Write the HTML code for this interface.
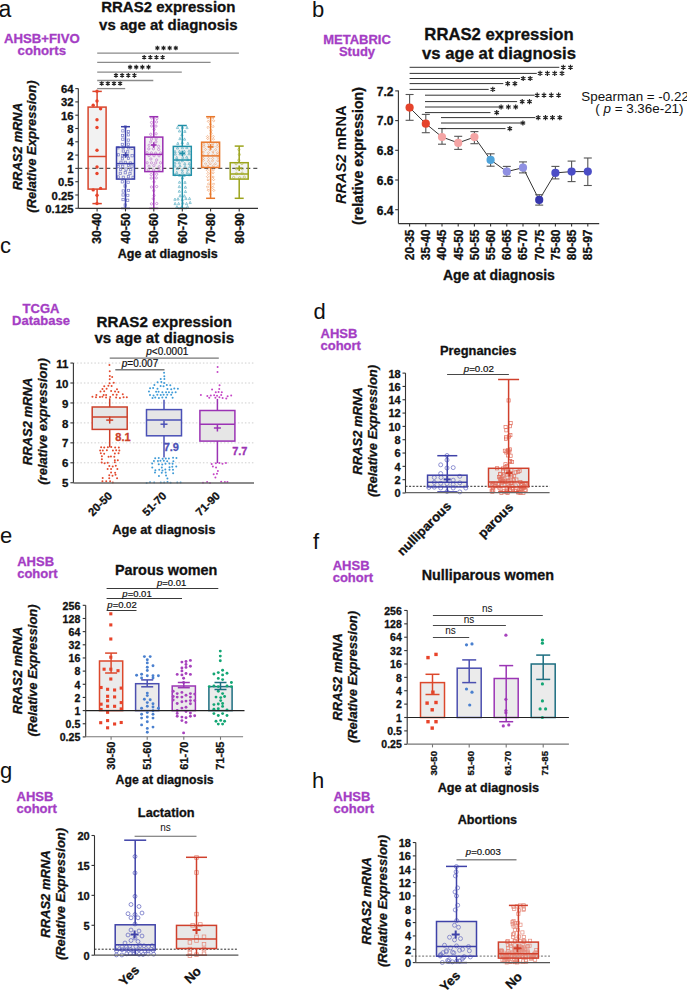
<!DOCTYPE html>
<html><head><meta charset="utf-8"><style>
html,body{margin:0;padding:0;background:#fff;}
svg{display:block;font-family:"Liberation Sans",sans-serif;}
</style></head><body>
<svg width="687" height="992" viewBox="0 0 687 992">
<rect width="687" height="992" fill="#fff"/>
<text x="-1.5" y="16.7" font-size="23" text-anchor="start" fill="#111">a</text>
<text x="41.8" y="43.2" font-size="13.2" font-weight="bold" stroke="#a43dc4" stroke-width="0.3" text-anchor="middle" fill="#a43dc4">AHSB+FIVO</text>
<text x="41.8" y="54.5" font-size="13.2" font-weight="bold" stroke="#a43dc4" stroke-width="0.3" text-anchor="middle" fill="#a43dc4">cohorts</text>
<text x="168.3" y="12.1" font-size="15" font-weight="bold" stroke="#111" stroke-width="0.3" text-anchor="middle" fill="#111">RRAS2 expression</text>
<text x="168.3" y="29.8" font-size="15" font-weight="bold" stroke="#111" stroke-width="0.3" text-anchor="middle" fill="#111">vs age at diagnosis</text>
<text x="22.2" y="146.6" font-size="13" font-weight="bold" stroke="#111" stroke-width="0.3" font-style="italic" text-anchor="middle" fill="#111" transform="rotate(-90 22.2 146.6)">RRAS2 mRNA</text>
<text x="36.4" y="146.6" font-size="13" font-weight="bold" stroke="#111" stroke-width="0.3" font-style="italic" text-anchor="middle" fill="#111" transform="rotate(-90 36.4 146.6)">(Relative Expression)</text>
<rect x="88.1" y="107.1" width="18" height="82" fill="#f2f2f2" stroke="none" stroke-width="1"/>
<rect x="116.5" y="147.2" width="18" height="31.9" fill="#f2f2f2" stroke="none" stroke-width="1"/>
<rect x="144.8" y="137.1" width="18" height="34.5" fill="#f2f2f2" stroke="none" stroke-width="1"/>
<rect x="173.3" y="146.4" width="18" height="28.8" fill="#f2f2f2" stroke="none" stroke-width="1"/>
<rect x="201.6" y="142.2" width="18" height="25.3" fill="#f2f2f2" stroke="none" stroke-width="1"/>
<rect x="230.2" y="162.7" width="18" height="16.4" fill="#f2f2f2" stroke="none" stroke-width="1"/>
<line x1="78.3" y1="168.4" x2="258" y2="168.4" stroke="#555" stroke-width="1.25" stroke-dasharray="4,3"/>
<rect x="124.25" y="125.75" width="2.3" height="2.3" fill="none" stroke="#7679c8" stroke-width="0.7"/>
<rect x="121.72" y="129.71" width="2.3" height="2.3" fill="none" stroke="#7679c8" stroke-width="0.7"/>
<rect x="127.3" y="130.42" width="2.3" height="2.3" fill="none" stroke="#7679c8" stroke-width="0.7"/>
<rect x="121.37" y="134.28" width="2.3" height="2.3" fill="none" stroke="#7679c8" stroke-width="0.7"/>
<rect x="127.3" y="133.67" width="2.3" height="2.3" fill="none" stroke="#7679c8" stroke-width="0.7"/>
<rect x="121.66" y="138.02" width="2.3" height="2.3" fill="none" stroke="#7679c8" stroke-width="0.7"/>
<rect x="127.25" y="138.96" width="2.3" height="2.3" fill="none" stroke="#7679c8" stroke-width="0.7"/>
<rect x="121.2" y="143.25" width="2.3" height="2.3" fill="none" stroke="#7679c8" stroke-width="0.7"/>
<rect x="127.24" y="143.1" width="2.3" height="2.3" fill="none" stroke="#7679c8" stroke-width="0.7"/>
<rect x="116.79" y="146.64" width="2.3" height="2.3" fill="none" stroke="#7679c8" stroke-width="0.7"/>
<rect x="121.95" y="146.39" width="2.3" height="2.3" fill="none" stroke="#7679c8" stroke-width="0.7"/>
<rect x="127.29" y="146.69" width="2.3" height="2.3" fill="none" stroke="#7679c8" stroke-width="0.7"/>
<rect x="130.94" y="147.23" width="2.3" height="2.3" fill="none" stroke="#7679c8" stroke-width="0.7"/>
<rect x="122.12" y="149.87" width="2.3" height="2.3" fill="none" stroke="#7679c8" stroke-width="0.7"/>
<rect x="126.54" y="150.72" width="2.3" height="2.3" fill="none" stroke="#7679c8" stroke-width="0.7"/>
<rect x="117.33" y="153.67" width="2.3" height="2.3" fill="none" stroke="#7679c8" stroke-width="0.7"/>
<rect x="121.39" y="154.49" width="2.3" height="2.3" fill="none" stroke="#7679c8" stroke-width="0.7"/>
<rect x="126.43" y="154.39" width="2.3" height="2.3" fill="none" stroke="#7679c8" stroke-width="0.7"/>
<rect x="131" y="154.61" width="2.3" height="2.3" fill="none" stroke="#7679c8" stroke-width="0.7"/>
<rect x="121.3" y="157.62" width="2.3" height="2.3" fill="none" stroke="#7679c8" stroke-width="0.7"/>
<rect x="127.34" y="157.29" width="2.3" height="2.3" fill="none" stroke="#7679c8" stroke-width="0.7"/>
<rect x="119.82" y="161.14" width="2.3" height="2.3" fill="none" stroke="#7679c8" stroke-width="0.7"/>
<rect x="124.19" y="161.19" width="2.3" height="2.3" fill="none" stroke="#7679c8" stroke-width="0.7"/>
<rect x="129.21" y="161.84" width="2.3" height="2.3" fill="none" stroke="#7679c8" stroke-width="0.7"/>
<rect x="117.07" y="165.25" width="2.3" height="2.3" fill="none" stroke="#7679c8" stroke-width="0.7"/>
<rect x="121.54" y="165.11" width="2.3" height="2.3" fill="none" stroke="#7679c8" stroke-width="0.7"/>
<rect x="127.33" y="164.25" width="2.3" height="2.3" fill="none" stroke="#7679c8" stroke-width="0.7"/>
<rect x="130.83" y="164.97" width="2.3" height="2.3" fill="none" stroke="#7679c8" stroke-width="0.7"/>
<rect x="119.44" y="168.23" width="2.3" height="2.3" fill="none" stroke="#7679c8" stroke-width="0.7"/>
<rect x="124.93" y="167.99" width="2.3" height="2.3" fill="none" stroke="#7679c8" stroke-width="0.7"/>
<rect x="129.55" y="168.6" width="2.3" height="2.3" fill="none" stroke="#7679c8" stroke-width="0.7"/>
<rect x="119.17" y="172.17" width="2.3" height="2.3" fill="none" stroke="#7679c8" stroke-width="0.7"/>
<rect x="124.12" y="171.57" width="2.3" height="2.3" fill="none" stroke="#7679c8" stroke-width="0.7"/>
<rect x="128.83" y="172.43" width="2.3" height="2.3" fill="none" stroke="#7679c8" stroke-width="0.7"/>
<rect x="117.2" y="175.87" width="2.3" height="2.3" fill="none" stroke="#7679c8" stroke-width="0.7"/>
<rect x="122.16" y="176.13" width="2.3" height="2.3" fill="none" stroke="#7679c8" stroke-width="0.7"/>
<rect x="127.3" y="175.54" width="2.3" height="2.3" fill="none" stroke="#7679c8" stroke-width="0.7"/>
<rect x="131.94" y="176.2" width="2.3" height="2.3" fill="none" stroke="#7679c8" stroke-width="0.7"/>
<rect x="121.17" y="180.67" width="2.3" height="2.3" fill="none" stroke="#7679c8" stroke-width="0.7"/>
<rect x="126.96" y="181.05" width="2.3" height="2.3" fill="none" stroke="#7679c8" stroke-width="0.7"/>
<rect x="123.94" y="184.83" width="2.3" height="2.3" fill="none" stroke="#7679c8" stroke-width="0.7"/>
<rect x="122.08" y="189.83" width="2.3" height="2.3" fill="none" stroke="#7679c8" stroke-width="0.7"/>
<rect x="127.35" y="189.31" width="2.3" height="2.3" fill="none" stroke="#7679c8" stroke-width="0.7"/>
<rect x="121.94" y="193.79" width="2.3" height="2.3" fill="none" stroke="#7679c8" stroke-width="0.7"/>
<rect x="126.65" y="194.22" width="2.3" height="2.3" fill="none" stroke="#7679c8" stroke-width="0.7"/>
<rect x="121.92" y="198.43" width="2.3" height="2.3" fill="none" stroke="#7679c8" stroke-width="0.7"/>
<rect x="126.53" y="199.12" width="2.3" height="2.3" fill="none" stroke="#7679c8" stroke-width="0.7"/>
<rect x="124.05" y="203.9" width="2.3" height="2.3" fill="none" stroke="#7679c8" stroke-width="0.7"/>
<circle cx="151.69" cy="117.97" r="1.15" fill="none" stroke="#c07ad0" stroke-width="0.7"/>
<circle cx="156.94" cy="118.48" r="1.15" fill="none" stroke="#c07ad0" stroke-width="0.7"/>
<circle cx="151.55" cy="122.46" r="1.15" fill="none" stroke="#c07ad0" stroke-width="0.7"/>
<circle cx="156.52" cy="121.91" r="1.15" fill="none" stroke="#c07ad0" stroke-width="0.7"/>
<circle cx="151.68" cy="125.97" r="1.15" fill="none" stroke="#c07ad0" stroke-width="0.7"/>
<circle cx="155.97" cy="126.11" r="1.15" fill="none" stroke="#c07ad0" stroke-width="0.7"/>
<circle cx="154.12" cy="129.41" r="1.15" fill="none" stroke="#c07ad0" stroke-width="0.7"/>
<circle cx="150.75" cy="134.26" r="1.15" fill="none" stroke="#c07ad0" stroke-width="0.7"/>
<circle cx="156.12" cy="133.79" r="1.15" fill="none" stroke="#c07ad0" stroke-width="0.7"/>
<circle cx="151.62" cy="139.1" r="1.15" fill="none" stroke="#c07ad0" stroke-width="0.7"/>
<circle cx="156.11" cy="138.89" r="1.15" fill="none" stroke="#c07ad0" stroke-width="0.7"/>
<circle cx="150.76" cy="141.91" r="1.15" fill="none" stroke="#c07ad0" stroke-width="0.7"/>
<circle cx="155.91" cy="141.83" r="1.15" fill="none" stroke="#c07ad0" stroke-width="0.7"/>
<circle cx="149.14" cy="145.29" r="1.15" fill="none" stroke="#c07ad0" stroke-width="0.7"/>
<circle cx="153.34" cy="145.54" r="1.15" fill="none" stroke="#c07ad0" stroke-width="0.7"/>
<circle cx="158.56" cy="146.33" r="1.15" fill="none" stroke="#c07ad0" stroke-width="0.7"/>
<circle cx="148.79" cy="148.86" r="1.15" fill="none" stroke="#c07ad0" stroke-width="0.7"/>
<circle cx="153.4" cy="148.82" r="1.15" fill="none" stroke="#c07ad0" stroke-width="0.7"/>
<circle cx="158.65" cy="149.45" r="1.15" fill="none" stroke="#c07ad0" stroke-width="0.7"/>
<circle cx="147.11" cy="152.72" r="1.15" fill="none" stroke="#c07ad0" stroke-width="0.7"/>
<circle cx="151.41" cy="152.89" r="1.15" fill="none" stroke="#c07ad0" stroke-width="0.7"/>
<circle cx="155.67" cy="153.12" r="1.15" fill="none" stroke="#c07ad0" stroke-width="0.7"/>
<circle cx="160.67" cy="153.04" r="1.15" fill="none" stroke="#c07ad0" stroke-width="0.7"/>
<circle cx="149.12" cy="155.61" r="1.15" fill="none" stroke="#c07ad0" stroke-width="0.7"/>
<circle cx="154.05" cy="155.7" r="1.15" fill="none" stroke="#c07ad0" stroke-width="0.7"/>
<circle cx="159.04" cy="155.78" r="1.15" fill="none" stroke="#c07ad0" stroke-width="0.7"/>
<circle cx="150.89" cy="158.99" r="1.15" fill="none" stroke="#c07ad0" stroke-width="0.7"/>
<circle cx="156.67" cy="159.99" r="1.15" fill="none" stroke="#c07ad0" stroke-width="0.7"/>
<circle cx="147.16" cy="162.79" r="1.15" fill="none" stroke="#c07ad0" stroke-width="0.7"/>
<circle cx="151.49" cy="162.85" r="1.15" fill="none" stroke="#c07ad0" stroke-width="0.7"/>
<circle cx="155.67" cy="162.91" r="1.15" fill="none" stroke="#c07ad0" stroke-width="0.7"/>
<circle cx="160.59" cy="162.82" r="1.15" fill="none" stroke="#c07ad0" stroke-width="0.7"/>
<circle cx="149.04" cy="166.23" r="1.15" fill="none" stroke="#c07ad0" stroke-width="0.7"/>
<circle cx="153.87" cy="165.68" r="1.15" fill="none" stroke="#c07ad0" stroke-width="0.7"/>
<circle cx="159.18" cy="166.77" r="1.15" fill="none" stroke="#c07ad0" stroke-width="0.7"/>
<circle cx="148.28" cy="169.79" r="1.15" fill="none" stroke="#c07ad0" stroke-width="0.7"/>
<circle cx="153.7" cy="170.04" r="1.15" fill="none" stroke="#c07ad0" stroke-width="0.7"/>
<circle cx="158.98" cy="169.75" r="1.15" fill="none" stroke="#c07ad0" stroke-width="0.7"/>
<circle cx="151.21" cy="174.54" r="1.15" fill="none" stroke="#c07ad0" stroke-width="0.7"/>
<circle cx="156.62" cy="174.25" r="1.15" fill="none" stroke="#c07ad0" stroke-width="0.7"/>
<circle cx="151.22" cy="178.07" r="1.15" fill="none" stroke="#c07ad0" stroke-width="0.7"/>
<circle cx="156.28" cy="177.87" r="1.15" fill="none" stroke="#c07ad0" stroke-width="0.7"/>
<circle cx="153.99" cy="181.85" r="1.15" fill="none" stroke="#c07ad0" stroke-width="0.7"/>
<circle cx="151.45" cy="186.98" r="1.15" fill="none" stroke="#c07ad0" stroke-width="0.7"/>
<circle cx="156.67" cy="186.55" r="1.15" fill="none" stroke="#c07ad0" stroke-width="0.7"/>
<circle cx="153.68" cy="190.59" r="1.15" fill="none" stroke="#c07ad0" stroke-width="0.7"/>
<circle cx="153.96" cy="195.56" r="1.15" fill="none" stroke="#c07ad0" stroke-width="0.7"/>
<circle cx="153.24" cy="198.81" r="1.15" fill="none" stroke="#c07ad0" stroke-width="0.7"/>
<circle cx="151.46" cy="203.87" r="1.15" fill="none" stroke="#c07ad0" stroke-width="0.7"/>
<circle cx="156.74" cy="203.55" r="1.15" fill="none" stroke="#c07ad0" stroke-width="0.7"/>
<path d="M177.5 126.28 L178.65 128.58 L176.35 128.58 Z" fill="none" stroke="#62b2c6" stroke-width="0.7"/>
<path d="M182.54 126.07 L183.69 128.37 L181.39 128.37 Z" fill="none" stroke="#62b2c6" stroke-width="0.7"/>
<path d="M186.99 126.35 L188.14 128.65 L185.84 128.65 Z" fill="none" stroke="#62b2c6" stroke-width="0.7"/>
<path d="M179.47 129.71 L180.62 132.01 L178.32 132.01 Z" fill="none" stroke="#62b2c6" stroke-width="0.7"/>
<path d="M184.93 130.1 L186.08 132.4 L183.78 132.4 Z" fill="none" stroke="#62b2c6" stroke-width="0.7"/>
<path d="M181.89 133.49 L183.04 135.79 L180.74 135.79 Z" fill="none" stroke="#62b2c6" stroke-width="0.7"/>
<path d="M179.96 137.36 L181.11 139.66 L178.81 139.66 Z" fill="none" stroke="#62b2c6" stroke-width="0.7"/>
<path d="M184.51 137.88 L185.66 140.18 L183.36 140.18 Z" fill="none" stroke="#62b2c6" stroke-width="0.7"/>
<path d="M177.83 142.14 L178.98 144.44 L176.68 144.44 Z" fill="none" stroke="#62b2c6" stroke-width="0.7"/>
<path d="M182.25 141.38 L183.4 143.68 L181.1 143.68 Z" fill="none" stroke="#62b2c6" stroke-width="0.7"/>
<path d="M187.85 142.09 L189 144.39 L186.7 144.39 Z" fill="none" stroke="#62b2c6" stroke-width="0.7"/>
<path d="M177.51 146.7 L178.66 149 L176.36 149 Z" fill="none" stroke="#62b2c6" stroke-width="0.7"/>
<path d="M182.4 146.48 L183.55 148.78 L181.25 148.78 Z" fill="none" stroke="#62b2c6" stroke-width="0.7"/>
<path d="M186.8 146.28 L187.95 148.58 L185.65 148.58 Z" fill="none" stroke="#62b2c6" stroke-width="0.7"/>
<path d="M175.01 150.26 L176.16 152.56 L173.86 152.56 Z" fill="none" stroke="#62b2c6" stroke-width="0.7"/>
<path d="M179.48 150.07 L180.63 152.37 L178.33 152.37 Z" fill="none" stroke="#62b2c6" stroke-width="0.7"/>
<path d="M184.34 149.97 L185.49 152.27 L183.19 152.27 Z" fill="none" stroke="#62b2c6" stroke-width="0.7"/>
<path d="M189.03 149.7 L190.18 152 L187.88 152 Z" fill="none" stroke="#62b2c6" stroke-width="0.7"/>
<path d="M175.26 152.77 L176.41 155.07 L174.11 155.07 Z" fill="none" stroke="#62b2c6" stroke-width="0.7"/>
<path d="M180.04 152.59 L181.19 154.89 L178.89 154.89 Z" fill="none" stroke="#62b2c6" stroke-width="0.7"/>
<path d="M184.31 152.71 L185.46 155.01 L183.16 155.01 Z" fill="none" stroke="#62b2c6" stroke-width="0.7"/>
<path d="M189.03 152.48 L190.18 154.78 L187.88 154.78 Z" fill="none" stroke="#62b2c6" stroke-width="0.7"/>
<path d="M176.74 156.22 L177.89 158.52 L175.59 158.52 Z" fill="none" stroke="#62b2c6" stroke-width="0.7"/>
<path d="M182.82 156.1 L183.97 158.4 L181.67 158.4 Z" fill="none" stroke="#62b2c6" stroke-width="0.7"/>
<path d="M186.72 155.85 L187.87 158.15 L185.57 158.15 Z" fill="none" stroke="#62b2c6" stroke-width="0.7"/>
<path d="M177.18 158.78 L178.33 161.08 L176.03 161.08 Z" fill="none" stroke="#62b2c6" stroke-width="0.7"/>
<path d="M182.24 159.44 L183.39 161.74 L181.09 161.74 Z" fill="none" stroke="#62b2c6" stroke-width="0.7"/>
<path d="M187.83 158.43 L188.98 160.73 L186.68 160.73 Z" fill="none" stroke="#62b2c6" stroke-width="0.7"/>
<path d="M174.93 161.69 L176.08 163.99 L173.78 163.99 Z" fill="none" stroke="#62b2c6" stroke-width="0.7"/>
<path d="M179.3 161.45 L180.45 163.75 L178.15 163.75 Z" fill="none" stroke="#62b2c6" stroke-width="0.7"/>
<path d="M184.78 162.34 L185.93 164.64 L183.63 164.64 Z" fill="none" stroke="#62b2c6" stroke-width="0.7"/>
<path d="M189.22 162.26 L190.37 164.56 L188.07 164.56 Z" fill="none" stroke="#62b2c6" stroke-width="0.7"/>
<path d="M174.93 164.73 L176.08 167.03 L173.78 167.03 Z" fill="none" stroke="#62b2c6" stroke-width="0.7"/>
<path d="M179.96 164.52 L181.11 166.82 L178.81 166.82 Z" fill="none" stroke="#62b2c6" stroke-width="0.7"/>
<path d="M185.06 165.26 L186.21 167.56 L183.91 167.56 Z" fill="none" stroke="#62b2c6" stroke-width="0.7"/>
<path d="M189.81 165.31 L190.96 167.61 L188.66 167.61 Z" fill="none" stroke="#62b2c6" stroke-width="0.7"/>
<path d="M177.49 167.34 L178.64 169.64 L176.34 169.64 Z" fill="none" stroke="#62b2c6" stroke-width="0.7"/>
<path d="M182.22 168.25 L183.37 170.55 L181.07 170.55 Z" fill="none" stroke="#62b2c6" stroke-width="0.7"/>
<path d="M187.89 168.04 L189.04 170.34 L186.74 170.34 Z" fill="none" stroke="#62b2c6" stroke-width="0.7"/>
<path d="M176.77 171.23 L177.92 173.53 L175.62 173.53 Z" fill="none" stroke="#62b2c6" stroke-width="0.7"/>
<path d="M182.43 170.99 L183.58 173.29 L181.28 173.29 Z" fill="none" stroke="#62b2c6" stroke-width="0.7"/>
<path d="M187.27 171.21 L188.42 173.51 L186.12 173.51 Z" fill="none" stroke="#62b2c6" stroke-width="0.7"/>
<path d="M174.88 173.43 L176.03 175.73 L173.73 175.73 Z" fill="none" stroke="#62b2c6" stroke-width="0.7"/>
<path d="M179.65 174.02 L180.8 176.32 L178.5 176.32 Z" fill="none" stroke="#62b2c6" stroke-width="0.7"/>
<path d="M184.11 174.22 L185.26 176.52 L182.96 176.52 Z" fill="none" stroke="#62b2c6" stroke-width="0.7"/>
<path d="M189.5 173.47 L190.65 175.77 L188.35 175.77 Z" fill="none" stroke="#62b2c6" stroke-width="0.7"/>
<path d="M182.51 176.48 L183.66 178.78 L181.36 178.78 Z" fill="none" stroke="#62b2c6" stroke-width="0.7"/>
<path d="M179.52 180.94 L180.67 183.24 L178.37 183.24 Z" fill="none" stroke="#62b2c6" stroke-width="0.7"/>
<path d="M185 181.08 L186.15 183.38 L183.85 183.38 Z" fill="none" stroke="#62b2c6" stroke-width="0.7"/>
<path d="M179.29 185.37 L180.44 187.67 L178.14 187.67 Z" fill="none" stroke="#62b2c6" stroke-width="0.7"/>
<path d="M185.42 185.9 L186.57 188.2 L184.27 188.2 Z" fill="none" stroke="#62b2c6" stroke-width="0.7"/>
<path d="M179.34 189.98 L180.49 192.28 L178.19 192.28 Z" fill="none" stroke="#62b2c6" stroke-width="0.7"/>
<path d="M185.44 190.26 L186.59 192.56 L184.29 192.56 Z" fill="none" stroke="#62b2c6" stroke-width="0.7"/>
<path d="M180.09 194.51 L181.24 196.81 L178.94 196.81 Z" fill="none" stroke="#62b2c6" stroke-width="0.7"/>
<path d="M184.35 194.67 L185.5 196.97 L183.2 196.97 Z" fill="none" stroke="#62b2c6" stroke-width="0.7"/>
<path d="M174.96 198.02 L176.11 200.32 L173.81 200.32 Z" fill="none" stroke="#62b2c6" stroke-width="0.7"/>
<path d="M178.03 197.69 L179.18 199.99 L176.88 199.99 Z" fill="none" stroke="#62b2c6" stroke-width="0.7"/>
<path d="M182.27 198.29 L183.42 200.59 L181.12 200.59 Z" fill="none" stroke="#62b2c6" stroke-width="0.7"/>
<path d="M185.93 197.27 L187.08 199.57 L184.78 199.57 Z" fill="none" stroke="#62b2c6" stroke-width="0.7"/>
<path d="M189.54 197.32 L190.69 199.62 L188.39 199.62 Z" fill="none" stroke="#62b2c6" stroke-width="0.7"/>
<path d="M175.13 202.33 L176.28 204.63 L173.98 204.63 Z" fill="none" stroke="#62b2c6" stroke-width="0.7"/>
<path d="M178.64 202.34 L179.79 204.64 L177.49 204.64 Z" fill="none" stroke="#62b2c6" stroke-width="0.7"/>
<path d="M182.86 201.72 L184.01 204.02 L181.71 204.02 Z" fill="none" stroke="#62b2c6" stroke-width="0.7"/>
<path d="M186.53 202.37 L187.68 204.67 L185.38 204.67 Z" fill="none" stroke="#62b2c6" stroke-width="0.7"/>
<path d="M190.15 201.26 L191.3 203.56 L189 203.56 Z" fill="none" stroke="#62b2c6" stroke-width="0.7"/>
<path d="M176.91 205.57 L178.06 207.87 L175.76 207.87 Z" fill="none" stroke="#62b2c6" stroke-width="0.7"/>
<path d="M181.73 205.7 L182.88 208 L180.58 208 Z" fill="none" stroke="#62b2c6" stroke-width="0.7"/>
<path d="M187.6 205.47 L188.75 207.77 L186.45 207.77 Z" fill="none" stroke="#62b2c6" stroke-width="0.7"/>
<path d="M208 116.75 L209.15 117.9 L208 119.05 L206.85 117.9 Z" fill="none" stroke="#f0a470" stroke-width="0.7"/>
<path d="M212.87 116.87 L214.02 118.02 L212.87 119.17 L211.72 118.02 Z" fill="none" stroke="#f0a470" stroke-width="0.7"/>
<path d="M208.33 120.14 L209.48 121.29 L208.33 122.44 L207.18 121.29 Z" fill="none" stroke="#f0a470" stroke-width="0.7"/>
<path d="M213.66 119.68 L214.81 120.83 L213.66 121.98 L212.51 120.83 Z" fill="none" stroke="#f0a470" stroke-width="0.7"/>
<path d="M210.29 122.97 L211.44 124.12 L210.29 125.27 L209.14 124.12 Z" fill="none" stroke="#f0a470" stroke-width="0.7"/>
<path d="M208.05 126.23 L209.2 127.38 L208.05 128.53 L206.9 127.38 Z" fill="none" stroke="#f0a470" stroke-width="0.7"/>
<path d="M213.03 125.41 L214.18 126.56 L213.03 127.71 L211.88 126.56 Z" fill="none" stroke="#f0a470" stroke-width="0.7"/>
<path d="M211.09 129.4 L212.24 130.55 L211.09 131.7 L209.94 130.55 Z" fill="none" stroke="#f0a470" stroke-width="0.7"/>
<path d="M211.18 132.14 L212.33 133.29 L211.18 134.44 L210.03 133.29 Z" fill="none" stroke="#f0a470" stroke-width="0.7"/>
<path d="M207.53 135.36 L208.68 136.51 L207.53 137.66 L206.38 136.51 Z" fill="none" stroke="#f0a470" stroke-width="0.7"/>
<path d="M213.23 135.32 L214.38 136.47 L213.23 137.62 L212.08 136.47 Z" fill="none" stroke="#f0a470" stroke-width="0.7"/>
<path d="M207.76 137.44 L208.91 138.59 L207.76 139.74 L206.61 138.59 Z" fill="none" stroke="#f0a470" stroke-width="0.7"/>
<path d="M213.39 137.99 L214.54 139.14 L213.39 140.29 L212.24 139.14 Z" fill="none" stroke="#f0a470" stroke-width="0.7"/>
<path d="M203.93 143.15 L205.08 144.3 L203.93 145.45 L202.78 144.3 Z" fill="none" stroke="#f0a470" stroke-width="0.7"/>
<path d="M208.38 142.55 L209.53 143.7 L208.38 144.85 L207.23 143.7 Z" fill="none" stroke="#f0a470" stroke-width="0.7"/>
<path d="M212.92 142.7 L214.07 143.85 L212.92 145 L211.77 143.85 Z" fill="none" stroke="#f0a470" stroke-width="0.7"/>
<path d="M217.59 142.57 L218.74 143.72 L217.59 144.87 L216.44 143.72 Z" fill="none" stroke="#f0a470" stroke-width="0.7"/>
<path d="M204.03 145.3 L205.18 146.45 L204.03 147.6 L202.88 146.45 Z" fill="none" stroke="#f0a470" stroke-width="0.7"/>
<path d="M208.55 145.45 L209.7 146.6 L208.55 147.75 L207.4 146.6 Z" fill="none" stroke="#f0a470" stroke-width="0.7"/>
<path d="M212.93 145.41 L214.08 146.56 L212.93 147.71 L211.78 146.56 Z" fill="none" stroke="#f0a470" stroke-width="0.7"/>
<path d="M217.17 145.31 L218.32 146.46 L217.17 147.61 L216.02 146.46 Z" fill="none" stroke="#f0a470" stroke-width="0.7"/>
<path d="M205.45 148.32 L206.6 149.47 L205.45 150.62 L204.3 149.47 Z" fill="none" stroke="#f0a470" stroke-width="0.7"/>
<path d="M210 148.65 L211.15 149.8 L210 150.95 L208.85 149.8 Z" fill="none" stroke="#f0a470" stroke-width="0.7"/>
<path d="M215.7 148.54 L216.85 149.69 L215.7 150.84 L214.55 149.69 Z" fill="none" stroke="#f0a470" stroke-width="0.7"/>
<path d="M203.24 150.92 L204.39 152.07 L203.24 153.22 L202.09 152.07 Z" fill="none" stroke="#f0a470" stroke-width="0.7"/>
<path d="M208.48 151.62 L209.63 152.77 L208.48 153.92 L207.33 152.77 Z" fill="none" stroke="#f0a470" stroke-width="0.7"/>
<path d="M212.98 150.72 L214.13 151.87 L212.98 153.02 L211.83 151.87 Z" fill="none" stroke="#f0a470" stroke-width="0.7"/>
<path d="M217.44 151.64 L218.59 152.79 L217.44 153.94 L216.29 152.79 Z" fill="none" stroke="#f0a470" stroke-width="0.7"/>
<path d="M203.4 153.88 L204.55 155.03 L203.4 156.18 L202.25 155.03 Z" fill="none" stroke="#f0a470" stroke-width="0.7"/>
<path d="M208.28 153.99 L209.43 155.14 L208.28 156.29 L207.13 155.14 Z" fill="none" stroke="#f0a470" stroke-width="0.7"/>
<path d="M213.26 153.53 L214.41 154.68 L213.26 155.83 L212.11 154.68 Z" fill="none" stroke="#f0a470" stroke-width="0.7"/>
<path d="M217.31 153.58 L218.46 154.73 L217.31 155.88 L216.16 154.73 Z" fill="none" stroke="#f0a470" stroke-width="0.7"/>
<path d="M203.3 157.19 L204.45 158.34 L203.3 159.49 L202.15 158.34 Z" fill="none" stroke="#f0a470" stroke-width="0.7"/>
<path d="M208.55 157.36 L209.7 158.51 L208.55 159.66 L207.4 158.51 Z" fill="none" stroke="#f0a470" stroke-width="0.7"/>
<path d="M212.64 157.27 L213.79 158.42 L212.64 159.57 L211.49 158.42 Z" fill="none" stroke="#f0a470" stroke-width="0.7"/>
<path d="M218.07 156.34 L219.22 157.49 L218.07 158.64 L216.92 157.49 Z" fill="none" stroke="#f0a470" stroke-width="0.7"/>
<path d="M203.3 159.21 L204.45 160.36 L203.3 161.51 L202.15 160.36 Z" fill="none" stroke="#f0a470" stroke-width="0.7"/>
<path d="M208.5 160.17 L209.65 161.32 L208.5 162.47 L207.35 161.32 Z" fill="none" stroke="#f0a470" stroke-width="0.7"/>
<path d="M212.53 159.79 L213.68 160.94 L212.53 162.09 L211.38 160.94 Z" fill="none" stroke="#f0a470" stroke-width="0.7"/>
<path d="M217.78 159.67 L218.93 160.82 L217.78 161.97 L216.63 160.82 Z" fill="none" stroke="#f0a470" stroke-width="0.7"/>
<path d="M205.6 162.71 L206.75 163.86 L205.6 165.01 L204.45 163.86 Z" fill="none" stroke="#f0a470" stroke-width="0.7"/>
<path d="M210.26 162.67 L211.41 163.82 L210.26 164.97 L209.11 163.82 Z" fill="none" stroke="#f0a470" stroke-width="0.7"/>
<path d="M215.4 162.63 L216.55 163.78 L215.4 164.93 L214.25 163.78 Z" fill="none" stroke="#f0a470" stroke-width="0.7"/>
<path d="M203.01 165.66 L204.16 166.81 L203.01 167.96 L201.86 166.81 Z" fill="none" stroke="#f0a470" stroke-width="0.7"/>
<path d="M207.94 164.96 L209.09 166.11 L207.94 167.26 L206.79 166.11 Z" fill="none" stroke="#f0a470" stroke-width="0.7"/>
<path d="M213.39 164.72 L214.54 165.87 L213.39 167.02 L212.24 165.87 Z" fill="none" stroke="#f0a470" stroke-width="0.7"/>
<path d="M217.91 165.37 L219.06 166.52 L217.91 167.67 L216.76 166.52 Z" fill="none" stroke="#f0a470" stroke-width="0.7"/>
<path d="M207.43 169.12 L208.58 170.27 L207.43 171.42 L206.28 170.27 Z" fill="none" stroke="#f0a470" stroke-width="0.7"/>
<path d="M213.31 168.78 L214.46 169.93 L213.31 171.08 L212.16 169.93 Z" fill="none" stroke="#f0a470" stroke-width="0.7"/>
<path d="M208.05 172.31 L209.2 173.46 L208.05 174.61 L206.9 173.46 Z" fill="none" stroke="#f0a470" stroke-width="0.7"/>
<path d="M213.12 171.68 L214.27 172.83 L213.12 173.98 L211.97 172.83 Z" fill="none" stroke="#f0a470" stroke-width="0.7"/>
<path d="M207.57 175.53 L208.72 176.68 L207.57 177.83 L206.42 176.68 Z" fill="none" stroke="#f0a470" stroke-width="0.7"/>
<path d="M213.13 175.83 L214.28 176.98 L213.13 178.13 L211.98 176.98 Z" fill="none" stroke="#f0a470" stroke-width="0.7"/>
<path d="M208.02 178.72 L209.17 179.87 L208.02 181.02 L206.87 179.87 Z" fill="none" stroke="#f0a470" stroke-width="0.7"/>
<path d="M213.55 178.47 L214.7 179.62 L213.55 180.77 L212.4 179.62 Z" fill="none" stroke="#f0a470" stroke-width="0.7"/>
<path d="M208.48 182.86 L209.63 184.01 L208.48 185.16 L207.33 184.01 Z" fill="none" stroke="#f0a470" stroke-width="0.7"/>
<path d="M213.53 182.93 L214.68 184.08 L213.53 185.23 L212.38 184.08 Z" fill="none" stroke="#f0a470" stroke-width="0.7"/>
<path d="M207.5 185.84 L208.65 186.99 L207.5 188.14 L206.35 186.99 Z" fill="none" stroke="#f0a470" stroke-width="0.7"/>
<path d="M212.8 186.21 L213.95 187.36 L212.8 188.51 L211.65 187.36 Z" fill="none" stroke="#f0a470" stroke-width="0.7"/>
<path d="M208.23 189.01 L209.38 190.16 L208.23 191.31 L207.08 190.16 Z" fill="none" stroke="#f0a470" stroke-width="0.7"/>
<path d="M213.76 189.2 L214.91 190.35 L213.76 191.5 L212.61 190.35 Z" fill="none" stroke="#f0a470" stroke-width="0.7"/>
<path d="M210.18 192.8 L211.33 193.95 L210.18 195.1 L209.03 193.95 Z" fill="none" stroke="#f0a470" stroke-width="0.7"/>
<circle cx="238.87" cy="149.53" r="1.15" fill="none" stroke="#b8bd5a" stroke-width="0.7"/>
<circle cx="239.35" cy="154.55" r="1.15" fill="none" stroke="#b8bd5a" stroke-width="0.7"/>
<circle cx="238.84" cy="160.24" r="1.15" fill="none" stroke="#b8bd5a" stroke-width="0.7"/>
<circle cx="236.1" cy="163.69" r="1.15" fill="none" stroke="#b8bd5a" stroke-width="0.7"/>
<circle cx="241.92" cy="163.52" r="1.15" fill="none" stroke="#b8bd5a" stroke-width="0.7"/>
<circle cx="236.52" cy="168.85" r="1.15" fill="none" stroke="#b8bd5a" stroke-width="0.7"/>
<circle cx="242.31" cy="168.74" r="1.15" fill="none" stroke="#b8bd5a" stroke-width="0.7"/>
<circle cx="236.48" cy="173.55" r="1.15" fill="none" stroke="#b8bd5a" stroke-width="0.7"/>
<circle cx="242.17" cy="173.22" r="1.15" fill="none" stroke="#b8bd5a" stroke-width="0.7"/>
<circle cx="233.64" cy="177.5" r="1.15" fill="none" stroke="#b8bd5a" stroke-width="0.7"/>
<circle cx="239.67" cy="177.83" r="1.15" fill="none" stroke="#b8bd5a" stroke-width="0.7"/>
<circle cx="244.3" cy="177.12" r="1.15" fill="none" stroke="#b8bd5a" stroke-width="0.7"/>
<line x1="97.1" y1="91.4" x2="97.1" y2="107.1" stroke="#d8452c" stroke-width="1.5"/>
<line x1="97.1" y1="189.1" x2="97.1" y2="203.6" stroke="#d8452c" stroke-width="1.5"/>
<line x1="92.4" y1="91.4" x2="101.8" y2="91.4" stroke="#d8452c" stroke-width="1.5"/>
<line x1="92.4" y1="203.6" x2="101.8" y2="203.6" stroke="#d8452c" stroke-width="1.5"/>
<rect x="88.1" y="107.1" width="18" height="82" fill="none" stroke="#d8452c" stroke-width="1.5"/>
<line x1="88.1" y1="156.5" x2="106.1" y2="156.5" stroke="#d8452c" stroke-width="1.5"/>
<line x1="125.5" y1="126.7" x2="125.5" y2="147.2" stroke="#3b40a8" stroke-width="1.5"/>
<line x1="125.5" y1="179.1" x2="125.5" y2="208.4" stroke="#3b40a8" stroke-width="1.5"/>
<line x1="121" y1="126.7" x2="130" y2="126.7" stroke="#3b40a8" stroke-width="1.5"/>
<line x1="121" y1="208.4" x2="130" y2="208.4" stroke="#3b40a8" stroke-width="1.5"/>
<rect x="116.5" y="147.2" width="18" height="31.9" fill="none" stroke="#3b40a8" stroke-width="1.5"/>
<line x1="116.5" y1="163.6" x2="134.5" y2="163.6" stroke="#3b40a8" stroke-width="1.5"/>
<line x1="122.7" y1="155" x2="128.3" y2="155" stroke="#3b40a8" stroke-width="1.6"/>
<line x1="125.5" y1="152.2" x2="125.5" y2="157.8" stroke="#3b40a8" stroke-width="1.6"/>
<line x1="153.8" y1="116.7" x2="153.8" y2="137.1" stroke="#9a30b2" stroke-width="1.5"/>
<line x1="153.8" y1="171.6" x2="153.8" y2="208.4" stroke="#9a30b2" stroke-width="1.5"/>
<line x1="149.3" y1="116.7" x2="158.3" y2="116.7" stroke="#9a30b2" stroke-width="1.5"/>
<line x1="149.3" y1="208.4" x2="158.3" y2="208.4" stroke="#9a30b2" stroke-width="1.5"/>
<rect x="144.8" y="137.1" width="18" height="34.5" fill="none" stroke="#9a30b2" stroke-width="1.5"/>
<line x1="144.8" y1="154.4" x2="162.8" y2="154.4" stroke="#9a30b2" stroke-width="1.5"/>
<line x1="151" y1="145" x2="156.6" y2="145" stroke="#9a30b2" stroke-width="1.6"/>
<line x1="153.8" y1="142.2" x2="153.8" y2="147.8" stroke="#9a30b2" stroke-width="1.6"/>
<line x1="182.3" y1="125.5" x2="182.3" y2="146.4" stroke="#2190a8" stroke-width="1.5"/>
<line x1="182.3" y1="175.2" x2="182.3" y2="208.4" stroke="#2190a8" stroke-width="1.5"/>
<line x1="177.8" y1="125.5" x2="186.8" y2="125.5" stroke="#2190a8" stroke-width="1.5"/>
<line x1="177.8" y1="208.4" x2="186.8" y2="208.4" stroke="#2190a8" stroke-width="1.5"/>
<rect x="173.3" y="146.4" width="18" height="28.8" fill="none" stroke="#2190a8" stroke-width="1.5"/>
<line x1="173.3" y1="160" x2="191.3" y2="160" stroke="#2190a8" stroke-width="1.5"/>
<line x1="179.5" y1="153.4" x2="185.1" y2="153.4" stroke="#2190a8" stroke-width="1.6"/>
<line x1="182.3" y1="150.6" x2="182.3" y2="156.2" stroke="#2190a8" stroke-width="1.6"/>
<line x1="210.6" y1="116.7" x2="210.6" y2="142.2" stroke="#e8782c" stroke-width="1.5"/>
<line x1="210.6" y1="167.5" x2="210.6" y2="198.3" stroke="#e8782c" stroke-width="1.5"/>
<line x1="206.1" y1="116.7" x2="215.1" y2="116.7" stroke="#e8782c" stroke-width="1.5"/>
<line x1="206.1" y1="198.3" x2="215.1" y2="198.3" stroke="#e8782c" stroke-width="1.5"/>
<rect x="201.6" y="142.2" width="18" height="25.3" fill="none" stroke="#e8782c" stroke-width="1.5"/>
<line x1="201.6" y1="155.9" x2="219.6" y2="155.9" stroke="#e8782c" stroke-width="1.5"/>
<line x1="207.8" y1="146.9" x2="213.4" y2="146.9" stroke="#e8782c" stroke-width="1.6"/>
<line x1="210.6" y1="144.1" x2="210.6" y2="149.7" stroke="#e8782c" stroke-width="1.6"/>
<line x1="239.2" y1="146.1" x2="239.2" y2="162.7" stroke="#9ca41c" stroke-width="1.5"/>
<line x1="239.2" y1="179.1" x2="239.2" y2="198.3" stroke="#9ca41c" stroke-width="1.5"/>
<line x1="234.7" y1="146.1" x2="243.7" y2="146.1" stroke="#9ca41c" stroke-width="1.5"/>
<line x1="234.7" y1="198.3" x2="243.7" y2="198.3" stroke="#9ca41c" stroke-width="1.5"/>
<rect x="230.2" y="162.7" width="18" height="16.4" fill="none" stroke="#9ca41c" stroke-width="1.5"/>
<line x1="230.2" y1="174" x2="248.2" y2="174" stroke="#9ca41c" stroke-width="1.5"/>
<line x1="236.4" y1="168.3" x2="242" y2="168.3" stroke="#9ca41c" stroke-width="1.6"/>
<line x1="239.2" y1="165.5" x2="239.2" y2="171.1" stroke="#9ca41c" stroke-width="1.6"/>
<circle cx="97" cy="91.3" r="1.7" fill="#e8432a" stroke="none" stroke-width="1"/>
<circle cx="97" cy="101" r="1.7" fill="#e8432a" stroke="none" stroke-width="1"/>
<circle cx="93.2" cy="105.2" r="1.7" fill="#e8432a" stroke="none" stroke-width="1"/>
<circle cx="100.6" cy="108.7" r="1.7" fill="#e8432a" stroke="none" stroke-width="1"/>
<circle cx="97" cy="119.7" r="1.7" fill="#e8432a" stroke="none" stroke-width="1"/>
<circle cx="97" cy="127.5" r="1.7" fill="#e8432a" stroke="none" stroke-width="1"/>
<circle cx="97" cy="150.2" r="1.7" fill="#e8432a" stroke="none" stroke-width="1"/>
<circle cx="97" cy="167" r="1.7" fill="#e8432a" stroke="none" stroke-width="1"/>
<circle cx="97" cy="173.5" r="1.7" fill="#e8432a" stroke="none" stroke-width="1"/>
<circle cx="93.2" cy="189.9" r="1.7" fill="#e8432a" stroke="none" stroke-width="1"/>
<circle cx="100.6" cy="188.4" r="1.7" fill="#e8432a" stroke="none" stroke-width="1"/>
<circle cx="97" cy="195.3" r="1.7" fill="#e8432a" stroke="none" stroke-width="1"/>
<circle cx="97" cy="203.5" r="1.7" fill="#e8432a" stroke="none" stroke-width="1"/>
<line x1="78.3" y1="88.6" x2="78.3" y2="208.4" stroke="#333" stroke-width="1.1"/>
<line x1="75.3" y1="88.6" x2="78.3" y2="88.6" stroke="#333" stroke-width="1.1"/>
<text x="73.6" y="93.12" font-size="11.3" font-weight="bold" stroke="#111" stroke-width="0.3" text-anchor="end" fill="#111">64</text>
<line x1="75.3" y1="101.9" x2="78.3" y2="101.9" stroke="#333" stroke-width="1.1"/>
<text x="73.6" y="106.42" font-size="11.3" font-weight="bold" stroke="#111" stroke-width="0.3" text-anchor="end" fill="#111">32</text>
<line x1="75.3" y1="115.2" x2="78.3" y2="115.2" stroke="#333" stroke-width="1.1"/>
<text x="73.6" y="119.72" font-size="11.3" font-weight="bold" stroke="#111" stroke-width="0.3" text-anchor="end" fill="#111">16</text>
<line x1="75.3" y1="128.5" x2="78.3" y2="128.5" stroke="#333" stroke-width="1.1"/>
<text x="73.6" y="133.02" font-size="11.3" font-weight="bold" stroke="#111" stroke-width="0.3" text-anchor="end" fill="#111">8</text>
<line x1="75.3" y1="141.8" x2="78.3" y2="141.8" stroke="#333" stroke-width="1.1"/>
<text x="73.6" y="146.32" font-size="11.3" font-weight="bold" stroke="#111" stroke-width="0.3" text-anchor="end" fill="#111">4</text>
<line x1="75.3" y1="155.1" x2="78.3" y2="155.1" stroke="#333" stroke-width="1.1"/>
<text x="73.6" y="159.62" font-size="11.3" font-weight="bold" stroke="#111" stroke-width="0.3" text-anchor="end" fill="#111">2</text>
<line x1="75.3" y1="168.4" x2="78.3" y2="168.4" stroke="#333" stroke-width="1.1"/>
<text x="73.6" y="172.92" font-size="11.3" font-weight="bold" stroke="#111" stroke-width="0.3" text-anchor="end" fill="#111">1</text>
<line x1="75.3" y1="181.7" x2="78.3" y2="181.7" stroke="#333" stroke-width="1.1"/>
<text x="73.6" y="186.22" font-size="11.3" font-weight="bold" stroke="#111" stroke-width="0.3" text-anchor="end" fill="#111">0.5</text>
<line x1="75.3" y1="195" x2="78.3" y2="195" stroke="#333" stroke-width="1.1"/>
<text x="73.6" y="199.52" font-size="11.3" font-weight="bold" stroke="#111" stroke-width="0.3" text-anchor="end" fill="#111">0.25</text>
<line x1="75.3" y1="208.3" x2="78.3" y2="208.3" stroke="#333" stroke-width="1.1"/>
<text x="73.6" y="212.82" font-size="11.3" font-weight="bold" stroke="#111" stroke-width="0.3" text-anchor="end" fill="#111">0.125</text>
<line x1="78.3" y1="208.4" x2="258" y2="208.4" stroke="#333" stroke-width="1.1"/>
<line x1="97.1" y1="208.4" x2="97.1" y2="211.4" stroke="#333" stroke-width="1.1"/>
<text x="101.4" y="213" font-size="12" font-weight="bold" stroke="#111" stroke-width="0.3" text-anchor="end" fill="#111" transform="rotate(-90 101.4 213)">30-40</text>
<line x1="125.5" y1="208.4" x2="125.5" y2="211.4" stroke="#333" stroke-width="1.1"/>
<text x="129.8" y="213" font-size="12" font-weight="bold" stroke="#111" stroke-width="0.3" text-anchor="end" fill="#111" transform="rotate(-90 129.8 213)">40-50</text>
<line x1="153.8" y1="208.4" x2="153.8" y2="211.4" stroke="#333" stroke-width="1.1"/>
<text x="158.1" y="213" font-size="12" font-weight="bold" stroke="#111" stroke-width="0.3" text-anchor="end" fill="#111" transform="rotate(-90 158.1 213)">50-60</text>
<line x1="182.3" y1="208.4" x2="182.3" y2="211.4" stroke="#333" stroke-width="1.1"/>
<text x="186.6" y="213" font-size="12" font-weight="bold" stroke="#111" stroke-width="0.3" text-anchor="end" fill="#111" transform="rotate(-90 186.6 213)">60-70</text>
<line x1="210.6" y1="208.4" x2="210.6" y2="211.4" stroke="#333" stroke-width="1.1"/>
<text x="214.9" y="213" font-size="12" font-weight="bold" stroke="#111" stroke-width="0.3" text-anchor="end" fill="#111" transform="rotate(-90 214.9 213)">70-80</text>
<line x1="239.2" y1="208.4" x2="239.2" y2="211.4" stroke="#333" stroke-width="1.1"/>
<text x="243.5" y="213" font-size="12" font-weight="bold" stroke="#111" stroke-width="0.3" text-anchor="end" fill="#111" transform="rotate(-90 243.5 213)">80-90</text>
<text x="167.8" y="257.6" font-size="12.5" font-weight="bold" stroke="#111" stroke-width="0.3" text-anchor="middle" fill="#111">Age at diagnosis</text>
<line x1="97.2" y1="88.6" x2="125.2" y2="88.6" stroke="#8a8a8a" stroke-width="1.3"/>
<path d="M101.68 81.2L101.68 85.8M99.68 82.35L103.67 84.65M103.67 82.35L99.68 84.65" stroke="#222" stroke-width="1.2" stroke-linecap="butt"/>
<path d="M107.83 81.2L107.83 85.8M105.83 82.35L109.82 84.65M109.82 82.35L105.83 84.65" stroke="#222" stroke-width="1.2" stroke-linecap="butt"/>
<path d="M113.98 81.2L113.98 85.8M111.98 82.35L115.97 84.65M115.97 82.35L111.98 84.65" stroke="#222" stroke-width="1.2" stroke-linecap="butt"/>
<path d="M120.12 81.2L120.12 85.8M118.13 82.35L122.12 84.65M122.12 82.35L118.13 84.65" stroke="#222" stroke-width="1.2" stroke-linecap="butt"/>
<line x1="97.2" y1="80.5" x2="153.3" y2="80.5" stroke="#8a8a8a" stroke-width="1.3"/>
<path d="M115.97 73.1L115.97 77.7M113.98 74.25L117.97 76.55M117.97 74.25L113.98 76.55" stroke="#222" stroke-width="1.2" stroke-linecap="butt"/>
<path d="M122.12 73.1L122.12 77.7M120.13 74.25L124.12 76.55M124.12 74.25L120.13 76.55" stroke="#222" stroke-width="1.2" stroke-linecap="butt"/>
<path d="M128.28 73.1L128.28 77.7M126.28 74.25L130.27 76.55M130.27 74.25L126.28 76.55" stroke="#222" stroke-width="1.2" stroke-linecap="butt"/>
<path d="M134.43 73.1L134.43 77.7M132.43 74.25L136.42 76.55M136.42 74.25L132.43 76.55" stroke="#222" stroke-width="1.2" stroke-linecap="butt"/>
<line x1="97.2" y1="72.2" x2="181.8" y2="72.2" stroke="#8a8a8a" stroke-width="1.3"/>
<path d="M130.08 64.8L130.08 69.4M128.08 65.95L132.07 68.25M132.07 65.95L128.08 68.25" stroke="#222" stroke-width="1.2" stroke-linecap="butt"/>
<path d="M136.23 64.8L136.23 69.4M134.23 65.95L138.22 68.25M138.22 65.95L134.23 68.25" stroke="#222" stroke-width="1.2" stroke-linecap="butt"/>
<path d="M142.38 64.8L142.38 69.4M140.38 65.95L144.37 68.25M144.37 65.95L140.38 68.25" stroke="#222" stroke-width="1.2" stroke-linecap="butt"/>
<path d="M148.53 64.8L148.53 69.4M146.53 65.95L150.52 68.25M150.52 65.95L146.53 68.25" stroke="#222" stroke-width="1.2" stroke-linecap="butt"/>
<line x1="97.2" y1="62.4" x2="210.6" y2="62.4" stroke="#8a8a8a" stroke-width="1.3"/>
<path d="M144.18 55L144.18 59.6M142.18 56.15L146.17 58.45M146.17 56.15L142.18 58.45" stroke="#222" stroke-width="1.2" stroke-linecap="butt"/>
<path d="M150.33 55L150.33 59.6M148.33 56.15L152.32 58.45M152.32 56.15L148.33 58.45" stroke="#222" stroke-width="1.2" stroke-linecap="butt"/>
<path d="M156.47 55L156.47 59.6M154.48 56.15L158.47 58.45M158.47 56.15L154.48 58.45" stroke="#222" stroke-width="1.2" stroke-linecap="butt"/>
<path d="M162.62 55L162.62 59.6M160.63 56.15L164.62 58.45M164.62 56.15L160.63 58.45" stroke="#222" stroke-width="1.2" stroke-linecap="butt"/>
<line x1="97.2" y1="53.1" x2="238.9" y2="53.1" stroke="#8a8a8a" stroke-width="1.3"/>
<path d="M157.38 45.7L157.38 50.3M155.38 46.85L159.37 49.15M159.37 46.85L155.38 49.15" stroke="#222" stroke-width="1.2" stroke-linecap="butt"/>
<path d="M163.53 45.7L163.53 50.3M161.53 46.85L165.52 49.15M165.52 46.85L161.53 49.15" stroke="#222" stroke-width="1.2" stroke-linecap="butt"/>
<path d="M169.67 45.7L169.67 50.3M167.68 46.85L171.67 49.15M171.67 46.85L167.68 49.15" stroke="#222" stroke-width="1.2" stroke-linecap="butt"/>
<path d="M175.82 45.7L175.82 50.3M173.83 46.85L177.82 49.15M177.82 46.85L173.83 49.15" stroke="#222" stroke-width="1.2" stroke-linecap="butt"/>
<text x="312" y="17" font-size="22" text-anchor="start" fill="#111">b</text>
<text x="357" y="43.7" font-size="13" font-weight="bold" stroke="#a43dc4" stroke-width="0.3" text-anchor="middle" fill="#a43dc4">METABRIC</text>
<text x="357" y="55.9" font-size="13" font-weight="bold" stroke="#a43dc4" stroke-width="0.3" text-anchor="middle" fill="#a43dc4">Study</text>
<text x="499" y="39.8" font-size="16.7" font-weight="bold" stroke="#111" stroke-width="0.3" text-anchor="middle" fill="#111">RRAS2 expression</text>
<text x="499" y="58.8" font-size="16.7" font-weight="bold" stroke="#111" stroke-width="0.3" text-anchor="middle" fill="#111">vs age at diagnosis</text>
<line x1="398.4" y1="90.6" x2="398.4" y2="223.6" stroke="#333" stroke-width="1.1"/>
<line x1="395.2" y1="90.9" x2="398.4" y2="90.9" stroke="#333" stroke-width="1.1"/>
<text x="393.4" y="95.7" font-size="12" font-weight="bold" stroke="#111" stroke-width="0.3" text-anchor="end" fill="#111">7.2</text>
<line x1="395.2" y1="120.6" x2="398.4" y2="120.6" stroke="#333" stroke-width="1.1"/>
<text x="393.4" y="125.4" font-size="12" font-weight="bold" stroke="#111" stroke-width="0.3" text-anchor="end" fill="#111">7.0</text>
<line x1="395.2" y1="150.3" x2="398.4" y2="150.3" stroke="#333" stroke-width="1.1"/>
<text x="393.4" y="155.1" font-size="12" font-weight="bold" stroke="#111" stroke-width="0.3" text-anchor="end" fill="#111">6.8</text>
<line x1="395.2" y1="180" x2="398.4" y2="180" stroke="#333" stroke-width="1.1"/>
<text x="393.4" y="184.8" font-size="12" font-weight="bold" stroke="#111" stroke-width="0.3" text-anchor="end" fill="#111">6.6</text>
<line x1="395.2" y1="209.7" x2="398.4" y2="209.7" stroke="#333" stroke-width="1.1"/>
<text x="393.4" y="214.5" font-size="12" font-weight="bold" stroke="#111" stroke-width="0.3" text-anchor="end" fill="#111">6.4</text>
<line x1="398.4" y1="223.6" x2="599.2" y2="223.6" stroke="#333" stroke-width="1.1"/>
<line x1="409.6" y1="223.6" x2="409.6" y2="226.6" stroke="#333" stroke-width="1.1"/>
<text x="413.9" y="229.5" font-size="12" font-weight="bold" stroke="#111" stroke-width="0.3" text-anchor="end" fill="#111" transform="rotate(-90 413.9 229.5)">20-35</text>
<line x1="425.8" y1="223.6" x2="425.8" y2="226.6" stroke="#333" stroke-width="1.1"/>
<text x="430.1" y="229.5" font-size="12" font-weight="bold" stroke="#111" stroke-width="0.3" text-anchor="end" fill="#111" transform="rotate(-90 430.1 229.5)">35-40</text>
<line x1="442" y1="223.6" x2="442" y2="226.6" stroke="#333" stroke-width="1.1"/>
<text x="446.3" y="229.5" font-size="12" font-weight="bold" stroke="#111" stroke-width="0.3" text-anchor="end" fill="#111" transform="rotate(-90 446.3 229.5)">40-45</text>
<line x1="458.2" y1="223.6" x2="458.2" y2="226.6" stroke="#333" stroke-width="1.1"/>
<text x="462.5" y="229.5" font-size="12" font-weight="bold" stroke="#111" stroke-width="0.3" text-anchor="end" fill="#111" transform="rotate(-90 462.5 229.5)">45-50</text>
<line x1="474.4" y1="223.6" x2="474.4" y2="226.6" stroke="#333" stroke-width="1.1"/>
<text x="478.7" y="229.5" font-size="12" font-weight="bold" stroke="#111" stroke-width="0.3" text-anchor="end" fill="#111" transform="rotate(-90 478.7 229.5)">50-55</text>
<line x1="490.6" y1="223.6" x2="490.6" y2="226.6" stroke="#333" stroke-width="1.1"/>
<text x="494.9" y="229.5" font-size="12" font-weight="bold" stroke="#111" stroke-width="0.3" text-anchor="end" fill="#111" transform="rotate(-90 494.9 229.5)">55-60</text>
<line x1="506.8" y1="223.6" x2="506.8" y2="226.6" stroke="#333" stroke-width="1.1"/>
<text x="511.1" y="229.5" font-size="12" font-weight="bold" stroke="#111" stroke-width="0.3" text-anchor="end" fill="#111" transform="rotate(-90 511.1 229.5)">60-65</text>
<line x1="523" y1="223.6" x2="523" y2="226.6" stroke="#333" stroke-width="1.1"/>
<text x="527.3" y="229.5" font-size="12" font-weight="bold" stroke="#111" stroke-width="0.3" text-anchor="end" fill="#111" transform="rotate(-90 527.3 229.5)">65-70</text>
<line x1="539.2" y1="223.6" x2="539.2" y2="226.6" stroke="#333" stroke-width="1.1"/>
<text x="543.5" y="229.5" font-size="12" font-weight="bold" stroke="#111" stroke-width="0.3" text-anchor="end" fill="#111" transform="rotate(-90 543.5 229.5)">70-75</text>
<line x1="555.4" y1="223.6" x2="555.4" y2="226.6" stroke="#333" stroke-width="1.1"/>
<text x="559.7" y="229.5" font-size="12" font-weight="bold" stroke="#111" stroke-width="0.3" text-anchor="end" fill="#111" transform="rotate(-90 559.7 229.5)">75-80</text>
<line x1="571.6" y1="223.6" x2="571.6" y2="226.6" stroke="#333" stroke-width="1.1"/>
<text x="575.9" y="229.5" font-size="12" font-weight="bold" stroke="#111" stroke-width="0.3" text-anchor="end" fill="#111" transform="rotate(-90 575.9 229.5)">80-85</text>
<line x1="587.8" y1="223.6" x2="587.8" y2="226.6" stroke="#333" stroke-width="1.1"/>
<text x="592.1" y="229.5" font-size="12" font-weight="bold" stroke="#111" stroke-width="0.3" text-anchor="end" fill="#111" transform="rotate(-90 592.1 229.5)">85-97</text>
<text x="498.9" y="280.4" font-size="14" font-weight="bold" stroke="#111" stroke-width="0.3" text-anchor="middle" fill="#111">Age at diagnosis</text>
<text transform="rotate(-90 346.3 154.7)" x="346.3" y="154.7" font-size="14.7" font-weight="bold" text-anchor="middle" fill="#111"><tspan font-style="italic">RRAS2</tspan> mRNA</text>
<text x="362.6" y="156" font-size="14.2" font-weight="bold" stroke="#111" stroke-width="0.3" text-anchor="middle" fill="#111" transform="rotate(-90 362.6 156)">(relative expression)</text>
<polyline points="409.6,107.6 425.8,123.7 442,137 458.2,142.9 474.4,137.1 490.6,159.9 506.8,171.6 523,167.7 539.2,199.9 555.4,172.9 571.6,171.6 587.8,171.6" fill="none" stroke="#333" stroke-width="1"/>
<line x1="409.6" y1="94.5" x2="409.6" y2="120.3" stroke="#555" stroke-width="1.1"/>
<line x1="405.6" y1="94.5" x2="413.6" y2="94.5" stroke="#555" stroke-width="1.1"/>
<line x1="405.6" y1="120.3" x2="413.6" y2="120.3" stroke="#555" stroke-width="1.1"/>
<line x1="425.8" y1="114.4" x2="425.8" y2="132.7" stroke="#555" stroke-width="1.1"/>
<line x1="421.8" y1="114.4" x2="429.8" y2="114.4" stroke="#555" stroke-width="1.1"/>
<line x1="421.8" y1="132.7" x2="429.8" y2="132.7" stroke="#555" stroke-width="1.1"/>
<line x1="442" y1="128.5" x2="442" y2="144.2" stroke="#555" stroke-width="1.1"/>
<line x1="438" y1="128.5" x2="446" y2="128.5" stroke="#555" stroke-width="1.1"/>
<line x1="438" y1="144.2" x2="446" y2="144.2" stroke="#555" stroke-width="1.1"/>
<line x1="458.2" y1="136.3" x2="458.2" y2="149.4" stroke="#555" stroke-width="1.1"/>
<line x1="454.2" y1="136.3" x2="462.2" y2="136.3" stroke="#555" stroke-width="1.1"/>
<line x1="454.2" y1="149.4" x2="462.2" y2="149.4" stroke="#555" stroke-width="1.1"/>
<line x1="474.4" y1="131.6" x2="474.4" y2="143.7" stroke="#555" stroke-width="1.1"/>
<line x1="470.4" y1="131.6" x2="478.4" y2="131.6" stroke="#555" stroke-width="1.1"/>
<line x1="470.4" y1="143.7" x2="478.4" y2="143.7" stroke="#555" stroke-width="1.1"/>
<line x1="490.6" y1="153.8" x2="490.6" y2="166.2" stroke="#555" stroke-width="1.1"/>
<line x1="486.6" y1="153.8" x2="494.6" y2="153.8" stroke="#555" stroke-width="1.1"/>
<line x1="486.6" y1="166.2" x2="494.6" y2="166.2" stroke="#555" stroke-width="1.1"/>
<line x1="506.8" y1="166.4" x2="506.8" y2="176.3" stroke="#555" stroke-width="1.1"/>
<line x1="502.8" y1="166.4" x2="510.8" y2="166.4" stroke="#555" stroke-width="1.1"/>
<line x1="502.8" y1="176.3" x2="510.8" y2="176.3" stroke="#555" stroke-width="1.1"/>
<line x1="523" y1="161.9" x2="523" y2="172.9" stroke="#555" stroke-width="1.1"/>
<line x1="519" y1="161.9" x2="527" y2="161.9" stroke="#555" stroke-width="1.1"/>
<line x1="519" y1="172.9" x2="527" y2="172.9" stroke="#555" stroke-width="1.1"/>
<line x1="539.2" y1="194.7" x2="539.2" y2="205.1" stroke="#555" stroke-width="1.1"/>
<line x1="535.2" y1="194.7" x2="543.2" y2="194.7" stroke="#555" stroke-width="1.1"/>
<line x1="535.2" y1="205.1" x2="543.2" y2="205.1" stroke="#555" stroke-width="1.1"/>
<line x1="555.4" y1="166.4" x2="555.4" y2="178.9" stroke="#555" stroke-width="1.1"/>
<line x1="551.4" y1="166.4" x2="559.4" y2="166.4" stroke="#555" stroke-width="1.1"/>
<line x1="551.4" y1="178.9" x2="559.4" y2="178.9" stroke="#555" stroke-width="1.1"/>
<line x1="571.6" y1="161.1" x2="571.6" y2="181.6" stroke="#555" stroke-width="1.1"/>
<line x1="567.6" y1="161.1" x2="575.6" y2="161.1" stroke="#555" stroke-width="1.1"/>
<line x1="567.6" y1="181.6" x2="575.6" y2="181.6" stroke="#555" stroke-width="1.1"/>
<line x1="587.8" y1="158" x2="587.8" y2="185.5" stroke="#555" stroke-width="1.1"/>
<line x1="583.8" y1="158" x2="591.8" y2="158" stroke="#555" stroke-width="1.1"/>
<line x1="583.8" y1="185.5" x2="591.8" y2="185.5" stroke="#555" stroke-width="1.1"/>
<circle cx="409.6" cy="107.6" r="4.1" fill="#e5432b" stroke="none" stroke-width="1"/>
<circle cx="425.8" cy="123.7" r="4.1" fill="#e5432b" stroke="none" stroke-width="1"/>
<circle cx="442" cy="137" r="4.1" fill="#f4a4a4" stroke="none" stroke-width="1"/>
<circle cx="458.2" cy="142.9" r="4.1" fill="#f4a4a4" stroke="none" stroke-width="1"/>
<circle cx="474.4" cy="137.1" r="4.1" fill="#f4a4a4" stroke="none" stroke-width="1"/>
<circle cx="490.6" cy="159.9" r="4.1" fill="#4ea3da" stroke="none" stroke-width="1"/>
<circle cx="506.8" cy="171.6" r="4.1" fill="#8f90e2" stroke="none" stroke-width="1"/>
<circle cx="523" cy="167.7" r="4.1" fill="#8f90e2" stroke="none" stroke-width="1"/>
<circle cx="539.2" cy="199.9" r="4.1" fill="#3636ad" stroke="none" stroke-width="1"/>
<circle cx="555.4" cy="172.9" r="4.1" fill="#4b4dc6" stroke="none" stroke-width="1"/>
<circle cx="571.6" cy="171.6" r="4.1" fill="#4b4dc6" stroke="none" stroke-width="1"/>
<circle cx="587.8" cy="171.6" r="4.1" fill="#4b4dc6" stroke="none" stroke-width="1"/>
<line x1="409.6" y1="67.3" x2="559.3" y2="67.3" stroke="#333" stroke-width="1"/>
<path d="M563.3 64.7L563.3 69.9M561.05 66L565.55 68.6M565.55 66L561.05 68.6" stroke="#222" stroke-width="1.2" stroke-linecap="butt"/>
<path d="M570.5 64.7L570.5 69.9M568.25 66L572.75 68.6M572.75 66L568.25 68.6" stroke="#222" stroke-width="1.2" stroke-linecap="butt"/>
<line x1="409.6" y1="73.4" x2="536.8" y2="73.4" stroke="#333" stroke-width="1"/>
<path d="M540.1 70.8L540.1 76M537.85 72.1L542.35 74.7M542.35 72.1L537.85 74.7" stroke="#222" stroke-width="1.2" stroke-linecap="butt"/>
<path d="M547.4 70.8L547.4 76M545.15 72.1L549.65 74.7M549.65 72.1L545.15 74.7" stroke="#222" stroke-width="1.2" stroke-linecap="butt"/>
<path d="M554.7 70.8L554.7 76M552.45 72.1L556.95 74.7M556.95 72.1L552.45 74.7" stroke="#222" stroke-width="1.2" stroke-linecap="butt"/>
<path d="M562 70.8L562 76M559.75 72.1L564.25 74.7M564.25 72.1L559.75 74.7" stroke="#222" stroke-width="1.2" stroke-linecap="butt"/>
<line x1="409.6" y1="78.5" x2="520" y2="78.5" stroke="#333" stroke-width="1"/>
<path d="M523.2 75.9L523.2 81.1M520.95 77.2L525.45 79.8M525.45 77.2L520.95 79.8" stroke="#222" stroke-width="1.2" stroke-linecap="butt"/>
<path d="M530.2 75.9L530.2 81.1M527.95 77.2L532.45 79.8M532.45 77.2L527.95 79.8" stroke="#222" stroke-width="1.2" stroke-linecap="butt"/>
<line x1="409.6" y1="83.6" x2="503.3" y2="83.6" stroke="#333" stroke-width="1"/>
<path d="M507.7 81L507.7 86.2M505.45 82.3L509.95 84.9M509.95 82.3L505.45 84.9" stroke="#222" stroke-width="1.2" stroke-linecap="butt"/>
<path d="M514.9 81L514.9 86.2M512.65 82.3L517.15 84.9M517.15 82.3L512.65 84.9" stroke="#222" stroke-width="1.2" stroke-linecap="butt"/>
<line x1="409.6" y1="89.4" x2="488.7" y2="89.4" stroke="#333" stroke-width="1"/>
<path d="M492.8 86.8L492.8 92M490.55 88.1L495.05 90.7M495.05 88.1L490.55 90.7" stroke="#222" stroke-width="1.2" stroke-linecap="butt"/>
<line x1="425" y1="95.2" x2="534.6" y2="95.2" stroke="#333" stroke-width="1"/>
<path d="M537.2 92.6L537.2 97.8M534.95 93.9L539.45 96.5M539.45 93.9L534.95 96.5" stroke="#222" stroke-width="1.2" stroke-linecap="butt"/>
<path d="M544 92.6L544 97.8M541.75 93.9L546.25 96.5M546.25 93.9L541.75 96.5" stroke="#222" stroke-width="1.2" stroke-linecap="butt"/>
<path d="M551.3 92.6L551.3 97.8M549.05 93.9L553.55 96.5M553.55 93.9L549.05 96.5" stroke="#222" stroke-width="1.2" stroke-linecap="butt"/>
<path d="M558.6 92.6L558.6 97.8M556.35 93.9L560.85 96.5M560.85 93.9L556.35 96.5" stroke="#222" stroke-width="1.2" stroke-linecap="butt"/>
<line x1="425" y1="101.6" x2="517.1" y2="101.6" stroke="#333" stroke-width="1"/>
<path d="M522.2 99L522.2 104.2M519.95 100.3L524.45 102.9M524.45 100.3L519.95 102.9" stroke="#222" stroke-width="1.2" stroke-linecap="butt"/>
<path d="M529.5 99L529.5 104.2M527.25 100.3L531.75 102.9M531.75 100.3L527.25 102.9" stroke="#222" stroke-width="1.2" stroke-linecap="butt"/>
<line x1="425" y1="107" x2="499.7" y2="107" stroke="#333" stroke-width="1"/>
<path d="M501.1 104.4L501.1 109.6M498.85 105.7L503.35 108.3M503.35 105.7L498.85 108.3" stroke="#222" stroke-width="1.2" stroke-linecap="butt"/>
<path d="M508.4 104.4L508.4 109.6M506.15 105.7L510.65 108.3M510.65 105.7L506.15 108.3" stroke="#222" stroke-width="1.2" stroke-linecap="butt"/>
<path d="M515.7 104.4L515.7 109.6M513.45 105.7L517.95 108.3M517.95 105.7L513.45 108.3" stroke="#222" stroke-width="1.2" stroke-linecap="butt"/>
<line x1="425" y1="112.6" x2="490.5" y2="112.6" stroke="#333" stroke-width="1"/>
<path d="M496.7 110L496.7 115.2M494.45 111.3L498.95 113.9M498.95 111.3L494.45 113.9" stroke="#222" stroke-width="1.2" stroke-linecap="butt"/>
<line x1="441" y1="117.6" x2="535.3" y2="117.6" stroke="#333" stroke-width="1"/>
<path d="M538.2 115L538.2 120.2M535.95 116.3L540.45 118.9M540.45 116.3L535.95 118.9" stroke="#222" stroke-width="1.2" stroke-linecap="butt"/>
<path d="M545.5 115L545.5 120.2M543.25 116.3L547.75 118.9M547.75 116.3L543.25 118.9" stroke="#222" stroke-width="1.2" stroke-linecap="butt"/>
<path d="M552.5 115L552.5 120.2M550.25 116.3L554.75 118.9M554.75 116.3L550.25 118.9" stroke="#222" stroke-width="1.2" stroke-linecap="butt"/>
<path d="M559.8 115L559.8 120.2M557.55 116.3L562.05 118.9M562.05 116.3L557.55 118.9" stroke="#222" stroke-width="1.2" stroke-linecap="butt"/>
<line x1="441" y1="123" x2="521.5" y2="123" stroke="#333" stroke-width="1"/>
<path d="M522.9 120.4L522.9 125.6M520.65 121.7L525.15 124.3M525.15 121.7L520.65 124.3" stroke="#222" stroke-width="1.2" stroke-linecap="butt"/>
<line x1="441" y1="128.6" x2="505.5" y2="128.6" stroke="#333" stroke-width="1"/>
<path d="M509.8 126L509.8 131.2M507.55 127.3L512.05 129.9M512.05 127.3L507.55 129.9" stroke="#222" stroke-width="1.2" stroke-linecap="butt"/>
<text x="581.3" y="100.8" font-size="13.4" text-anchor="start" fill="#111">Spearman = -0.22</text>
<text x="595.3" y="112.6" font-size="13.4" fill="#111">( <tspan font-style="italic">p</tspan> = 3.36e-21)</text>
<text x="0" y="253.3" font-size="22" text-anchor="start" fill="#111">c</text>
<text x="41" y="312.8" font-size="13" font-weight="bold" stroke="#a43dc4" stroke-width="0.3" text-anchor="middle" fill="#a43dc4">TCGA</text>
<text x="41" y="324.8" font-size="13" font-weight="bold" stroke="#a43dc4" stroke-width="0.3" text-anchor="middle" fill="#a43dc4">Database</text>
<text x="164.3" y="327.4" font-size="15.15" font-weight="bold" stroke="#111" stroke-width="0.3" text-anchor="middle" fill="#111">RRAS2 expression</text>
<text x="164.3" y="343.1" font-size="15.15" font-weight="bold" stroke="#111" stroke-width="0.3" text-anchor="middle" fill="#111">vs age at diagnosis</text>
<line x1="73.4" y1="462.8" x2="253.5" y2="462.8" stroke="#cfcfcf" stroke-width="1" stroke-dasharray="1.5,2"/>
<line x1="73.4" y1="442.85" x2="253.5" y2="442.85" stroke="#cfcfcf" stroke-width="1" stroke-dasharray="1.5,2"/>
<line x1="73.4" y1="422.9" x2="253.5" y2="422.9" stroke="#cfcfcf" stroke-width="1" stroke-dasharray="1.5,2"/>
<line x1="73.4" y1="402.95" x2="253.5" y2="402.95" stroke="#cfcfcf" stroke-width="1" stroke-dasharray="1.5,2"/>
<line x1="73.4" y1="383" x2="253.5" y2="383" stroke="#cfcfcf" stroke-width="1" stroke-dasharray="1.5,2"/>
<line x1="73.4" y1="363.05" x2="253.5" y2="363.05" stroke="#cfcfcf" stroke-width="1" stroke-dasharray="1.5,2"/>
<text x="32.3" y="421.5" font-size="13" font-weight="bold" stroke="#111" stroke-width="0.3" font-style="italic" text-anchor="middle" fill="#111" transform="rotate(-90 32.3 421.5)">RRAS2 mRNA</text>
<text x="47" y="421.5" font-size="13" font-weight="bold" stroke="#111" stroke-width="0.3" font-style="italic" text-anchor="middle" fill="#111" transform="rotate(-90 47 421.5)">(relative expression)</text>
<circle cx="109.44" cy="365.1" r="1" fill="#e34b2f" stroke="none" stroke-width="1"/>
<circle cx="109.74" cy="371.2" r="1" fill="#e34b2f" stroke="none" stroke-width="1"/>
<circle cx="109.83" cy="375.89" r="1" fill="#e34b2f" stroke="none" stroke-width="1"/>
<circle cx="112.21" cy="376.97" r="1" fill="#e34b2f" stroke="none" stroke-width="1"/>
<circle cx="109.75" cy="379.17" r="1" fill="#e34b2f" stroke="none" stroke-width="1"/>
<circle cx="113.74" cy="382.77" r="1" fill="#e34b2f" stroke="none" stroke-width="1"/>
<circle cx="109.6" cy="383.21" r="1" fill="#e34b2f" stroke="none" stroke-width="1"/>
<circle cx="108.4" cy="385.83" r="1" fill="#e34b2f" stroke="none" stroke-width="1"/>
<circle cx="111.61" cy="386.04" r="1" fill="#e34b2f" stroke="none" stroke-width="1"/>
<circle cx="104.26" cy="386.16" r="1" fill="#e34b2f" stroke="none" stroke-width="1"/>
<circle cx="116.98" cy="389.35" r="1" fill="#e34b2f" stroke="none" stroke-width="1"/>
<circle cx="102.47" cy="389.03" r="1" fill="#e34b2f" stroke="none" stroke-width="1"/>
<circle cx="106.62" cy="388.74" r="1" fill="#e34b2f" stroke="none" stroke-width="1"/>
<circle cx="111.1" cy="390.89" r="1" fill="#e34b2f" stroke="none" stroke-width="1"/>
<circle cx="118.42" cy="392.05" r="1" fill="#e34b2f" stroke="none" stroke-width="1"/>
<circle cx="115.04" cy="391.58" r="1" fill="#e34b2f" stroke="none" stroke-width="1"/>
<circle cx="100.5" cy="391.41" r="1" fill="#e34b2f" stroke="none" stroke-width="1"/>
<circle cx="104.19" cy="391.19" r="1" fill="#e34b2f" stroke="none" stroke-width="1"/>
<circle cx="116.69" cy="394.74" r="1" fill="#e34b2f" stroke="none" stroke-width="1"/>
<circle cx="106.11" cy="395" r="1" fill="#e34b2f" stroke="none" stroke-width="1"/>
<circle cx="103.66" cy="395.07" r="1" fill="#e34b2f" stroke="none" stroke-width="1"/>
<circle cx="113.02" cy="394.8" r="1" fill="#e34b2f" stroke="none" stroke-width="1"/>
<circle cx="96.41" cy="394.96" r="1" fill="#e34b2f" stroke="none" stroke-width="1"/>
<circle cx="122.77" cy="394.2" r="1" fill="#e34b2f" stroke="none" stroke-width="1"/>
<circle cx="96.03" cy="397.18" r="1" fill="#e34b2f" stroke="none" stroke-width="1"/>
<circle cx="116.12" cy="397.45" r="1" fill="#e34b2f" stroke="none" stroke-width="1"/>
<circle cx="123.56" cy="397.13" r="1" fill="#e34b2f" stroke="none" stroke-width="1"/>
<circle cx="126.79" cy="397.37" r="1" fill="#e34b2f" stroke="none" stroke-width="1"/>
<circle cx="99.92" cy="396.99" r="1" fill="#e34b2f" stroke="none" stroke-width="1"/>
<circle cx="92.44" cy="396.65" r="1" fill="#e34b2f" stroke="none" stroke-width="1"/>
<circle cx="102.41" cy="396.75" r="1" fill="#e34b2f" stroke="none" stroke-width="1"/>
<circle cx="119.94" cy="397.93" r="1" fill="#e34b2f" stroke="none" stroke-width="1"/>
<circle cx="110.17" cy="397.01" r="1" fill="#e34b2f" stroke="none" stroke-width="1"/>
<circle cx="106.06" cy="397.57" r="1" fill="#e34b2f" stroke="none" stroke-width="1"/>
<circle cx="107.86" cy="447.33" r="1" fill="#e34b2f" stroke="none" stroke-width="1"/>
<circle cx="118.84" cy="447.43" r="1" fill="#e34b2f" stroke="none" stroke-width="1"/>
<circle cx="115.16" cy="447.47" r="1" fill="#e34b2f" stroke="none" stroke-width="1"/>
<circle cx="101.14" cy="447.31" r="1" fill="#e34b2f" stroke="none" stroke-width="1"/>
<circle cx="104.23" cy="447.61" r="1" fill="#e34b2f" stroke="none" stroke-width="1"/>
<circle cx="111.24" cy="447.02" r="1" fill="#e34b2f" stroke="none" stroke-width="1"/>
<circle cx="106.85" cy="450.14" r="1" fill="#e34b2f" stroke="none" stroke-width="1"/>
<circle cx="112.91" cy="450.52" r="1" fill="#e34b2f" stroke="none" stroke-width="1"/>
<circle cx="119.33" cy="450.59" r="1" fill="#e34b2f" stroke="none" stroke-width="1"/>
<circle cx="116.2" cy="450.19" r="1" fill="#e34b2f" stroke="none" stroke-width="1"/>
<circle cx="100.12" cy="450.55" r="1" fill="#e34b2f" stroke="none" stroke-width="1"/>
<circle cx="102.81" cy="450.39" r="1" fill="#e34b2f" stroke="none" stroke-width="1"/>
<circle cx="114.85" cy="453.44" r="1" fill="#e34b2f" stroke="none" stroke-width="1"/>
<circle cx="100.79" cy="453.25" r="1" fill="#e34b2f" stroke="none" stroke-width="1"/>
<circle cx="118.56" cy="453.24" r="1" fill="#e34b2f" stroke="none" stroke-width="1"/>
<circle cx="104.17" cy="453.63" r="1" fill="#e34b2f" stroke="none" stroke-width="1"/>
<circle cx="108.57" cy="456.86" r="1" fill="#e34b2f" stroke="none" stroke-width="1"/>
<circle cx="110.93" cy="456.6" r="1" fill="#e34b2f" stroke="none" stroke-width="1"/>
<circle cx="101.85" cy="456.28" r="1" fill="#e34b2f" stroke="none" stroke-width="1"/>
<circle cx="114.33" cy="456.85" r="1" fill="#e34b2f" stroke="none" stroke-width="1"/>
<circle cx="117.8" cy="460.33" r="1" fill="#e34b2f" stroke="none" stroke-width="1"/>
<circle cx="101.87" cy="459.31" r="1" fill="#e34b2f" stroke="none" stroke-width="1"/>
<circle cx="114.81" cy="460.34" r="1" fill="#e34b2f" stroke="none" stroke-width="1"/>
<circle cx="101.65" cy="462.42" r="1" fill="#e34b2f" stroke="none" stroke-width="1"/>
<circle cx="107.72" cy="462.84" r="1" fill="#e34b2f" stroke="none" stroke-width="1"/>
<circle cx="104.59" cy="463.23" r="1" fill="#e34b2f" stroke="none" stroke-width="1"/>
<circle cx="114.84" cy="462.36" r="1" fill="#e34b2f" stroke="none" stroke-width="1"/>
<circle cx="109.29" cy="466.07" r="1" fill="#e34b2f" stroke="none" stroke-width="1"/>
<circle cx="115.79" cy="465.79" r="1" fill="#e34b2f" stroke="none" stroke-width="1"/>
<circle cx="112.72" cy="466.39" r="1" fill="#e34b2f" stroke="none" stroke-width="1"/>
<circle cx="111.09" cy="469.1" r="1" fill="#e34b2f" stroke="none" stroke-width="1"/>
<circle cx="107.64" cy="468.88" r="1" fill="#e34b2f" stroke="none" stroke-width="1"/>
<circle cx="117.4" cy="468.97" r="1" fill="#e34b2f" stroke="none" stroke-width="1"/>
<circle cx="115.15" cy="472.7" r="1" fill="#e34b2f" stroke="none" stroke-width="1"/>
<circle cx="111.09" cy="472.44" r="1" fill="#e34b2f" stroke="none" stroke-width="1"/>
<circle cx="115.54" cy="474.82" r="1" fill="#e34b2f" stroke="none" stroke-width="1"/>
<circle cx="109.27" cy="475.32" r="1" fill="#e34b2f" stroke="none" stroke-width="1"/>
<circle cx="112.49" cy="475.63" r="1" fill="#e34b2f" stroke="none" stroke-width="1"/>
<circle cx="102.71" cy="477.88" r="1" fill="#e34b2f" stroke="none" stroke-width="1"/>
<circle cx="117.08" cy="478.2" r="1" fill="#e34b2f" stroke="none" stroke-width="1"/>
<circle cx="109.25" cy="478.27" r="1" fill="#e34b2f" stroke="none" stroke-width="1"/>
<circle cx="102.44" cy="481.13" r="1" fill="#e34b2f" stroke="none" stroke-width="1"/>
<circle cx="106.24" cy="481.17" r="1" fill="#e34b2f" stroke="none" stroke-width="1"/>
<circle cx="110.11" cy="481.26" r="1" fill="#e34b2f" stroke="none" stroke-width="1"/>
<circle cx="112.83" cy="482.46" r="1" fill="#e34b2f" stroke="none" stroke-width="1"/>
<circle cx="164.04" cy="372.8" r="1" fill="#3f9bd7" stroke="none" stroke-width="1"/>
<circle cx="164.31" cy="376.3" r="1" fill="#3f9bd7" stroke="none" stroke-width="1"/>
<circle cx="160.72" cy="378.97" r="1" fill="#3f9bd7" stroke="none" stroke-width="1"/>
<circle cx="164.39" cy="378.97" r="1" fill="#3f9bd7" stroke="none" stroke-width="1"/>
<circle cx="161.32" cy="381.91" r="1" fill="#3f9bd7" stroke="none" stroke-width="1"/>
<circle cx="164.13" cy="383.11" r="1" fill="#3f9bd7" stroke="none" stroke-width="1"/>
<circle cx="157.55" cy="382.28" r="1" fill="#3f9bd7" stroke="none" stroke-width="1"/>
<circle cx="160.64" cy="386.09" r="1" fill="#3f9bd7" stroke="none" stroke-width="1"/>
<circle cx="166.84" cy="385.08" r="1" fill="#3f9bd7" stroke="none" stroke-width="1"/>
<circle cx="170.29" cy="385.17" r="1" fill="#3f9bd7" stroke="none" stroke-width="1"/>
<circle cx="163.57" cy="386.36" r="1" fill="#3f9bd7" stroke="none" stroke-width="1"/>
<circle cx="154.35" cy="385.12" r="1" fill="#3f9bd7" stroke="none" stroke-width="1"/>
<circle cx="177.89" cy="388.65" r="1" fill="#3f9bd7" stroke="none" stroke-width="1"/>
<circle cx="174.3" cy="388.47" r="1" fill="#3f9bd7" stroke="none" stroke-width="1"/>
<circle cx="157.49" cy="388.7" r="1" fill="#3f9bd7" stroke="none" stroke-width="1"/>
<circle cx="153.13" cy="388.1" r="1" fill="#3f9bd7" stroke="none" stroke-width="1"/>
<circle cx="171.22" cy="389.21" r="1" fill="#3f9bd7" stroke="none" stroke-width="1"/>
<circle cx="150.07" cy="388.16" r="1" fill="#3f9bd7" stroke="none" stroke-width="1"/>
<circle cx="167.46" cy="389.01" r="1" fill="#3f9bd7" stroke="none" stroke-width="1"/>
<circle cx="175.66" cy="392.18" r="1" fill="#3f9bd7" stroke="none" stroke-width="1"/>
<circle cx="168.92" cy="392.17" r="1" fill="#3f9bd7" stroke="none" stroke-width="1"/>
<circle cx="148.96" cy="391.54" r="1" fill="#3f9bd7" stroke="none" stroke-width="1"/>
<circle cx="162.37" cy="392.17" r="1" fill="#3f9bd7" stroke="none" stroke-width="1"/>
<circle cx="158.57" cy="391.79" r="1" fill="#3f9bd7" stroke="none" stroke-width="1"/>
<circle cx="172.26" cy="392.43" r="1" fill="#3f9bd7" stroke="none" stroke-width="1"/>
<circle cx="156.1" cy="391.72" r="1" fill="#3f9bd7" stroke="none" stroke-width="1"/>
<circle cx="166.06" cy="392.31" r="1" fill="#3f9bd7" stroke="none" stroke-width="1"/>
<circle cx="163.61" cy="394.75" r="1" fill="#3f9bd7" stroke="none" stroke-width="1"/>
<circle cx="153.53" cy="395.44" r="1" fill="#3f9bd7" stroke="none" stroke-width="1"/>
<circle cx="160.72" cy="394.96" r="1" fill="#3f9bd7" stroke="none" stroke-width="1"/>
<circle cx="167.24" cy="394.84" r="1" fill="#3f9bd7" stroke="none" stroke-width="1"/>
<circle cx="150.03" cy="395.09" r="1" fill="#3f9bd7" stroke="none" stroke-width="1"/>
<circle cx="171.16" cy="394.83" r="1" fill="#3f9bd7" stroke="none" stroke-width="1"/>
<circle cx="157.32" cy="394.78" r="1" fill="#3f9bd7" stroke="none" stroke-width="1"/>
<circle cx="155.23" cy="397.42" r="1" fill="#3f9bd7" stroke="none" stroke-width="1"/>
<circle cx="152.5" cy="398.09" r="1" fill="#3f9bd7" stroke="none" stroke-width="1"/>
<circle cx="172.6" cy="397.63" r="1" fill="#3f9bd7" stroke="none" stroke-width="1"/>
<circle cx="162.34" cy="397.44" r="1" fill="#3f9bd7" stroke="none" stroke-width="1"/>
<circle cx="158.91" cy="398.07" r="1" fill="#3f9bd7" stroke="none" stroke-width="1"/>
<circle cx="166.08" cy="397.55" r="1" fill="#3f9bd7" stroke="none" stroke-width="1"/>
<circle cx="155.18" cy="458.14" r="1" fill="#3f9bd7" stroke="none" stroke-width="1"/>
<circle cx="176.44" cy="458.08" r="1" fill="#3f9bd7" stroke="none" stroke-width="1"/>
<circle cx="173.04" cy="457.83" r="1" fill="#3f9bd7" stroke="none" stroke-width="1"/>
<circle cx="168.88" cy="458.6" r="1" fill="#3f9bd7" stroke="none" stroke-width="1"/>
<circle cx="162.63" cy="458.65" r="1" fill="#3f9bd7" stroke="none" stroke-width="1"/>
<circle cx="158.77" cy="458.1" r="1" fill="#3f9bd7" stroke="none" stroke-width="1"/>
<circle cx="165.79" cy="458.59" r="1" fill="#3f9bd7" stroke="none" stroke-width="1"/>
<circle cx="173.35" cy="461.35" r="1" fill="#3f9bd7" stroke="none" stroke-width="1"/>
<circle cx="157.92" cy="461.02" r="1" fill="#3f9bd7" stroke="none" stroke-width="1"/>
<circle cx="167.19" cy="461.31" r="1" fill="#3f9bd7" stroke="none" stroke-width="1"/>
<circle cx="160.44" cy="460.67" r="1" fill="#3f9bd7" stroke="none" stroke-width="1"/>
<circle cx="153.95" cy="461.12" r="1" fill="#3f9bd7" stroke="none" stroke-width="1"/>
<circle cx="163.81" cy="460.63" r="1" fill="#3f9bd7" stroke="none" stroke-width="1"/>
<circle cx="165.52" cy="463.68" r="1" fill="#3f9bd7" stroke="none" stroke-width="1"/>
<circle cx="169.45" cy="463.58" r="1" fill="#3f9bd7" stroke="none" stroke-width="1"/>
<circle cx="172.64" cy="463.63" r="1" fill="#3f9bd7" stroke="none" stroke-width="1"/>
<circle cx="162.27" cy="464.51" r="1" fill="#3f9bd7" stroke="none" stroke-width="1"/>
<circle cx="158.78" cy="464.28" r="1" fill="#3f9bd7" stroke="none" stroke-width="1"/>
<circle cx="152.2" cy="463.59" r="1" fill="#3f9bd7" stroke="none" stroke-width="1"/>
<circle cx="152.28" cy="467.53" r="1" fill="#3f9bd7" stroke="none" stroke-width="1"/>
<circle cx="161.83" cy="467.58" r="1" fill="#3f9bd7" stroke="none" stroke-width="1"/>
<circle cx="169.53" cy="467.21" r="1" fill="#3f9bd7" stroke="none" stroke-width="1"/>
<circle cx="176.28" cy="466.4" r="1" fill="#3f9bd7" stroke="none" stroke-width="1"/>
<circle cx="172.29" cy="466.66" r="1" fill="#3f9bd7" stroke="none" stroke-width="1"/>
<circle cx="162.49" cy="470.5" r="1" fill="#3f9bd7" stroke="none" stroke-width="1"/>
<circle cx="172.97" cy="469.66" r="1" fill="#3f9bd7" stroke="none" stroke-width="1"/>
<circle cx="159.22" cy="469.74" r="1" fill="#3f9bd7" stroke="none" stroke-width="1"/>
<circle cx="155.35" cy="470.32" r="1" fill="#3f9bd7" stroke="none" stroke-width="1"/>
<circle cx="165.3" cy="469.43" r="1" fill="#3f9bd7" stroke="none" stroke-width="1"/>
<circle cx="169.48" cy="469.71" r="1" fill="#3f9bd7" stroke="none" stroke-width="1"/>
<circle cx="161.73" cy="472.76" r="1" fill="#3f9bd7" stroke="none" stroke-width="1"/>
<circle cx="165.68" cy="472.41" r="1" fill="#3f9bd7" stroke="none" stroke-width="1"/>
<circle cx="173.14" cy="473.34" r="1" fill="#3f9bd7" stroke="none" stroke-width="1"/>
<circle cx="154.99" cy="472.48" r="1" fill="#3f9bd7" stroke="none" stroke-width="1"/>
<circle cx="166.05" cy="475.41" r="1" fill="#3f9bd7" stroke="none" stroke-width="1"/>
<circle cx="158.93" cy="475.91" r="1" fill="#3f9bd7" stroke="none" stroke-width="1"/>
<circle cx="167.41" cy="478.44" r="1" fill="#3f9bd7" stroke="none" stroke-width="1"/>
<circle cx="164.17" cy="482.45" r="1" fill="#3f9bd7" stroke="none" stroke-width="1"/>
<circle cx="180.61" cy="482.39" r="1" fill="#3f9bd7" stroke="none" stroke-width="1"/>
<circle cx="170.65" cy="482.71" r="1" fill="#3f9bd7" stroke="none" stroke-width="1"/>
<circle cx="160.78" cy="482.49" r="1" fill="#3f9bd7" stroke="none" stroke-width="1"/>
<circle cx="177.28" cy="482.6" r="1" fill="#3f9bd7" stroke="none" stroke-width="1"/>
<circle cx="167.53" cy="481.95" r="1" fill="#3f9bd7" stroke="none" stroke-width="1"/>
<circle cx="154.19" cy="482.62" r="1" fill="#3f9bd7" stroke="none" stroke-width="1"/>
<circle cx="146.62" cy="483" r="1" fill="#3f9bd7" stroke="none" stroke-width="1"/>
<circle cx="150.04" cy="482.16" r="1" fill="#3f9bd7" stroke="none" stroke-width="1"/>
<circle cx="217.62" cy="367" r="1" fill="#c546c6" stroke="none" stroke-width="1"/>
<circle cx="217.5" cy="372.1" r="1" fill="#c546c6" stroke="none" stroke-width="1"/>
<circle cx="219.55" cy="385.14" r="1" fill="#c546c6" stroke="none" stroke-width="1"/>
<circle cx="219.27" cy="388.95" r="1" fill="#c546c6" stroke="none" stroke-width="1"/>
<circle cx="212.08" cy="389.58" r="1" fill="#c546c6" stroke="none" stroke-width="1"/>
<circle cx="221.8" cy="392.18" r="1" fill="#c546c6" stroke="none" stroke-width="1"/>
<circle cx="218.55" cy="391.99" r="1" fill="#c546c6" stroke="none" stroke-width="1"/>
<circle cx="215.78" cy="392.18" r="1" fill="#c546c6" stroke="none" stroke-width="1"/>
<circle cx="227.6" cy="396.19" r="1" fill="#c546c6" stroke="none" stroke-width="1"/>
<circle cx="217.05" cy="395.63" r="1" fill="#c546c6" stroke="none" stroke-width="1"/>
<circle cx="231.18" cy="395.59" r="1" fill="#c546c6" stroke="none" stroke-width="1"/>
<circle cx="221.21" cy="394.96" r="1" fill="#c546c6" stroke="none" stroke-width="1"/>
<circle cx="210.8" cy="395.59" r="1" fill="#c546c6" stroke="none" stroke-width="1"/>
<circle cx="214.17" cy="395.35" r="1" fill="#c546c6" stroke="none" stroke-width="1"/>
<circle cx="200.88" cy="394.98" r="1" fill="#c546c6" stroke="none" stroke-width="1"/>
<circle cx="207.31" cy="396" r="1" fill="#c546c6" stroke="none" stroke-width="1"/>
<circle cx="215.39" cy="397.65" r="1" fill="#c546c6" stroke="none" stroke-width="1"/>
<circle cx="219.4" cy="397.34" r="1" fill="#c546c6" stroke="none" stroke-width="1"/>
<circle cx="226.27" cy="398.55" r="1" fill="#c546c6" stroke="none" stroke-width="1"/>
<circle cx="209.28" cy="397.84" r="1" fill="#c546c6" stroke="none" stroke-width="1"/>
<circle cx="222.6" cy="398.12" r="1" fill="#c546c6" stroke="none" stroke-width="1"/>
<circle cx="225.93" cy="463.07" r="1" fill="#c546c6" stroke="none" stroke-width="1"/>
<circle cx="219.33" cy="462.95" r="1" fill="#c546c6" stroke="none" stroke-width="1"/>
<circle cx="215.86" cy="463.13" r="1" fill="#c546c6" stroke="none" stroke-width="1"/>
<circle cx="222.47" cy="463.68" r="1" fill="#c546c6" stroke="none" stroke-width="1"/>
<circle cx="211.7" cy="463.9" r="1" fill="#c546c6" stroke="none" stroke-width="1"/>
<circle cx="216.05" cy="467.6" r="1" fill="#c546c6" stroke="none" stroke-width="1"/>
<circle cx="212.85" cy="466.46" r="1" fill="#c546c6" stroke="none" stroke-width="1"/>
<circle cx="217.86" cy="471.05" r="1" fill="#c546c6" stroke="none" stroke-width="1"/>
<circle cx="213.69" cy="474.17" r="1" fill="#c546c6" stroke="none" stroke-width="1"/>
<circle cx="216.95" cy="473.8" r="1" fill="#c546c6" stroke="none" stroke-width="1"/>
<circle cx="215.41" cy="477.5" r="1" fill="#c546c6" stroke="none" stroke-width="1"/>
<circle cx="202.98" cy="482.77" r="1" fill="#c546c6" stroke="none" stroke-width="1"/>
<circle cx="221.18" cy="481.65" r="1" fill="#c546c6" stroke="none" stroke-width="1"/>
<circle cx="209.98" cy="482.99" r="1" fill="#c546c6" stroke="none" stroke-width="1"/>
<circle cx="224.9" cy="481.89" r="1" fill="#c546c6" stroke="none" stroke-width="1"/>
<circle cx="227.46" cy="481.88" r="1" fill="#c546c6" stroke="none" stroke-width="1"/>
<circle cx="207.1" cy="481.91" r="1" fill="#c546c6" stroke="none" stroke-width="1"/>
<rect x="92.2" y="407" width="35" height="22.4" fill="#e6e6e6" stroke="none" stroke-width="1"/>
<line x1="109.7" y1="398.3" x2="109.7" y2="407" stroke="#cc402a" stroke-width="1.5"/>
<line x1="109.7" y1="429.4" x2="109.7" y2="447.3" stroke="#cc402a" stroke-width="1.5"/>
<rect x="92.2" y="407" width="35" height="22.4" fill="none" stroke="#cc402a" stroke-width="1.5"/>
<line x1="92.2" y1="416.9" x2="127.2" y2="416.9" stroke="#cc402a" stroke-width="1.5"/>
<line x1="106.2" y1="420.1" x2="113.2" y2="420.1" stroke="#cc402a" stroke-width="1.5"/>
<line x1="109.7" y1="416.6" x2="109.7" y2="423.6" stroke="#cc402a" stroke-width="1.5"/>
<rect x="146.5" y="409.6" width="35" height="26.2" fill="#e6e6e6" stroke="none" stroke-width="1"/>
<line x1="164" y1="399.7" x2="164" y2="409.6" stroke="#4a50b6" stroke-width="1.5"/>
<line x1="164" y1="435.8" x2="164" y2="457.5" stroke="#4a50b6" stroke-width="1.5"/>
<rect x="146.5" y="409.6" width="35" height="26.2" fill="none" stroke="#4a50b6" stroke-width="1.5"/>
<line x1="146.5" y1="420.1" x2="181.5" y2="420.1" stroke="#4a50b6" stroke-width="1.5"/>
<line x1="160.5" y1="424.2" x2="167.5" y2="424.2" stroke="#4a50b6" stroke-width="1.5"/>
<line x1="164" y1="420.7" x2="164" y2="427.7" stroke="#4a50b6" stroke-width="1.5"/>
<rect x="199.9" y="410.5" width="35" height="30.6" fill="#e6e6e6" stroke="none" stroke-width="1"/>
<line x1="217.4" y1="398.9" x2="217.4" y2="410.5" stroke="#9b33b4" stroke-width="1.5"/>
<line x1="217.4" y1="441.1" x2="217.4" y2="463" stroke="#9b33b4" stroke-width="1.5"/>
<rect x="199.9" y="410.5" width="35" height="30.6" fill="none" stroke="#9b33b4" stroke-width="1.5"/>
<line x1="199.9" y1="424.2" x2="234.9" y2="424.2" stroke="#9b33b4" stroke-width="1.5"/>
<line x1="213.9" y1="428" x2="220.9" y2="428" stroke="#9b33b4" stroke-width="1.5"/>
<line x1="217.4" y1="424.5" x2="217.4" y2="431.5" stroke="#9b33b4" stroke-width="1.5"/>
<line x1="73.4" y1="363" x2="73.4" y2="483" stroke="#333" stroke-width="1.1"/>
<line x1="70.4" y1="482.75" x2="73.4" y2="482.75" stroke="#333" stroke-width="1.1"/>
<text x="68.5" y="487.35" font-size="11.5" font-weight="bold" stroke="#111" stroke-width="0.3" text-anchor="end" fill="#111">5</text>
<line x1="70.4" y1="462.8" x2="73.4" y2="462.8" stroke="#333" stroke-width="1.1"/>
<text x="68.5" y="467.4" font-size="11.5" font-weight="bold" stroke="#111" stroke-width="0.3" text-anchor="end" fill="#111">6</text>
<line x1="70.4" y1="442.85" x2="73.4" y2="442.85" stroke="#333" stroke-width="1.1"/>
<text x="68.5" y="447.45" font-size="11.5" font-weight="bold" stroke="#111" stroke-width="0.3" text-anchor="end" fill="#111">7</text>
<line x1="70.4" y1="422.9" x2="73.4" y2="422.9" stroke="#333" stroke-width="1.1"/>
<text x="68.5" y="427.5" font-size="11.5" font-weight="bold" stroke="#111" stroke-width="0.3" text-anchor="end" fill="#111">8</text>
<line x1="70.4" y1="402.95" x2="73.4" y2="402.95" stroke="#333" stroke-width="1.1"/>
<text x="68.5" y="407.55" font-size="11.5" font-weight="bold" stroke="#111" stroke-width="0.3" text-anchor="end" fill="#111">9</text>
<line x1="70.4" y1="383" x2="73.4" y2="383" stroke="#333" stroke-width="1.1"/>
<text x="68.5" y="387.6" font-size="11.5" font-weight="bold" stroke="#111" stroke-width="0.3" text-anchor="end" fill="#111">10</text>
<line x1="70.4" y1="363.05" x2="73.4" y2="363.05" stroke="#333" stroke-width="1.1"/>
<text x="68.5" y="367.65" font-size="11.5" font-weight="bold" stroke="#111" stroke-width="0.3" text-anchor="end" fill="#111">11</text>
<line x1="73.4" y1="483" x2="254" y2="483" stroke="#666" stroke-width="1.3"/>
<text x="115.3" y="440.6" font-size="11" font-weight="bold" stroke="#cc402a" stroke-width="0.3" text-anchor="start" fill="#cc402a">8.1</text>
<text x="163.7" y="450.5" font-size="11" font-weight="bold" stroke="#4a50b6" stroke-width="0.3" text-anchor="start" fill="#4a50b6">7.9</text>
<text x="232.2" y="455.3" font-size="11" font-weight="bold" stroke="#9b33b4" stroke-width="0.3" text-anchor="start" fill="#9b33b4">7.7</text>
<text x="112.9" y="496.5" font-size="11.2" font-weight="bold" stroke="#111" stroke-width="0.3" text-anchor="end" fill="#111" transform="rotate(-45 112.9 496.5)">20-50</text>
<text x="167.2" y="496.5" font-size="11.2" font-weight="bold" stroke="#111" stroke-width="0.3" text-anchor="end" fill="#111" transform="rotate(-45 167.2 496.5)">51-70</text>
<text x="220.6" y="496.5" font-size="11.2" font-weight="bold" stroke="#111" stroke-width="0.3" text-anchor="end" fill="#111" transform="rotate(-45 220.6 496.5)">71-90</text>
<text x="163.8" y="533.8" font-size="12.9" font-weight="bold" stroke="#111" stroke-width="0.3" text-anchor="middle" fill="#111">Age at diagnosis</text>
<line x1="109.7" y1="358.1" x2="218.8" y2="358.1" stroke="#777" stroke-width="1.4"/>
<line x1="115.3" y1="369.8" x2="164.5" y2="369.8" stroke="#777" stroke-width="1.4"/>
<text x="167.3" y="355" font-size="10" text-anchor="middle" fill="#111" stroke="#111" stroke-width="0.2"><tspan font-style="italic">p</tspan>&lt;0.0001</text>
<text x="140" y="367.2" font-size="10" text-anchor="middle" fill="#111" stroke="#111" stroke-width="0.2"><tspan font-style="italic">p</tspan>=0.007</text>
<text x="313.5" y="319" font-size="22" text-anchor="start" fill="#111">d</text>
<text x="320.5" y="338" font-size="13" font-weight="bold" stroke="#a43dc4" stroke-width="0.3" text-anchor="start" fill="#a43dc4">AHSB</text>
<text x="320.5" y="349.7" font-size="13" font-weight="bold" stroke="#a43dc4" stroke-width="0.3" text-anchor="start" fill="#a43dc4">cohort</text>
<text x="478.2" y="354.8" font-size="12.85" font-weight="bold" stroke="#111" stroke-width="0.3" text-anchor="middle" fill="#111">Pregnancies</text>
<text x="361.5" y="431" font-size="13" font-weight="bold" stroke="#111" stroke-width="0.3" font-style="italic" text-anchor="middle" fill="#111" transform="rotate(-90 361.5 431)">RRAS2 mRNA</text>
<text x="377" y="431" font-size="13" font-weight="bold" stroke="#111" stroke-width="0.3" font-style="italic" text-anchor="middle" fill="#111" transform="rotate(-90 377 431)">(Relative Expression)</text>
<rect x="427.55" y="475.2" width="39.5" height="11.7" fill="#e8e8e8" stroke="none" stroke-width="1"/>
<rect x="488.5" y="468.3" width="40.2" height="18.6" fill="#e8e8e8" stroke="none" stroke-width="1"/>
<line x1="405.5" y1="486.3" x2="549.6" y2="486.3" stroke="#111" stroke-width="0.9" stroke-dasharray="2,1.6"/>
<circle cx="447" cy="455.5" r="2" fill="none" stroke="#6c70c4" stroke-width="0.75"/>
<circle cx="447" cy="460" r="2" fill="none" stroke="#6c70c4" stroke-width="0.75"/>
<circle cx="440.7" cy="464.8" r="2" fill="none" stroke="#6c70c4" stroke-width="0.75"/>
<circle cx="447" cy="468" r="2" fill="none" stroke="#6c70c4" stroke-width="0.75"/>
<circle cx="453.2" cy="467.6" r="2" fill="none" stroke="#6c70c4" stroke-width="0.75"/>
<circle cx="440.7" cy="473.5" r="2" fill="none" stroke="#6c70c4" stroke-width="0.75"/>
<circle cx="434.3" cy="477.5" r="2" fill="none" stroke="#6c70c4" stroke-width="0.75"/>
<circle cx="441" cy="477.5" r="2" fill="none" stroke="#6c70c4" stroke-width="0.75"/>
<circle cx="459.8" cy="476.3" r="2" fill="none" stroke="#6c70c4" stroke-width="0.75"/>
<circle cx="453.2" cy="480.2" r="2" fill="none" stroke="#6c70c4" stroke-width="0.75"/>
<circle cx="434.3" cy="482.4" r="2" fill="none" stroke="#6c70c4" stroke-width="0.75"/>
<circle cx="440.7" cy="483.3" r="2" fill="none" stroke="#6c70c4" stroke-width="0.75"/>
<circle cx="447" cy="483.7" r="2" fill="none" stroke="#6c70c4" stroke-width="0.75"/>
<circle cx="459.8" cy="482.8" r="2" fill="none" stroke="#6c70c4" stroke-width="0.75"/>
<circle cx="434.3" cy="487.2" r="2" fill="none" stroke="#6c70c4" stroke-width="0.75"/>
<circle cx="440.7" cy="488" r="2" fill="none" stroke="#6c70c4" stroke-width="0.75"/>
<circle cx="453.2" cy="488" r="2" fill="none" stroke="#6c70c4" stroke-width="0.75"/>
<circle cx="459.8" cy="491.9" r="2" fill="none" stroke="#6c70c4" stroke-width="0.75"/>
<circle cx="465.8" cy="488" r="2" fill="none" stroke="#6c70c4" stroke-width="0.75"/>
<circle cx="447" cy="491.5" r="2" fill="none" stroke="#6c70c4" stroke-width="0.75"/>
<circle cx="428.8" cy="487.5" r="2" fill="none" stroke="#6c70c4" stroke-width="0.75"/>
<circle cx="453.2" cy="484.5" r="2" fill="none" stroke="#6c70c4" stroke-width="0.75"/>
<rect x="522.27" y="486.18" width="3.2" height="3.2" fill="none" stroke="#e2705f" stroke-width="0.7"/>
<rect x="510.15" y="486.66" width="3.2" height="3.2" fill="none" stroke="#e2705f" stroke-width="0.7"/>
<rect x="511.68" y="486.63" width="3.2" height="3.2" fill="none" stroke="#e2705f" stroke-width="0.7"/>
<rect x="505.23" y="464.34" width="3.2" height="3.2" fill="none" stroke="#e2705f" stroke-width="0.7"/>
<rect x="513.96" y="483.85" width="3.2" height="3.2" fill="none" stroke="#e2705f" stroke-width="0.7"/>
<rect x="523.73" y="482.24" width="3.2" height="3.2" fill="none" stroke="#e2705f" stroke-width="0.7"/>
<rect x="498.78" y="472.24" width="3.2" height="3.2" fill="none" stroke="#e2705f" stroke-width="0.7"/>
<rect x="491.14" y="486.47" width="3.2" height="3.2" fill="none" stroke="#e2705f" stroke-width="0.7"/>
<rect x="490.08" y="489.14" width="3.2" height="3.2" fill="none" stroke="#e2705f" stroke-width="0.7"/>
<rect x="519.33" y="487.29" width="3.2" height="3.2" fill="none" stroke="#e2705f" stroke-width="0.7"/>
<rect x="506.99" y="471.84" width="3.2" height="3.2" fill="none" stroke="#e2705f" stroke-width="0.7"/>
<rect x="501.68" y="474.77" width="3.2" height="3.2" fill="none" stroke="#e2705f" stroke-width="0.7"/>
<rect x="509.04" y="421.58" width="3.2" height="3.2" fill="none" stroke="#e2705f" stroke-width="0.7"/>
<rect x="500.51" y="477.04" width="3.2" height="3.2" fill="none" stroke="#e2705f" stroke-width="0.7"/>
<rect x="516.59" y="490.75" width="3.2" height="3.2" fill="none" stroke="#e2705f" stroke-width="0.7"/>
<rect x="502.91" y="483.51" width="3.2" height="3.2" fill="none" stroke="#e2705f" stroke-width="0.7"/>
<rect x="504" y="425.44" width="3.2" height="3.2" fill="none" stroke="#e2705f" stroke-width="0.7"/>
<rect x="505.92" y="482.91" width="3.2" height="3.2" fill="none" stroke="#e2705f" stroke-width="0.7"/>
<rect x="504.44" y="437.12" width="3.2" height="3.2" fill="none" stroke="#e2705f" stroke-width="0.7"/>
<rect x="501.47" y="469.63" width="3.2" height="3.2" fill="none" stroke="#e2705f" stroke-width="0.7"/>
<rect x="523.71" y="488.3" width="3.2" height="3.2" fill="none" stroke="#e2705f" stroke-width="0.7"/>
<rect x="500.91" y="480.19" width="3.2" height="3.2" fill="none" stroke="#e2705f" stroke-width="0.7"/>
<rect x="517.69" y="490.84" width="3.2" height="3.2" fill="none" stroke="#e2705f" stroke-width="0.7"/>
<rect x="505.11" y="486.19" width="3.2" height="3.2" fill="none" stroke="#e2705f" stroke-width="0.7"/>
<rect x="493.71" y="484.58" width="3.2" height="3.2" fill="none" stroke="#e2705f" stroke-width="0.7"/>
<rect x="505.1" y="480.21" width="3.2" height="3.2" fill="none" stroke="#e2705f" stroke-width="0.7"/>
<rect x="523.95" y="488.88" width="3.2" height="3.2" fill="none" stroke="#e2705f" stroke-width="0.7"/>
<rect x="510.46" y="460.42" width="3.2" height="3.2" fill="none" stroke="#e2705f" stroke-width="0.7"/>
<rect x="519.76" y="487.72" width="3.2" height="3.2" fill="none" stroke="#e2705f" stroke-width="0.7"/>
<rect x="518.74" y="480.47" width="3.2" height="3.2" fill="none" stroke="#e2705f" stroke-width="0.7"/>
<rect x="516.82" y="488.99" width="3.2" height="3.2" fill="none" stroke="#e2705f" stroke-width="0.7"/>
<rect x="491.64" y="488.64" width="3.2" height="3.2" fill="none" stroke="#e2705f" stroke-width="0.7"/>
<rect x="497.75" y="485.97" width="3.2" height="3.2" fill="none" stroke="#e2705f" stroke-width="0.7"/>
<rect x="505.88" y="476.13" width="3.2" height="3.2" fill="none" stroke="#e2705f" stroke-width="0.7"/>
<rect x="507.45" y="434.88" width="3.2" height="3.2" fill="none" stroke="#e2705f" stroke-width="0.7"/>
<rect x="503.89" y="462.68" width="3.2" height="3.2" fill="none" stroke="#e2705f" stroke-width="0.7"/>
<rect x="504.75" y="450.84" width="3.2" height="3.2" fill="none" stroke="#e2705f" stroke-width="0.7"/>
<rect x="522.85" y="484.51" width="3.2" height="3.2" fill="none" stroke="#e2705f" stroke-width="0.7"/>
<rect x="520.76" y="482.54" width="3.2" height="3.2" fill="none" stroke="#e2705f" stroke-width="0.7"/>
<rect x="497.49" y="475.34" width="3.2" height="3.2" fill="none" stroke="#e2705f" stroke-width="0.7"/>
<rect x="497.58" y="482.42" width="3.2" height="3.2" fill="none" stroke="#e2705f" stroke-width="0.7"/>
<rect x="514.77" y="477.97" width="3.2" height="3.2" fill="none" stroke="#e2705f" stroke-width="0.7"/>
<rect x="499.21" y="477.39" width="3.2" height="3.2" fill="none" stroke="#e2705f" stroke-width="0.7"/>
<rect x="500.48" y="480.98" width="3.2" height="3.2" fill="none" stroke="#e2705f" stroke-width="0.7"/>
<rect x="509.74" y="468.45" width="3.2" height="3.2" fill="none" stroke="#e2705f" stroke-width="0.7"/>
<rect x="496.34" y="482.85" width="3.2" height="3.2" fill="none" stroke="#e2705f" stroke-width="0.7"/>
<rect x="505.05" y="488.89" width="3.2" height="3.2" fill="none" stroke="#e2705f" stroke-width="0.7"/>
<rect x="502.28" y="489.76" width="3.2" height="3.2" fill="none" stroke="#e2705f" stroke-width="0.7"/>
<rect x="503.69" y="479.97" width="3.2" height="3.2" fill="none" stroke="#e2705f" stroke-width="0.7"/>
<rect x="508.41" y="447.81" width="3.2" height="3.2" fill="none" stroke="#e2705f" stroke-width="0.7"/>
<rect x="498.37" y="472.73" width="3.2" height="3.2" fill="none" stroke="#e2705f" stroke-width="0.7"/>
<rect x="521.77" y="491.23" width="3.2" height="3.2" fill="none" stroke="#e2705f" stroke-width="0.7"/>
<rect x="495.51" y="466.69" width="3.2" height="3.2" fill="none" stroke="#e2705f" stroke-width="0.7"/>
<rect x="512.53" y="474.37" width="3.2" height="3.2" fill="none" stroke="#e2705f" stroke-width="0.7"/>
<rect x="491.71" y="482.08" width="3.2" height="3.2" fill="none" stroke="#e2705f" stroke-width="0.7"/>
<rect x="516.6" y="470.3" width="3.2" height="3.2" fill="none" stroke="#e2705f" stroke-width="0.7"/>
<rect x="514.04" y="470.83" width="3.2" height="3.2" fill="none" stroke="#e2705f" stroke-width="0.7"/>
<rect x="508.67" y="459.53" width="3.2" height="3.2" fill="none" stroke="#e2705f" stroke-width="0.7"/>
<rect x="506.25" y="449.85" width="3.2" height="3.2" fill="none" stroke="#e2705f" stroke-width="0.7"/>
<rect x="507.66" y="449.99" width="3.2" height="3.2" fill="none" stroke="#e2705f" stroke-width="0.7"/>
<rect x="508.98" y="475.96" width="3.2" height="3.2" fill="none" stroke="#e2705f" stroke-width="0.7"/>
<rect x="510.35" y="480.79" width="3.2" height="3.2" fill="none" stroke="#e2705f" stroke-width="0.7"/>
<rect x="508.37" y="424.59" width="3.2" height="3.2" fill="none" stroke="#e2705f" stroke-width="0.7"/>
<rect x="509.91" y="484.55" width="3.2" height="3.2" fill="none" stroke="#e2705f" stroke-width="0.7"/>
<rect x="492.02" y="483.58" width="3.2" height="3.2" fill="none" stroke="#e2705f" stroke-width="0.7"/>
<rect x="509.43" y="481.6" width="3.2" height="3.2" fill="none" stroke="#e2705f" stroke-width="0.7"/>
<rect x="514.14" y="489.25" width="3.2" height="3.2" fill="none" stroke="#e2705f" stroke-width="0.7"/>
<rect x="522.14" y="485.67" width="3.2" height="3.2" fill="none" stroke="#e2705f" stroke-width="0.7"/>
<rect x="499.84" y="491.29" width="3.2" height="3.2" fill="none" stroke="#e2705f" stroke-width="0.7"/>
<rect x="499.07" y="478.84" width="3.2" height="3.2" fill="none" stroke="#e2705f" stroke-width="0.7"/>
<rect x="506.48" y="453.78" width="3.2" height="3.2" fill="none" stroke="#e2705f" stroke-width="0.7"/>
<rect x="508.49" y="459.99" width="3.2" height="3.2" fill="none" stroke="#e2705f" stroke-width="0.7"/>
<rect x="518.02" y="487.38" width="3.2" height="3.2" fill="none" stroke="#e2705f" stroke-width="0.7"/>
<rect x="505.96" y="449.68" width="3.2" height="3.2" fill="none" stroke="#e2705f" stroke-width="0.7"/>
<rect x="498.27" y="477.02" width="3.2" height="3.2" fill="none" stroke="#e2705f" stroke-width="0.7"/>
<rect x="519.55" y="483.59" width="3.2" height="3.2" fill="none" stroke="#e2705f" stroke-width="0.7"/>
<rect x="501.64" y="466.89" width="3.2" height="3.2" fill="none" stroke="#e2705f" stroke-width="0.7"/>
<rect x="498.91" y="487.2" width="3.2" height="3.2" fill="none" stroke="#e2705f" stroke-width="0.7"/>
<rect x="511.53" y="487.54" width="3.2" height="3.2" fill="none" stroke="#e2705f" stroke-width="0.7"/>
<rect x="519.21" y="488.46" width="3.2" height="3.2" fill="none" stroke="#e2705f" stroke-width="0.7"/>
<rect x="504.45" y="435.69" width="3.2" height="3.2" fill="none" stroke="#e2705f" stroke-width="0.7"/>
<rect x="490.49" y="483.26" width="3.2" height="3.2" fill="none" stroke="#e2705f" stroke-width="0.7"/>
<rect x="502.42" y="472.96" width="3.2" height="3.2" fill="none" stroke="#e2705f" stroke-width="0.7"/>
<rect x="503.72" y="465.74" width="3.2" height="3.2" fill="none" stroke="#e2705f" stroke-width="0.7"/>
<rect x="518.87" y="491.17" width="3.2" height="3.2" fill="none" stroke="#e2705f" stroke-width="0.7"/>
<rect x="490.69" y="490.09" width="3.2" height="3.2" fill="none" stroke="#e2705f" stroke-width="0.7"/>
<rect x="510.12" y="474.94" width="3.2" height="3.2" fill="none" stroke="#e2705f" stroke-width="0.7"/>
<rect x="518" y="469.17" width="3.2" height="3.2" fill="none" stroke="#e2705f" stroke-width="0.7"/>
<rect x="506.4" y="478.89" width="3.2" height="3.2" fill="none" stroke="#e2705f" stroke-width="0.7"/>
<rect x="506" y="491.3" width="3.2" height="3.2" fill="none" stroke="#e2705f" stroke-width="0.7"/>
<rect x="501.54" y="479.21" width="3.2" height="3.2" fill="none" stroke="#e2705f" stroke-width="0.7"/>
<rect x="507.74" y="484.9" width="3.2" height="3.2" fill="none" stroke="#e2705f" stroke-width="0.7"/>
<rect x="504.44" y="469.99" width="3.2" height="3.2" fill="none" stroke="#e2705f" stroke-width="0.7"/>
<rect x="503.28" y="449.19" width="3.2" height="3.2" fill="none" stroke="#e2705f" stroke-width="0.7"/>
<rect x="504.78" y="428.68" width="3.2" height="3.2" fill="none" stroke="#e2705f" stroke-width="0.7"/>
<rect x="521.76" y="485.57" width="3.2" height="3.2" fill="none" stroke="#e2705f" stroke-width="0.7"/>
<rect x="520.66" y="486.1" width="3.2" height="3.2" fill="none" stroke="#e2705f" stroke-width="0.7"/>
<rect x="506.67" y="448.48" width="3.2" height="3.2" fill="none" stroke="#e2705f" stroke-width="0.7"/>
<rect x="512.33" y="478.8" width="3.2" height="3.2" fill="none" stroke="#e2705f" stroke-width="0.7"/>
<rect x="508.96" y="454.13" width="3.2" height="3.2" fill="none" stroke="#e2705f" stroke-width="0.7"/>
<rect x="524.3" y="483.01" width="3.2" height="3.2" fill="none" stroke="#e2705f" stroke-width="0.7"/>
<rect x="508.74" y="433.5" width="3.2" height="3.2" fill="none" stroke="#e2705f" stroke-width="0.7"/>
<rect x="519.81" y="482.92" width="3.2" height="3.2" fill="none" stroke="#e2705f" stroke-width="0.7"/>
<rect x="504.87" y="490.63" width="3.2" height="3.2" fill="none" stroke="#e2705f" stroke-width="0.7"/>
<rect x="506.7" y="469.8" width="3.2" height="3.2" fill="none" stroke="#e2705f" stroke-width="0.7"/>
<rect x="507" y="398.83" width="3.2" height="3.2" fill="none" stroke="#e2705f" stroke-width="0.7"/>
<line x1="447.3" y1="455.7" x2="447.3" y2="475.2" stroke="#3f42a8" stroke-width="1.5"/>
<line x1="447.3" y1="486.9" x2="447.3" y2="491.9" stroke="#3f42a8" stroke-width="1.5"/>
<line x1="437.3" y1="455.7" x2="457.3" y2="455.7" stroke="#3f42a8" stroke-width="1.5"/>
<line x1="437.3" y1="491.9" x2="457.3" y2="491.9" stroke="#3f42a8" stroke-width="1.5"/>
<rect x="427.55" y="475.2" width="39.5" height="11.7" fill="none" stroke="#3f42a8" stroke-width="1.5"/>
<line x1="427.55" y1="482.3" x2="467.05" y2="482.3" stroke="#3f42a8" stroke-width="1.5"/>
<line x1="443.7" y1="479.4" x2="450.7" y2="479.4" stroke="#3f42a8" stroke-width="1.9500000000000002"/>
<line x1="447.2" y1="475.9" x2="447.2" y2="482.9" stroke="#3f42a8" stroke-width="1.9500000000000002"/>
<line x1="508.6" y1="379.5" x2="508.6" y2="468.3" stroke="#d0402c" stroke-width="1.5"/>
<line x1="508.6" y1="486.9" x2="508.6" y2="491.9" stroke="#d0402c" stroke-width="1.5"/>
<line x1="498.1" y1="379.5" x2="519.1" y2="379.5" stroke="#d0402c" stroke-width="1.5"/>
<line x1="498.1" y1="491.9" x2="519.1" y2="491.9" stroke="#d0402c" stroke-width="1.5"/>
<rect x="488.5" y="468.3" width="40.2" height="18.6" fill="none" stroke="#d0402c" stroke-width="1.5"/>
<line x1="488.5" y1="481.9" x2="528.7" y2="481.9" stroke="#d0402c" stroke-width="1.5"/>
<line x1="505.7" y1="473" x2="512.7" y2="473" stroke="#d0402c" stroke-width="1.9500000000000002"/>
<line x1="509.2" y1="469.5" x2="509.2" y2="476.5" stroke="#d0402c" stroke-width="1.9500000000000002"/>
<line x1="405.5" y1="373.1" x2="405.5" y2="493" stroke="#333" stroke-width="1.1"/>
<line x1="402.5" y1="493" x2="405.5" y2="493" stroke="#333" stroke-width="1.1"/>
<text x="400.7" y="497.4" font-size="11" font-weight="bold" stroke="#111" stroke-width="0.3" text-anchor="end" fill="#111">0</text>
<line x1="402.5" y1="479.68" x2="405.5" y2="479.68" stroke="#333" stroke-width="1.1"/>
<text x="400.7" y="484.08" font-size="11" font-weight="bold" stroke="#111" stroke-width="0.3" text-anchor="end" fill="#111">2</text>
<line x1="402.5" y1="466.36" x2="405.5" y2="466.36" stroke="#333" stroke-width="1.1"/>
<text x="400.7" y="470.76" font-size="11" font-weight="bold" stroke="#111" stroke-width="0.3" text-anchor="end" fill="#111">4</text>
<line x1="402.5" y1="453.04" x2="405.5" y2="453.04" stroke="#333" stroke-width="1.1"/>
<text x="400.7" y="457.44" font-size="11" font-weight="bold" stroke="#111" stroke-width="0.3" text-anchor="end" fill="#111">6</text>
<line x1="402.5" y1="439.72" x2="405.5" y2="439.72" stroke="#333" stroke-width="1.1"/>
<text x="400.7" y="444.12" font-size="11" font-weight="bold" stroke="#111" stroke-width="0.3" text-anchor="end" fill="#111">8</text>
<line x1="402.5" y1="426.4" x2="405.5" y2="426.4" stroke="#333" stroke-width="1.1"/>
<text x="400.7" y="430.8" font-size="11" font-weight="bold" stroke="#111" stroke-width="0.3" text-anchor="end" fill="#111">10</text>
<line x1="402.5" y1="413.08" x2="405.5" y2="413.08" stroke="#333" stroke-width="1.1"/>
<text x="400.7" y="417.48" font-size="11" font-weight="bold" stroke="#111" stroke-width="0.3" text-anchor="end" fill="#111">12</text>
<line x1="402.5" y1="399.76" x2="405.5" y2="399.76" stroke="#333" stroke-width="1.1"/>
<text x="400.7" y="404.16" font-size="11" font-weight="bold" stroke="#111" stroke-width="0.3" text-anchor="end" fill="#111">14</text>
<line x1="402.5" y1="386.44" x2="405.5" y2="386.44" stroke="#333" stroke-width="1.1"/>
<text x="400.7" y="390.84" font-size="11" font-weight="bold" stroke="#111" stroke-width="0.3" text-anchor="end" fill="#111">16</text>
<line x1="402.5" y1="373.12" x2="405.5" y2="373.12" stroke="#333" stroke-width="1.1"/>
<text x="400.7" y="377.52" font-size="11" font-weight="bold" stroke="#111" stroke-width="0.3" text-anchor="end" fill="#111">18</text>
<line x1="405.5" y1="492.7" x2="549.6" y2="492.7" stroke="#666" stroke-width="1.3"/>
<line x1="447.1" y1="374.5" x2="508.9" y2="374.5" stroke="#333" stroke-width="0.9"/>
<text x="478.8" y="372.3" font-size="9.8" text-anchor="middle" fill="#111" stroke="#111" stroke-width="0.2"><tspan font-style="italic">p</tspan>=0.02</text>
<text x="452" y="507" font-size="13" font-weight="bold" stroke="#111" stroke-width="0.3" text-anchor="end" fill="#111" transform="rotate(-45 452 507)">nulliparous</text>
<text x="514" y="508" font-size="13" font-weight="bold" stroke="#111" stroke-width="0.3" text-anchor="end" fill="#111" transform="rotate(-45 514 508)">parous</text>
<text x="0" y="542.5" font-size="22" text-anchor="start" fill="#111">e</text>
<text x="17.2" y="566.4" font-size="13" font-weight="bold" stroke="#a43dc4" stroke-width="0.3" text-anchor="start" fill="#a43dc4">AHSB</text>
<text x="17.2" y="578.4" font-size="13" font-weight="bold" stroke="#a43dc4" stroke-width="0.3" text-anchor="start" fill="#a43dc4">cohort</text>
<text x="166.1" y="575" font-size="14.4" font-weight="bold" stroke="#111" stroke-width="0.3" text-anchor="middle" fill="#111">Parous women</text>
<text x="21.8" y="670.5" font-size="13" font-weight="bold" stroke="#111" stroke-width="0.3" font-style="italic" text-anchor="middle" fill="#111" transform="rotate(-90 21.8 670.5)">RRAS2 mRNA</text>
<text x="36.5" y="670.5" font-size="13" font-weight="bold" stroke="#111" stroke-width="0.3" font-style="italic" text-anchor="middle" fill="#111" transform="rotate(-90 36.5 670.5)">(Relative Expression)</text>
<rect x="99.5" y="661" width="23.2" height="49.6" fill="#ebebeb" stroke="#dc482c" stroke-width="1.5"/>
<rect x="135.6" y="683.7" width="23.2" height="26.9" fill="#ebebeb" stroke="#4b4fb0" stroke-width="1.5"/>
<rect x="172.2" y="686" width="23.2" height="24.6" fill="#ebebeb" stroke="#9b35b5" stroke-width="1.5"/>
<rect x="208.9" y="686.6" width="23.2" height="24" fill="#ebebeb" stroke="#1d6e80" stroke-width="1.5"/>
<rect x="109.25" y="612.25" width="3.1" height="3.1" fill="#e8432a" stroke="none" stroke-width="1"/>
<rect x="109.25" y="623.35" width="3.1" height="3.1" fill="#e8432a" stroke="none" stroke-width="1"/>
<rect x="109.25" y="637.45" width="3.1" height="3.1" fill="#e8432a" stroke="none" stroke-width="1"/>
<rect x="109.25" y="655.65" width="3.1" height="3.1" fill="#e8432a" stroke="none" stroke-width="1"/>
<rect x="102.55" y="667.65" width="3.1" height="3.1" fill="#e8432a" stroke="none" stroke-width="1"/>
<rect x="109.25" y="667.65" width="3.1" height="3.1" fill="#e8432a" stroke="none" stroke-width="1"/>
<rect x="116.45" y="669.15" width="3.1" height="3.1" fill="#e8432a" stroke="none" stroke-width="1"/>
<rect x="109.25" y="677.45" width="3.1" height="3.1" fill="#e8432a" stroke="none" stroke-width="1"/>
<rect x="99.55" y="685.95" width="3.1" height="3.1" fill="#e8432a" stroke="none" stroke-width="1"/>
<rect x="106.05" y="687.75" width="3.1" height="3.1" fill="#e8432a" stroke="none" stroke-width="1"/>
<rect x="113.05" y="688.45" width="3.1" height="3.1" fill="#e8432a" stroke="none" stroke-width="1"/>
<rect x="119.65" y="686.55" width="3.1" height="3.1" fill="#e8432a" stroke="none" stroke-width="1"/>
<rect x="106.05" y="694.75" width="3.1" height="3.1" fill="#e8432a" stroke="none" stroke-width="1"/>
<rect x="113.05" y="695.35" width="3.1" height="3.1" fill="#e8432a" stroke="none" stroke-width="1"/>
<rect x="106.05" y="699.15" width="3.1" height="3.1" fill="#e8432a" stroke="none" stroke-width="1"/>
<rect x="99.55" y="702.65" width="3.1" height="3.1" fill="#e8432a" stroke="none" stroke-width="1"/>
<rect x="119.65" y="701.05" width="3.1" height="3.1" fill="#e8432a" stroke="none" stroke-width="1"/>
<rect x="106.05" y="704.75" width="3.1" height="3.1" fill="#e8432a" stroke="none" stroke-width="1"/>
<rect x="113.05" y="704.75" width="3.1" height="3.1" fill="#e8432a" stroke="none" stroke-width="1"/>
<rect x="99.55" y="707.95" width="3.1" height="3.1" fill="#e8432a" stroke="none" stroke-width="1"/>
<rect x="119.65" y="707.35" width="3.1" height="3.1" fill="#e8432a" stroke="none" stroke-width="1"/>
<rect x="106.05" y="710.75" width="3.1" height="3.1" fill="#e8432a" stroke="none" stroke-width="1"/>
<rect x="99.15" y="721.15" width="3.1" height="3.1" fill="#e8432a" stroke="none" stroke-width="1"/>
<rect x="106.05" y="719.05" width="3.1" height="3.1" fill="#e8432a" stroke="none" stroke-width="1"/>
<rect x="113.05" y="722.45" width="3.1" height="3.1" fill="#e8432a" stroke="none" stroke-width="1"/>
<rect x="119.65" y="720.95" width="3.1" height="3.1" fill="#e8432a" stroke="none" stroke-width="1"/>
<rect x="106.05" y="726.25" width="3.1" height="3.1" fill="#e8432a" stroke="none" stroke-width="1"/>
<circle cx="144.4" cy="656.6" r="1.45" fill="#4a80cf" stroke="none" stroke-width="1"/>
<circle cx="150.2" cy="656.6" r="1.45" fill="#4a80cf" stroke="none" stroke-width="1"/>
<circle cx="147.3" cy="659.7" r="1.45" fill="#4a80cf" stroke="none" stroke-width="1"/>
<circle cx="147.3" cy="662.9" r="1.45" fill="#4a80cf" stroke="none" stroke-width="1"/>
<circle cx="153" cy="665.8" r="1.45" fill="#4a80cf" stroke="none" stroke-width="1"/>
<circle cx="147.3" cy="667.3" r="1.45" fill="#4a80cf" stroke="none" stroke-width="1"/>
<circle cx="147.3" cy="670.5" r="1.45" fill="#4a80cf" stroke="none" stroke-width="1"/>
<circle cx="136.6" cy="675.2" r="1.45" fill="#4a80cf" stroke="none" stroke-width="1"/>
<circle cx="141.6" cy="674.2" r="1.45" fill="#4a80cf" stroke="none" stroke-width="1"/>
<circle cx="147.3" cy="675.7" r="1.45" fill="#4a80cf" stroke="none" stroke-width="1"/>
<circle cx="153" cy="675.7" r="1.45" fill="#4a80cf" stroke="none" stroke-width="1"/>
<circle cx="158.4" cy="675.7" r="1.45" fill="#4a80cf" stroke="none" stroke-width="1"/>
<circle cx="141.6" cy="678" r="1.45" fill="#4a80cf" stroke="none" stroke-width="1"/>
<circle cx="153" cy="678" r="1.45" fill="#4a80cf" stroke="none" stroke-width="1"/>
<circle cx="147.3" cy="693.1" r="1.45" fill="#4a80cf" stroke="none" stroke-width="1"/>
<circle cx="147.3" cy="695.6" r="1.45" fill="#4a80cf" stroke="none" stroke-width="1"/>
<circle cx="144.4" cy="699.2" r="1.45" fill="#4a80cf" stroke="none" stroke-width="1"/>
<circle cx="150.2" cy="699.7" r="1.45" fill="#4a80cf" stroke="none" stroke-width="1"/>
<circle cx="147.3" cy="702.6" r="1.45" fill="#4a80cf" stroke="none" stroke-width="1"/>
<circle cx="153" cy="703.8" r="1.45" fill="#4a80cf" stroke="none" stroke-width="1"/>
<circle cx="147.3" cy="706.3" r="1.45" fill="#4a80cf" stroke="none" stroke-width="1"/>
<circle cx="153" cy="707" r="1.45" fill="#4a80cf" stroke="none" stroke-width="1"/>
<circle cx="141.6" cy="708.2" r="1.45" fill="#4a80cf" stroke="none" stroke-width="1"/>
<circle cx="158.4" cy="708.2" r="1.45" fill="#4a80cf" stroke="none" stroke-width="1"/>
<circle cx="153" cy="710.8" r="1.45" fill="#4a80cf" stroke="none" stroke-width="1"/>
<circle cx="141.6" cy="714.3" r="1.45" fill="#4a80cf" stroke="none" stroke-width="1"/>
<circle cx="147.3" cy="712.6" r="1.45" fill="#4a80cf" stroke="none" stroke-width="1"/>
<circle cx="153" cy="714.3" r="1.45" fill="#4a80cf" stroke="none" stroke-width="1"/>
<circle cx="141.6" cy="718.1" r="1.45" fill="#4a80cf" stroke="none" stroke-width="1"/>
<circle cx="147.3" cy="717" r="1.45" fill="#4a80cf" stroke="none" stroke-width="1"/>
<circle cx="153" cy="718.1" r="1.45" fill="#4a80cf" stroke="none" stroke-width="1"/>
<circle cx="147.3" cy="721.8" r="1.45" fill="#4a80cf" stroke="none" stroke-width="1"/>
<circle cx="141.6" cy="724.9" r="1.45" fill="#4a80cf" stroke="none" stroke-width="1"/>
<circle cx="153" cy="727.1" r="1.45" fill="#4a80cf" stroke="none" stroke-width="1"/>
<circle cx="147.3" cy="728.4" r="1.45" fill="#4a80cf" stroke="none" stroke-width="1"/>
<circle cx="147.3" cy="732.2" r="1.45" fill="#4a80cf" stroke="none" stroke-width="1"/>
<circle cx="181.9" cy="662.1" r="1.45" fill="#a742bd" stroke="none" stroke-width="1"/>
<circle cx="186" cy="661.5" r="1.45" fill="#a742bd" stroke="none" stroke-width="1"/>
<circle cx="190.4" cy="660.4" r="1.45" fill="#a742bd" stroke="none" stroke-width="1"/>
<circle cx="186" cy="664.5" r="1.45" fill="#a742bd" stroke="none" stroke-width="1"/>
<circle cx="190.4" cy="666.2" r="1.45" fill="#a742bd" stroke="none" stroke-width="1"/>
<circle cx="181.9" cy="668" r="1.45" fill="#a742bd" stroke="none" stroke-width="1"/>
<circle cx="186" cy="667.4" r="1.45" fill="#a742bd" stroke="none" stroke-width="1"/>
<circle cx="181.9" cy="670.9" r="1.45" fill="#a742bd" stroke="none" stroke-width="1"/>
<circle cx="177.2" cy="674.4" r="1.45" fill="#a742bd" stroke="none" stroke-width="1"/>
<circle cx="181.9" cy="674.9" r="1.45" fill="#a742bd" stroke="none" stroke-width="1"/>
<circle cx="186" cy="673.5" r="1.45" fill="#a742bd" stroke="none" stroke-width="1"/>
<circle cx="190.4" cy="674.4" r="1.45" fill="#a742bd" stroke="none" stroke-width="1"/>
<circle cx="183.6" cy="678.2" r="1.45" fill="#a742bd" stroke="none" stroke-width="1"/>
<circle cx="183.6" cy="682.5" r="1.45" fill="#a742bd" stroke="none" stroke-width="1"/>
<circle cx="173.2" cy="691.2" r="1.45" fill="#a742bd" stroke="none" stroke-width="1"/>
<circle cx="177.2" cy="693.6" r="1.45" fill="#a742bd" stroke="none" stroke-width="1"/>
<circle cx="181.9" cy="692.4" r="1.45" fill="#a742bd" stroke="none" stroke-width="1"/>
<circle cx="186" cy="695.3" r="1.45" fill="#a742bd" stroke="none" stroke-width="1"/>
<circle cx="190.4" cy="693.6" r="1.45" fill="#a742bd" stroke="none" stroke-width="1"/>
<circle cx="194.7" cy="694.1" r="1.45" fill="#a742bd" stroke="none" stroke-width="1"/>
<circle cx="173.2" cy="696.5" r="1.45" fill="#a742bd" stroke="none" stroke-width="1"/>
<circle cx="177.2" cy="697.1" r="1.45" fill="#a742bd" stroke="none" stroke-width="1"/>
<circle cx="181.9" cy="697.1" r="1.45" fill="#a742bd" stroke="none" stroke-width="1"/>
<circle cx="190.4" cy="697.1" r="1.45" fill="#a742bd" stroke="none" stroke-width="1"/>
<circle cx="173.2" cy="700" r="1.45" fill="#a742bd" stroke="none" stroke-width="1"/>
<circle cx="181.9" cy="701.7" r="1.45" fill="#a742bd" stroke="none" stroke-width="1"/>
<circle cx="186" cy="701.1" r="1.45" fill="#a742bd" stroke="none" stroke-width="1"/>
<circle cx="190.4" cy="700.6" r="1.45" fill="#a742bd" stroke="none" stroke-width="1"/>
<circle cx="194.7" cy="700.6" r="1.45" fill="#a742bd" stroke="none" stroke-width="1"/>
<circle cx="177.2" cy="703.5" r="1.45" fill="#a742bd" stroke="none" stroke-width="1"/>
<circle cx="190.4" cy="703.8" r="1.45" fill="#a742bd" stroke="none" stroke-width="1"/>
<circle cx="181.9" cy="708.1" r="1.45" fill="#a742bd" stroke="none" stroke-width="1"/>
<circle cx="186" cy="707.3" r="1.45" fill="#a742bd" stroke="none" stroke-width="1"/>
<circle cx="177.2" cy="710.5" r="1.45" fill="#a742bd" stroke="none" stroke-width="1"/>
<circle cx="186" cy="711.6" r="1.45" fill="#a742bd" stroke="none" stroke-width="1"/>
<circle cx="177.2" cy="713.4" r="1.45" fill="#a742bd" stroke="none" stroke-width="1"/>
<circle cx="190.4" cy="713.1" r="1.45" fill="#a742bd" stroke="none" stroke-width="1"/>
<circle cx="177.2" cy="716.3" r="1.45" fill="#a742bd" stroke="none" stroke-width="1"/>
<circle cx="190.4" cy="716.3" r="1.45" fill="#a742bd" stroke="none" stroke-width="1"/>
<circle cx="194.7" cy="715.7" r="1.45" fill="#a742bd" stroke="none" stroke-width="1"/>
<circle cx="181.9" cy="717.1" r="1.45" fill="#a742bd" stroke="none" stroke-width="1"/>
<circle cx="186" cy="717.8" r="1.45" fill="#a742bd" stroke="none" stroke-width="1"/>
<circle cx="181.9" cy="720.6" r="1.45" fill="#a742bd" stroke="none" stroke-width="1"/>
<circle cx="186" cy="722.4" r="1.45" fill="#a742bd" stroke="none" stroke-width="1"/>
<circle cx="183.6" cy="732.9" r="1.45" fill="#a742bd" stroke="none" stroke-width="1"/>
<circle cx="220.3" cy="651.1" r="1.45" fill="#13a674" stroke="none" stroke-width="1"/>
<circle cx="220.3" cy="656.1" r="1.45" fill="#13a674" stroke="none" stroke-width="1"/>
<circle cx="220.3" cy="660.7" r="1.45" fill="#13a674" stroke="none" stroke-width="1"/>
<circle cx="222.6" cy="670.3" r="1.45" fill="#13a674" stroke="none" stroke-width="1"/>
<circle cx="213.9" cy="674" r="1.45" fill="#13a674" stroke="none" stroke-width="1"/>
<circle cx="218.3" cy="672.6" r="1.45" fill="#13a674" stroke="none" stroke-width="1"/>
<circle cx="222.6" cy="674.9" r="1.45" fill="#13a674" stroke="none" stroke-width="1"/>
<circle cx="227" cy="673.2" r="1.45" fill="#13a674" stroke="none" stroke-width="1"/>
<circle cx="218.3" cy="678.4" r="1.45" fill="#13a674" stroke="none" stroke-width="1"/>
<circle cx="222.6" cy="679.6" r="1.45" fill="#13a674" stroke="none" stroke-width="1"/>
<circle cx="231.4" cy="682.5" r="1.45" fill="#13a674" stroke="none" stroke-width="1"/>
<circle cx="209.3" cy="686.6" r="1.45" fill="#13a674" stroke="none" stroke-width="1"/>
<circle cx="213.9" cy="686" r="1.45" fill="#13a674" stroke="none" stroke-width="1"/>
<circle cx="218.3" cy="686.6" r="1.45" fill="#13a674" stroke="none" stroke-width="1"/>
<circle cx="227" cy="686" r="1.45" fill="#13a674" stroke="none" stroke-width="1"/>
<circle cx="231.4" cy="686.6" r="1.45" fill="#13a674" stroke="none" stroke-width="1"/>
<circle cx="218.3" cy="691.2" r="1.45" fill="#13a674" stroke="none" stroke-width="1"/>
<circle cx="222.6" cy="693.6" r="1.45" fill="#13a674" stroke="none" stroke-width="1"/>
<circle cx="216" cy="697.1" r="1.45" fill="#13a674" stroke="none" stroke-width="1"/>
<circle cx="220.7" cy="697.6" r="1.45" fill="#13a674" stroke="none" stroke-width="1"/>
<circle cx="224.6" cy="696.5" r="1.45" fill="#13a674" stroke="none" stroke-width="1"/>
<circle cx="220.7" cy="700.6" r="1.45" fill="#13a674" stroke="none" stroke-width="1"/>
<circle cx="213.9" cy="704.6" r="1.45" fill="#13a674" stroke="none" stroke-width="1"/>
<circle cx="218.3" cy="704" r="1.45" fill="#13a674" stroke="none" stroke-width="1"/>
<circle cx="222.6" cy="703.5" r="1.45" fill="#13a674" stroke="none" stroke-width="1"/>
<circle cx="222.6" cy="706.4" r="1.45" fill="#13a674" stroke="none" stroke-width="1"/>
<circle cx="213.9" cy="709.3" r="1.45" fill="#13a674" stroke="none" stroke-width="1"/>
<circle cx="218.3" cy="708.7" r="1.45" fill="#13a674" stroke="none" stroke-width="1"/>
<circle cx="227" cy="709.9" r="1.45" fill="#13a674" stroke="none" stroke-width="1"/>
<circle cx="213.9" cy="713.6" r="1.45" fill="#13a674" stroke="none" stroke-width="1"/>
<circle cx="218.3" cy="715.5" r="1.45" fill="#13a674" stroke="none" stroke-width="1"/>
<circle cx="222.6" cy="713.6" r="1.45" fill="#13a674" stroke="none" stroke-width="1"/>
<circle cx="227" cy="715.5" r="1.45" fill="#13a674" stroke="none" stroke-width="1"/>
<circle cx="216" cy="721.3" r="1.45" fill="#13a674" stroke="none" stroke-width="1"/>
<circle cx="220.7" cy="720.4" r="1.45" fill="#13a674" stroke="none" stroke-width="1"/>
<circle cx="224.6" cy="721.3" r="1.45" fill="#13a674" stroke="none" stroke-width="1"/>
<circle cx="218.3" cy="724.1" r="1.45" fill="#13a674" stroke="none" stroke-width="1"/>
<circle cx="222.6" cy="724.1" r="1.45" fill="#13a674" stroke="none" stroke-width="1"/>
<line x1="111.1" y1="653.1" x2="111.1" y2="673" stroke="#dc482c" stroke-width="1.5"/>
<line x1="105.1" y1="653.1" x2="117.1" y2="653.1" stroke="#dc482c" stroke-width="1.5"/>
<line x1="105.1" y1="673" x2="117.1" y2="673" stroke="#dc482c" stroke-width="1.5"/>
<line x1="147.2" y1="679.9" x2="147.2" y2="686.8" stroke="#4b4fb0" stroke-width="1.5"/>
<line x1="141.2" y1="679.9" x2="153.2" y2="679.9" stroke="#4b4fb0" stroke-width="1.5"/>
<line x1="141.2" y1="686.8" x2="153.2" y2="686.8" stroke="#4b4fb0" stroke-width="1.5"/>
<line x1="183.8" y1="682.5" x2="183.8" y2="687.7" stroke="#9b35b5" stroke-width="1.5"/>
<line x1="177.8" y1="682.5" x2="189.8" y2="682.5" stroke="#9b35b5" stroke-width="1.5"/>
<line x1="177.8" y1="687.7" x2="189.8" y2="687.7" stroke="#9b35b5" stroke-width="1.5"/>
<line x1="220.5" y1="682.5" x2="220.5" y2="689.5" stroke="#1d6e80" stroke-width="1.5"/>
<line x1="214.5" y1="682.5" x2="226.5" y2="682.5" stroke="#1d6e80" stroke-width="1.5"/>
<line x1="214.5" y1="689.5" x2="226.5" y2="689.5" stroke="#1d6e80" stroke-width="1.5"/>
<line x1="85.7" y1="605.2" x2="85.7" y2="736.8" stroke="#333" stroke-width="1.1"/>
<line x1="82.7" y1="605.32" x2="85.7" y2="605.32" stroke="#333" stroke-width="1.1"/>
<text x="80.3" y="609.56" font-size="10.6" font-weight="bold" stroke="#111" stroke-width="0.3" text-anchor="end" fill="#111">256</text>
<line x1="82.7" y1="618.48" x2="85.7" y2="618.48" stroke="#333" stroke-width="1.1"/>
<text x="80.3" y="622.72" font-size="10.6" font-weight="bold" stroke="#111" stroke-width="0.3" text-anchor="end" fill="#111">128</text>
<line x1="82.7" y1="631.64" x2="85.7" y2="631.64" stroke="#333" stroke-width="1.1"/>
<text x="80.3" y="635.88" font-size="10.6" font-weight="bold" stroke="#111" stroke-width="0.3" text-anchor="end" fill="#111">64</text>
<line x1="82.7" y1="644.8" x2="85.7" y2="644.8" stroke="#333" stroke-width="1.1"/>
<text x="80.3" y="649.04" font-size="10.6" font-weight="bold" stroke="#111" stroke-width="0.3" text-anchor="end" fill="#111">32</text>
<line x1="82.7" y1="657.96" x2="85.7" y2="657.96" stroke="#333" stroke-width="1.1"/>
<text x="80.3" y="662.2" font-size="10.6" font-weight="bold" stroke="#111" stroke-width="0.3" text-anchor="end" fill="#111">16</text>
<line x1="82.7" y1="671.12" x2="85.7" y2="671.12" stroke="#333" stroke-width="1.1"/>
<text x="80.3" y="675.36" font-size="10.6" font-weight="bold" stroke="#111" stroke-width="0.3" text-anchor="end" fill="#111">8</text>
<line x1="82.7" y1="684.28" x2="85.7" y2="684.28" stroke="#333" stroke-width="1.1"/>
<text x="80.3" y="688.52" font-size="10.6" font-weight="bold" stroke="#111" stroke-width="0.3" text-anchor="end" fill="#111">4</text>
<line x1="82.7" y1="697.44" x2="85.7" y2="697.44" stroke="#333" stroke-width="1.1"/>
<text x="80.3" y="701.68" font-size="10.6" font-weight="bold" stroke="#111" stroke-width="0.3" text-anchor="end" fill="#111">2</text>
<line x1="82.7" y1="710.6" x2="85.7" y2="710.6" stroke="#333" stroke-width="1.1"/>
<text x="80.3" y="714.84" font-size="10.6" font-weight="bold" stroke="#111" stroke-width="0.3" text-anchor="end" fill="#111">1</text>
<line x1="82.7" y1="723.76" x2="85.7" y2="723.76" stroke="#333" stroke-width="1.1"/>
<text x="80.3" y="728" font-size="10.6" font-weight="bold" stroke="#111" stroke-width="0.3" text-anchor="end" fill="#111">0.5</text>
<line x1="82.7" y1="736.92" x2="85.7" y2="736.92" stroke="#333" stroke-width="1.1"/>
<text x="80.3" y="741.16" font-size="10.6" font-weight="bold" stroke="#111" stroke-width="0.3" text-anchor="end" fill="#111">0.25</text>
<line x1="85.7" y1="710.6" x2="244.5" y2="710.6" stroke="#222" stroke-width="1.1"/>
<line x1="85.7" y1="736.8" x2="243.1" y2="736.8" stroke="#777" stroke-width="1.1"/>
<line x1="111.1" y1="736.8" x2="111.1" y2="739.8" stroke="#777" stroke-width="1.1"/>
<text x="114.9" y="741.5" font-size="11" font-weight="bold" stroke="#111" stroke-width="0.3" text-anchor="end" fill="#111" transform="rotate(-90 114.9 741.5)">30-50</text>
<line x1="147.2" y1="736.8" x2="147.2" y2="739.8" stroke="#777" stroke-width="1.1"/>
<text x="151" y="741.5" font-size="11" font-weight="bold" stroke="#111" stroke-width="0.3" text-anchor="end" fill="#111" transform="rotate(-90 151 741.5)">51-60</text>
<line x1="183.8" y1="736.8" x2="183.8" y2="739.8" stroke="#777" stroke-width="1.1"/>
<text x="187.6" y="741.5" font-size="11" font-weight="bold" stroke="#111" stroke-width="0.3" text-anchor="end" fill="#111" transform="rotate(-90 187.6 741.5)">61-70</text>
<line x1="220.5" y1="736.8" x2="220.5" y2="739.8" stroke="#777" stroke-width="1.1"/>
<text x="224.3" y="741.5" font-size="11" font-weight="bold" stroke="#111" stroke-width="0.3" text-anchor="end" fill="#111" transform="rotate(-90 224.3 741.5)">71-85</text>
<text x="164.6" y="784" font-size="12.25" font-weight="bold" stroke="#111" stroke-width="0.3" text-anchor="middle" fill="#111">Age at diagnosis</text>
<line x1="106.6" y1="588.5" x2="218.3" y2="588.5" stroke="#222" stroke-width="0.9"/>
<text x="171.6" y="585.9" font-size="9.5" text-anchor="middle" fill="#111" stroke="#111" stroke-width="0.2"><tspan font-style="italic">p</tspan>=0.01</text>
<line x1="106.6" y1="598.5" x2="182" y2="598.5" stroke="#222" stroke-width="0.9"/>
<text x="137" y="596.9" font-size="9.5" text-anchor="middle" fill="#111" stroke="#111" stroke-width="0.2"><tspan font-style="italic">p</tspan>=0.01</text>
<line x1="106.6" y1="610.5" x2="136.5" y2="610.5" stroke="#222" stroke-width="0.9"/>
<text x="122" y="608" font-size="9.5" text-anchor="middle" fill="#111" stroke="#111" stroke-width="0.2"><tspan font-style="italic">p</tspan>=0.02</text>
<text x="313" y="549.3" font-size="22" text-anchor="start" fill="#111">f</text>
<text x="332.7" y="569.6" font-size="13" font-weight="bold" stroke="#a43dc4" stroke-width="0.3" text-anchor="start" fill="#a43dc4">AHSB</text>
<text x="332.7" y="581.5" font-size="13" font-weight="bold" stroke="#a43dc4" stroke-width="0.3" text-anchor="start" fill="#a43dc4">cohort</text>
<text x="487.8" y="579.8" font-size="14.35" font-weight="bold" stroke="#111" stroke-width="0.3" text-anchor="middle" fill="#111">Nulliparous women</text>
<text x="342.2" y="677" font-size="13" font-weight="bold" stroke="#111" stroke-width="0.3" font-style="italic" text-anchor="middle" fill="#111" transform="rotate(-90 342.2 677)">RRAS2 mRNA</text>
<text x="357" y="677" font-size="13" font-weight="bold" stroke="#111" stroke-width="0.3" font-style="italic" text-anchor="middle" fill="#111" transform="rotate(-90 357 677)">(Relative Expression)</text>
<rect x="420.5" y="682.6" width="24" height="34.9" fill="#ebebeb" stroke="#dc482c" stroke-width="1.5"/>
<rect x="457.2" y="668.2" width="24" height="49.3" fill="#ebebeb" stroke="#4b4fb0" stroke-width="1.5"/>
<rect x="494.2" y="678.5" width="24" height="39" fill="#ebebeb" stroke="#9b35b5" stroke-width="1.5"/>
<rect x="531.2" y="664" width="24" height="53.5" fill="#ebebeb" stroke="#1d6e80" stroke-width="1.5"/>
<rect x="426.3" y="655.9" width="3.4" height="3.4" fill="#e8432a" stroke="none" stroke-width="1"/>
<rect x="434.3" y="652.7" width="3.4" height="3.4" fill="#e8432a" stroke="none" stroke-width="1"/>
<rect x="431.2" y="690.5" width="3.4" height="3.4" fill="#e8432a" stroke="none" stroke-width="1"/>
<rect x="425.4" y="701.4" width="3.4" height="3.4" fill="#e8432a" stroke="none" stroke-width="1"/>
<rect x="434.3" y="700.8" width="3.4" height="3.4" fill="#e8432a" stroke="none" stroke-width="1"/>
<rect x="430.5" y="708.1" width="3.4" height="3.4" fill="#e8432a" stroke="none" stroke-width="1"/>
<rect x="426.3" y="720" width="3.4" height="3.4" fill="#e8432a" stroke="none" stroke-width="1"/>
<rect x="434.3" y="720" width="3.4" height="3.4" fill="#e8432a" stroke="none" stroke-width="1"/>
<rect x="430.5" y="726.4" width="3.4" height="3.4" fill="#e8432a" stroke="none" stroke-width="1"/>
<circle cx="466.5" cy="644.8" r="1.6" fill="#4a80cf" stroke="none" stroke-width="1"/>
<circle cx="472" cy="643.9" r="1.6" fill="#4a80cf" stroke="none" stroke-width="1"/>
<circle cx="466.5" cy="689" r="1.6" fill="#4a80cf" stroke="none" stroke-width="1"/>
<circle cx="472" cy="692.2" r="1.6" fill="#4a80cf" stroke="none" stroke-width="1"/>
<circle cx="469.7" cy="705" r="1.6" fill="#4a80cf" stroke="none" stroke-width="1"/>
<circle cx="505.9" cy="635.2" r="1.6" fill="#a742bd" stroke="none" stroke-width="1"/>
<circle cx="505.9" cy="699.3" r="1.6" fill="#a742bd" stroke="none" stroke-width="1"/>
<circle cx="505.9" cy="710.5" r="1.6" fill="#a742bd" stroke="none" stroke-width="1"/>
<circle cx="505.9" cy="712.7" r="1.6" fill="#a742bd" stroke="none" stroke-width="1"/>
<circle cx="503.3" cy="725.9" r="1.6" fill="#a742bd" stroke="none" stroke-width="1"/>
<circle cx="508.8" cy="724.9" r="1.6" fill="#a742bd" stroke="none" stroke-width="1"/>
<circle cx="542.4" cy="640" r="1.6" fill="#13a674" stroke="none" stroke-width="1"/>
<circle cx="542.4" cy="643.2" r="1.6" fill="#13a674" stroke="none" stroke-width="1"/>
<circle cx="542.4" cy="683.9" r="1.6" fill="#13a674" stroke="none" stroke-width="1"/>
<circle cx="542.4" cy="700.9" r="1.6" fill="#13a674" stroke="none" stroke-width="1"/>
<circle cx="540.1" cy="708.9" r="1.6" fill="#13a674" stroke="none" stroke-width="1"/>
<circle cx="545.6" cy="708.9" r="1.6" fill="#13a674" stroke="none" stroke-width="1"/>
<circle cx="542.4" cy="717.5" r="1.6" fill="#13a674" stroke="none" stroke-width="1"/>
<line x1="432.5" y1="674.3" x2="432.5" y2="694.5" stroke="#dc482c" stroke-width="1.5"/>
<line x1="425.5" y1="674.3" x2="439.5" y2="674.3" stroke="#dc482c" stroke-width="1.5"/>
<line x1="425.5" y1="694.5" x2="439.5" y2="694.5" stroke="#dc482c" stroke-width="1.5"/>
<line x1="469.2" y1="659.9" x2="469.2" y2="682.6" stroke="#4b4fb0" stroke-width="1.5"/>
<line x1="462.2" y1="659.9" x2="476.2" y2="659.9" stroke="#4b4fb0" stroke-width="1.5"/>
<line x1="462.2" y1="682.6" x2="476.2" y2="682.6" stroke="#4b4fb0" stroke-width="1.5"/>
<line x1="506.2" y1="665.6" x2="506.2" y2="721.7" stroke="#9b35b5" stroke-width="1.5"/>
<line x1="499.2" y1="665.6" x2="513.2" y2="665.6" stroke="#9b35b5" stroke-width="1.5"/>
<line x1="499.2" y1="721.7" x2="513.2" y2="721.7" stroke="#9b35b5" stroke-width="1.5"/>
<line x1="543.2" y1="655.1" x2="543.2" y2="679.4" stroke="#1d6e80" stroke-width="1.5"/>
<line x1="536.2" y1="655.1" x2="550.2" y2="655.1" stroke="#1d6e80" stroke-width="1.5"/>
<line x1="536.2" y1="679.4" x2="550.2" y2="679.4" stroke="#1d6e80" stroke-width="1.5"/>
<line x1="407.2" y1="610.2" x2="407.2" y2="744.1" stroke="#333" stroke-width="1.1"/>
<line x1="404.2" y1="610.46" x2="407.2" y2="610.46" stroke="#333" stroke-width="1.1"/>
<text x="401.8" y="614.66" font-size="10.5" font-weight="bold" stroke="#111" stroke-width="0.3" text-anchor="end" fill="#111">256</text>
<line x1="404.2" y1="623.84" x2="407.2" y2="623.84" stroke="#333" stroke-width="1.1"/>
<text x="401.8" y="628.04" font-size="10.5" font-weight="bold" stroke="#111" stroke-width="0.3" text-anchor="end" fill="#111">128</text>
<line x1="404.2" y1="637.22" x2="407.2" y2="637.22" stroke="#333" stroke-width="1.1"/>
<text x="401.8" y="641.42" font-size="10.5" font-weight="bold" stroke="#111" stroke-width="0.3" text-anchor="end" fill="#111">64</text>
<line x1="404.2" y1="650.6" x2="407.2" y2="650.6" stroke="#333" stroke-width="1.1"/>
<text x="401.8" y="654.8" font-size="10.5" font-weight="bold" stroke="#111" stroke-width="0.3" text-anchor="end" fill="#111">32</text>
<line x1="404.2" y1="663.98" x2="407.2" y2="663.98" stroke="#333" stroke-width="1.1"/>
<text x="401.8" y="668.18" font-size="10.5" font-weight="bold" stroke="#111" stroke-width="0.3" text-anchor="end" fill="#111">16</text>
<line x1="404.2" y1="677.36" x2="407.2" y2="677.36" stroke="#333" stroke-width="1.1"/>
<text x="401.8" y="681.56" font-size="10.5" font-weight="bold" stroke="#111" stroke-width="0.3" text-anchor="end" fill="#111">8</text>
<line x1="404.2" y1="690.74" x2="407.2" y2="690.74" stroke="#333" stroke-width="1.1"/>
<text x="401.8" y="694.94" font-size="10.5" font-weight="bold" stroke="#111" stroke-width="0.3" text-anchor="end" fill="#111">4</text>
<line x1="404.2" y1="704.12" x2="407.2" y2="704.12" stroke="#333" stroke-width="1.1"/>
<text x="401.8" y="708.32" font-size="10.5" font-weight="bold" stroke="#111" stroke-width="0.3" text-anchor="end" fill="#111">2</text>
<line x1="404.2" y1="717.5" x2="407.2" y2="717.5" stroke="#333" stroke-width="1.1"/>
<text x="401.8" y="721.7" font-size="10.5" font-weight="bold" stroke="#111" stroke-width="0.3" text-anchor="end" fill="#111">1</text>
<line x1="404.2" y1="730.88" x2="407.2" y2="730.88" stroke="#333" stroke-width="1.1"/>
<text x="401.8" y="735.08" font-size="10.5" font-weight="bold" stroke="#111" stroke-width="0.3" text-anchor="end" fill="#111">0.5</text>
<line x1="404.2" y1="744.26" x2="407.2" y2="744.26" stroke="#333" stroke-width="1.1"/>
<text x="401.8" y="748.46" font-size="10.5" font-weight="bold" stroke="#111" stroke-width="0.3" text-anchor="end" fill="#111">0.25</text>
<line x1="407.2" y1="717.5" x2="568.9" y2="717.5" stroke="#222" stroke-width="1.1"/>
<line x1="407.2" y1="744.1" x2="568.9" y2="744.1" stroke="#777" stroke-width="1.1"/>
<line x1="432.5" y1="744.1" x2="432.5" y2="747.4" stroke="#777" stroke-width="1.1"/>
<text x="437.1" y="751" font-size="9.6" font-weight="bold" stroke="#111" stroke-width="0.3" text-anchor="end" fill="#111" transform="rotate(-90 437.1 751)">30-50</text>
<line x1="469.2" y1="744.1" x2="469.2" y2="747.4" stroke="#777" stroke-width="1.1"/>
<text x="473.8" y="751" font-size="9.6" font-weight="bold" stroke="#111" stroke-width="0.3" text-anchor="end" fill="#111" transform="rotate(-90 473.8 751)">51-60</text>
<line x1="506.2" y1="744.1" x2="506.2" y2="747.4" stroke="#777" stroke-width="1.1"/>
<text x="510.8" y="751" font-size="9.6" font-weight="bold" stroke="#111" stroke-width="0.3" text-anchor="end" fill="#111" transform="rotate(-90 510.8 751)">61-70</text>
<line x1="543.2" y1="744.1" x2="543.2" y2="747.4" stroke="#777" stroke-width="1.1"/>
<text x="547.8" y="751" font-size="9.6" font-weight="bold" stroke="#111" stroke-width="0.3" text-anchor="end" fill="#111" transform="rotate(-90 547.8 751)">71-85</text>
<text x="488.4" y="791.5" font-size="12.7" font-weight="bold" stroke="#111" stroke-width="0.3" text-anchor="middle" fill="#111">Age at diagnosis</text>
<line x1="432.9" y1="615.5" x2="542.8" y2="615.5" stroke="#333" stroke-width="0.9"/>
<text x="487.2" y="612.2" font-size="10" text-anchor="middle" fill="#111">ns</text>
<line x1="432.9" y1="625.5" x2="505.9" y2="625.5" stroke="#333" stroke-width="0.9"/>
<text x="469" y="623.2" font-size="10" text-anchor="middle" fill="#111">ns</text>
<line x1="432.9" y1="637.5" x2="469.2" y2="637.5" stroke="#333" stroke-width="0.9"/>
<text x="450.5" y="634.4" font-size="10" text-anchor="middle" fill="#111">ns</text>
<text x="0" y="778" font-size="22" text-anchor="start" fill="#111">g</text>
<text x="16.5" y="800.9" font-size="13" font-weight="bold" stroke="#a43dc4" stroke-width="0.3" text-anchor="start" fill="#a43dc4">AHSB</text>
<text x="16.5" y="812.9" font-size="13" font-weight="bold" stroke="#a43dc4" stroke-width="0.3" text-anchor="start" fill="#a43dc4">cohort</text>
<text x="166.2" y="816.8" font-size="12.75" font-weight="bold" stroke="#111" stroke-width="0.3" text-anchor="middle" fill="#111">Lactation</text>
<text x="49.9" y="894" font-size="13" font-weight="bold" stroke="#111" stroke-width="0.3" font-style="italic" text-anchor="middle" fill="#111" transform="rotate(-90 49.9 894)">RRAS2 mRNA</text>
<text x="64.8" y="894" font-size="13" font-weight="bold" stroke="#111" stroke-width="0.3" font-style="italic" text-anchor="middle" fill="#111" transform="rotate(-90 64.8 894)">(Relative Expression)</text>
<rect x="115.2" y="924.8" width="40" height="25.2" fill="#e8e8e8" stroke="none" stroke-width="1"/>
<rect x="176.5" y="925.4" width="40" height="23.1" fill="#e8e8e8" stroke="none" stroke-width="1"/>
<line x1="94.5" y1="949.2" x2="238.4" y2="949.2" stroke="#111" stroke-width="0.9" stroke-dasharray="2,1.6"/>
<circle cx="135" cy="856.5" r="1.95" fill="none" stroke="#6c70c4" stroke-width="0.8"/>
<circle cx="135" cy="872.9" r="1.95" fill="none" stroke="#6c70c4" stroke-width="0.8"/>
<circle cx="135" cy="896.3" r="1.95" fill="none" stroke="#6c70c4" stroke-width="0.8"/>
<circle cx="131" cy="904.5" r="1.95" fill="none" stroke="#6c70c4" stroke-width="0.8"/>
<circle cx="139" cy="906.5" r="1.95" fill="none" stroke="#6c70c4" stroke-width="0.8"/>
<circle cx="128" cy="913.7" r="1.95" fill="none" stroke="#6c70c4" stroke-width="0.8"/>
<circle cx="135" cy="914.5" r="1.95" fill="none" stroke="#6c70c4" stroke-width="0.8"/>
<circle cx="142" cy="913" r="1.95" fill="none" stroke="#6c70c4" stroke-width="0.8"/>
<circle cx="131" cy="917.8" r="1.95" fill="none" stroke="#6c70c4" stroke-width="0.8"/>
<circle cx="138" cy="917.8" r="1.95" fill="none" stroke="#6c70c4" stroke-width="0.8"/>
<circle cx="135" cy="924" r="1.95" fill="none" stroke="#6c70c4" stroke-width="0.8"/>
<circle cx="131" cy="930" r="1.95" fill="none" stroke="#6c70c4" stroke-width="0.8"/>
<circle cx="139" cy="931" r="1.95" fill="none" stroke="#6c70c4" stroke-width="0.8"/>
<circle cx="128" cy="935" r="1.95" fill="none" stroke="#6c70c4" stroke-width="0.8"/>
<circle cx="135" cy="938" r="1.95" fill="none" stroke="#6c70c4" stroke-width="0.8"/>
<circle cx="142" cy="936" r="1.95" fill="none" stroke="#6c70c4" stroke-width="0.8"/>
<circle cx="131" cy="940.5" r="1.95" fill="none" stroke="#6c70c4" stroke-width="0.8"/>
<circle cx="138" cy="941.5" r="1.95" fill="none" stroke="#6c70c4" stroke-width="0.8"/>
<circle cx="125" cy="943" r="1.95" fill="none" stroke="#6c70c4" stroke-width="0.8"/>
<circle cx="117.25" cy="946.59" r="1.95" fill="none" stroke="#6c70c4" stroke-width="0.8"/>
<circle cx="122.09" cy="946.91" r="1.95" fill="none" stroke="#6c70c4" stroke-width="0.8"/>
<circle cx="126.48" cy="946.88" r="1.95" fill="none" stroke="#6c70c4" stroke-width="0.8"/>
<circle cx="129.56" cy="946.14" r="1.95" fill="none" stroke="#6c70c4" stroke-width="0.8"/>
<circle cx="135.89" cy="946.44" r="1.95" fill="none" stroke="#6c70c4" stroke-width="0.8"/>
<circle cx="140.3" cy="945.58" r="1.95" fill="none" stroke="#6c70c4" stroke-width="0.8"/>
<circle cx="143.94" cy="945.79" r="1.95" fill="none" stroke="#6c70c4" stroke-width="0.8"/>
<circle cx="148.59" cy="946.32" r="1.95" fill="none" stroke="#6c70c4" stroke-width="0.8"/>
<circle cx="152.03" cy="945.75" r="1.95" fill="none" stroke="#6c70c4" stroke-width="0.8"/>
<circle cx="116.56" cy="950.87" r="1.95" fill="none" stroke="#6c70c4" stroke-width="0.8"/>
<circle cx="122.03" cy="949.66" r="1.95" fill="none" stroke="#6c70c4" stroke-width="0.8"/>
<circle cx="126.59" cy="949.62" r="1.95" fill="none" stroke="#6c70c4" stroke-width="0.8"/>
<circle cx="130.73" cy="949.6" r="1.95" fill="none" stroke="#6c70c4" stroke-width="0.8"/>
<circle cx="134" cy="950.79" r="1.95" fill="none" stroke="#6c70c4" stroke-width="0.8"/>
<circle cx="138.92" cy="949.74" r="1.95" fill="none" stroke="#6c70c4" stroke-width="0.8"/>
<circle cx="144.96" cy="950.8" r="1.95" fill="none" stroke="#6c70c4" stroke-width="0.8"/>
<circle cx="148.08" cy="950.94" r="1.95" fill="none" stroke="#6c70c4" stroke-width="0.8"/>
<circle cx="153.08" cy="950.48" r="1.95" fill="none" stroke="#6c70c4" stroke-width="0.8"/>
<circle cx="116.41" cy="954.91" r="1.95" fill="none" stroke="#6c70c4" stroke-width="0.8"/>
<circle cx="121.88" cy="954.95" r="1.95" fill="none" stroke="#6c70c4" stroke-width="0.8"/>
<circle cx="126.79" cy="953.88" r="1.95" fill="none" stroke="#6c70c4" stroke-width="0.8"/>
<circle cx="130.22" cy="953.67" r="1.95" fill="none" stroke="#6c70c4" stroke-width="0.8"/>
<circle cx="134.29" cy="953.5" r="1.95" fill="none" stroke="#6c70c4" stroke-width="0.8"/>
<circle cx="139.1" cy="954.36" r="1.95" fill="none" stroke="#6c70c4" stroke-width="0.8"/>
<circle cx="143.01" cy="954.48" r="1.95" fill="none" stroke="#6c70c4" stroke-width="0.8"/>
<circle cx="148.18" cy="953.9" r="1.95" fill="none" stroke="#6c70c4" stroke-width="0.8"/>
<circle cx="153.64" cy="954.17" r="1.95" fill="none" stroke="#6c70c4" stroke-width="0.8"/>
<rect x="194.7" y="912.3" width="3.6" height="3.6" fill="none" stroke="#e58b7c" stroke-width="0.75"/>
<rect x="190.9" y="923.6" width="3.6" height="3.6" fill="none" stroke="#e58b7c" stroke-width="0.75"/>
<rect x="198.5" y="922.7" width="3.6" height="3.6" fill="none" stroke="#e58b7c" stroke-width="0.75"/>
<rect x="194.7" y="935" width="3.6" height="3.6" fill="none" stroke="#e58b7c" stroke-width="0.75"/>
<rect x="202.2" y="935" width="3.6" height="3.6" fill="none" stroke="#e58b7c" stroke-width="0.75"/>
<rect x="188.1" y="940.6" width="3.6" height="3.6" fill="none" stroke="#e58b7c" stroke-width="0.75"/>
<rect x="194.7" y="938.7" width="3.6" height="3.6" fill="none" stroke="#e58b7c" stroke-width="0.75"/>
<rect x="202.2" y="942.5" width="3.6" height="3.6" fill="none" stroke="#e58b7c" stroke-width="0.75"/>
<rect x="188.1" y="947.3" width="3.6" height="3.6" fill="none" stroke="#e58b7c" stroke-width="0.75"/>
<rect x="202.2" y="947.3" width="3.6" height="3.6" fill="none" stroke="#e58b7c" stroke-width="0.75"/>
<rect x="188.1" y="951" width="3.6" height="3.6" fill="none" stroke="#e58b7c" stroke-width="0.75"/>
<rect x="202.2" y="952" width="3.6" height="3.6" fill="none" stroke="#e58b7c" stroke-width="0.75"/>
<rect x="188.1" y="953.9" width="3.6" height="3.6" fill="none" stroke="#e58b7c" stroke-width="0.75"/>
<rect x="194.7" y="952.9" width="3.6" height="3.6" fill="none" stroke="#e58b7c" stroke-width="0.75"/>
<rect x="194.7" y="855.7" width="3.6" height="3.6" fill="none" stroke="#e58b7c" stroke-width="0.75"/>
<rect x="194.7" y="870.7" width="3.6" height="3.6" fill="none" stroke="#e58b7c" stroke-width="0.75"/>
<line x1="135.2" y1="840.2" x2="135.2" y2="924.8" stroke="#3f42a8" stroke-width="1.5"/>
<line x1="135.2" y1="950" x2="135.2" y2="955.2" stroke="#3f42a8" stroke-width="1.5"/>
<line x1="124.2" y1="840.2" x2="146.2" y2="840.2" stroke="#3f42a8" stroke-width="1.5"/>
<line x1="124.2" y1="955.2" x2="146.2" y2="955.2" stroke="#3f42a8" stroke-width="1.5"/>
<rect x="115.2" y="924.8" width="40" height="25.2" fill="none" stroke="#3f42a8" stroke-width="1.5"/>
<line x1="115.2" y1="944.7" x2="155.2" y2="944.7" stroke="#3f42a8" stroke-width="1.5"/>
<line x1="130.6" y1="934.5" x2="138.6" y2="934.5" stroke="#3f42a8" stroke-width="2"/>
<line x1="134.6" y1="930.5" x2="134.6" y2="938.5" stroke="#3f42a8" stroke-width="2"/>
<line x1="196.5" y1="857.3" x2="196.5" y2="925.4" stroke="#d0402c" stroke-width="1.5"/>
<line x1="196.5" y1="948.5" x2="196.5" y2="955.2" stroke="#d0402c" stroke-width="1.5"/>
<line x1="186" y1="857.3" x2="207" y2="857.3" stroke="#d0402c" stroke-width="1.5"/>
<line x1="186" y1="955.2" x2="207" y2="955.2" stroke="#d0402c" stroke-width="1.5"/>
<rect x="176.5" y="925.4" width="40" height="23.1" fill="none" stroke="#d0402c" stroke-width="1.5"/>
<line x1="176.5" y1="939" x2="216.5" y2="939" stroke="#d0402c" stroke-width="1.5"/>
<line x1="192.5" y1="930" x2="200.5" y2="930" stroke="#d0402c" stroke-width="2"/>
<line x1="196.5" y1="926" x2="196.5" y2="934" stroke="#d0402c" stroke-width="2"/>
<line x1="94.5" y1="835.5" x2="94.5" y2="955.2" stroke="#333" stroke-width="1.1"/>
<line x1="91.5" y1="955.2" x2="94.5" y2="955.2" stroke="#333" stroke-width="1.1"/>
<text x="89.7" y="959.6" font-size="11" font-weight="bold" stroke="#111" stroke-width="0.3" text-anchor="end" fill="#111">0</text>
<line x1="91.5" y1="925.28" x2="94.5" y2="925.28" stroke="#333" stroke-width="1.1"/>
<text x="89.7" y="929.68" font-size="11" font-weight="bold" stroke="#111" stroke-width="0.3" text-anchor="end" fill="#111">5</text>
<line x1="91.5" y1="895.35" x2="94.5" y2="895.35" stroke="#333" stroke-width="1.1"/>
<text x="89.7" y="899.75" font-size="11" font-weight="bold" stroke="#111" stroke-width="0.3" text-anchor="end" fill="#111">10</text>
<line x1="91.5" y1="865.43" x2="94.5" y2="865.43" stroke="#333" stroke-width="1.1"/>
<text x="89.7" y="869.83" font-size="11" font-weight="bold" stroke="#111" stroke-width="0.3" text-anchor="end" fill="#111">15</text>
<line x1="91.5" y1="835.5" x2="94.5" y2="835.5" stroke="#333" stroke-width="1.1"/>
<text x="89.7" y="839.9" font-size="11" font-weight="bold" stroke="#111" stroke-width="0.3" text-anchor="end" fill="#111">20</text>
<line x1="94.5" y1="955.2" x2="238.4" y2="955.2" stroke="#555" stroke-width="1.2"/>
<line x1="134.6" y1="836.2" x2="196.5" y2="836.2" stroke="#666" stroke-width="1.1"/>
<text x="165.5" y="831.1" font-size="10" text-anchor="middle" fill="#111">ns</text>
<text x="140" y="971" font-size="13" font-weight="bold" stroke="#111" stroke-width="0.3" text-anchor="end" fill="#111" transform="rotate(-45 140 971)">Yes</text>
<text x="202" y="972" font-size="13" font-weight="bold" stroke="#111" stroke-width="0.3" text-anchor="end" fill="#111" transform="rotate(-45 202 972)">No</text>
<text x="312" y="788" font-size="22" text-anchor="start" fill="#111">h</text>
<text x="333.6" y="800.9" font-size="13" font-weight="bold" stroke="#a43dc4" stroke-width="0.3" text-anchor="start" fill="#a43dc4">AHSB</text>
<text x="333.6" y="812.9" font-size="13" font-weight="bold" stroke="#a43dc4" stroke-width="0.3" text-anchor="start" fill="#a43dc4">cohort</text>
<text x="487.4" y="824" font-size="12.6" font-weight="bold" stroke="#111" stroke-width="0.3" text-anchor="middle" fill="#111">Abortions</text>
<text x="371.2" y="901" font-size="13" font-weight="bold" stroke="#111" stroke-width="0.3" font-style="italic" text-anchor="middle" fill="#111" transform="rotate(-90 371.2 901)">RRAS2 mRNA</text>
<text x="386.5" y="901" font-size="13" font-weight="bold" stroke="#111" stroke-width="0.3" font-style="italic" text-anchor="middle" fill="#111" transform="rotate(-90 386.5 901)">(Relative Expression)</text>
<rect x="436.5" y="921.5" width="40" height="34.7" fill="#e8e8e8" stroke="none" stroke-width="1"/>
<rect x="498.4" y="942.1" width="40" height="16" fill="#e8e8e8" stroke="none" stroke-width="1"/>
<line x1="411.3" y1="956.1" x2="550" y2="956.1" stroke="#888" stroke-width="1.1" stroke-dasharray="2,1.6"/>
<circle cx="456.39" cy="866.55" r="2" fill="none" stroke="#7074c4" stroke-width="0.75"/>
<circle cx="456.12" cy="871.89" r="2" fill="none" stroke="#7074c4" stroke-width="0.75"/>
<circle cx="455.42" cy="875.89" r="2" fill="none" stroke="#7074c4" stroke-width="0.75"/>
<circle cx="457.6" cy="887.9" r="2" fill="none" stroke="#7074c4" stroke-width="0.75"/>
<circle cx="455.02" cy="891.9" r="2" fill="none" stroke="#7074c4" stroke-width="0.75"/>
<circle cx="456.51" cy="895.9" r="2" fill="none" stroke="#7074c4" stroke-width="0.75"/>
<circle cx="457.69" cy="905.24" r="2" fill="none" stroke="#7074c4" stroke-width="0.75"/>
<circle cx="455.24" cy="909.91" r="2" fill="none" stroke="#7074c4" stroke-width="0.75"/>
<circle cx="456.66" cy="920.58" r="2" fill="none" stroke="#7074c4" stroke-width="0.75"/>
<circle cx="454.5" cy="925.25" r="2" fill="none" stroke="#7074c4" stroke-width="0.75"/>
<circle cx="458.5" cy="927.25" r="2" fill="none" stroke="#7074c4" stroke-width="0.75"/>
<circle cx="449.5" cy="937.25" r="2" fill="none" stroke="#7074c4" stroke-width="0.75"/>
<circle cx="454.5" cy="939.92" r="2" fill="none" stroke="#7074c4" stroke-width="0.75"/>
<circle cx="460.5" cy="938.59" r="2" fill="none" stroke="#7074c4" stroke-width="0.75"/>
<circle cx="444.5" cy="945.26" r="2" fill="none" stroke="#7074c4" stroke-width="0.75"/>
<circle cx="450.5" cy="947.93" r="2" fill="none" stroke="#7074c4" stroke-width="0.75"/>
<circle cx="456.5" cy="945.93" r="2" fill="none" stroke="#7074c4" stroke-width="0.75"/>
<circle cx="462.5" cy="949.26" r="2" fill="none" stroke="#7074c4" stroke-width="0.75"/>
<circle cx="468.5" cy="946.59" r="2" fill="none" stroke="#7074c4" stroke-width="0.75"/>
<circle cx="440.89" cy="954.37" r="2" fill="none" stroke="#7074c4" stroke-width="0.75"/>
<circle cx="463.42" cy="957.54" r="2" fill="none" stroke="#7074c4" stroke-width="0.75"/>
<circle cx="464.15" cy="956.57" r="2" fill="none" stroke="#7074c4" stroke-width="0.75"/>
<circle cx="447.59" cy="960.5" r="2" fill="none" stroke="#7074c4" stroke-width="0.75"/>
<circle cx="456.71" cy="961.12" r="2" fill="none" stroke="#7074c4" stroke-width="0.75"/>
<circle cx="459.57" cy="950.28" r="2" fill="none" stroke="#7074c4" stroke-width="0.75"/>
<circle cx="452.54" cy="952.27" r="2" fill="none" stroke="#7074c4" stroke-width="0.75"/>
<circle cx="442.96" cy="952.65" r="2" fill="none" stroke="#7074c4" stroke-width="0.75"/>
<circle cx="462.42" cy="958.72" r="2" fill="none" stroke="#7074c4" stroke-width="0.75"/>
<circle cx="453.84" cy="952.92" r="2" fill="none" stroke="#7074c4" stroke-width="0.75"/>
<circle cx="448.57" cy="961.43" r="2" fill="none" stroke="#7074c4" stroke-width="0.75"/>
<circle cx="449.06" cy="959.8" r="2" fill="none" stroke="#7074c4" stroke-width="0.75"/>
<circle cx="446.28" cy="951.8" r="2" fill="none" stroke="#7074c4" stroke-width="0.75"/>
<circle cx="469.4" cy="950.78" r="2" fill="none" stroke="#7074c4" stroke-width="0.75"/>
<circle cx="452.38" cy="961.87" r="2" fill="none" stroke="#7074c4" stroke-width="0.75"/>
<circle cx="440.3" cy="956.04" r="2" fill="none" stroke="#7074c4" stroke-width="0.75"/>
<circle cx="470.32" cy="956.93" r="2" fill="none" stroke="#7074c4" stroke-width="0.75"/>
<circle cx="459.79" cy="961.11" r="2" fill="none" stroke="#7074c4" stroke-width="0.75"/>
<circle cx="459.18" cy="960.98" r="2" fill="none" stroke="#7074c4" stroke-width="0.75"/>
<circle cx="446.4" cy="950.66" r="2" fill="none" stroke="#7074c4" stroke-width="0.75"/>
<circle cx="442.34" cy="962.49" r="2" fill="none" stroke="#7074c4" stroke-width="0.75"/>
<circle cx="440.09" cy="955.4" r="2" fill="none" stroke="#7074c4" stroke-width="0.75"/>
<rect x="531.95" y="954.7" width="3.2" height="3.2" fill="none" stroke="#e58b7c" stroke-width="0.7"/>
<rect x="521.79" y="955.95" width="3.2" height="3.2" fill="none" stroke="#e58b7c" stroke-width="0.7"/>
<rect x="505.01" y="953.65" width="3.2" height="3.2" fill="none" stroke="#e58b7c" stroke-width="0.7"/>
<rect x="506.1" y="939.38" width="3.2" height="3.2" fill="none" stroke="#e58b7c" stroke-width="0.7"/>
<rect x="508.38" y="942.66" width="3.2" height="3.2" fill="none" stroke="#e58b7c" stroke-width="0.7"/>
<rect x="534.73" y="948.39" width="3.2" height="3.2" fill="none" stroke="#e58b7c" stroke-width="0.7"/>
<rect x="533.03" y="952.06" width="3.2" height="3.2" fill="none" stroke="#e58b7c" stroke-width="0.7"/>
<rect x="500.35" y="953.26" width="3.2" height="3.2" fill="none" stroke="#e58b7c" stroke-width="0.7"/>
<rect x="520.05" y="952.46" width="3.2" height="3.2" fill="none" stroke="#e58b7c" stroke-width="0.7"/>
<rect x="513.13" y="947.52" width="3.2" height="3.2" fill="none" stroke="#e58b7c" stroke-width="0.7"/>
<rect x="516.22" y="921.41" width="3.2" height="3.2" fill="none" stroke="#e58b7c" stroke-width="0.7"/>
<rect x="519.48" y="948.5" width="3.2" height="3.2" fill="none" stroke="#e58b7c" stroke-width="0.7"/>
<rect x="510.63" y="950.87" width="3.2" height="3.2" fill="none" stroke="#e58b7c" stroke-width="0.7"/>
<rect x="514.78" y="958.3" width="3.2" height="3.2" fill="none" stroke="#e58b7c" stroke-width="0.7"/>
<rect x="521.46" y="959.87" width="3.2" height="3.2" fill="none" stroke="#e58b7c" stroke-width="0.7"/>
<rect x="499.71" y="951.06" width="3.2" height="3.2" fill="none" stroke="#e58b7c" stroke-width="0.7"/>
<rect x="516.77" y="912.21" width="3.2" height="3.2" fill="none" stroke="#e58b7c" stroke-width="0.7"/>
<rect x="522.5" y="946.01" width="3.2" height="3.2" fill="none" stroke="#e58b7c" stroke-width="0.7"/>
<rect x="533.51" y="958.07" width="3.2" height="3.2" fill="none" stroke="#e58b7c" stroke-width="0.7"/>
<rect x="529.76" y="956.27" width="3.2" height="3.2" fill="none" stroke="#e58b7c" stroke-width="0.7"/>
<rect x="504.96" y="952.54" width="3.2" height="3.2" fill="none" stroke="#e58b7c" stroke-width="0.7"/>
<rect x="511.41" y="932.89" width="3.2" height="3.2" fill="none" stroke="#e58b7c" stroke-width="0.7"/>
<rect x="522.16" y="935.38" width="3.2" height="3.2" fill="none" stroke="#e58b7c" stroke-width="0.7"/>
<rect x="510.94" y="920.53" width="3.2" height="3.2" fill="none" stroke="#e58b7c" stroke-width="0.7"/>
<rect x="512.8" y="958.36" width="3.2" height="3.2" fill="none" stroke="#e58b7c" stroke-width="0.7"/>
<rect x="513.31" y="939.3" width="3.2" height="3.2" fill="none" stroke="#e58b7c" stroke-width="0.7"/>
<rect x="503.74" y="953.88" width="3.2" height="3.2" fill="none" stroke="#e58b7c" stroke-width="0.7"/>
<rect x="523.86" y="953.95" width="3.2" height="3.2" fill="none" stroke="#e58b7c" stroke-width="0.7"/>
<rect x="524.14" y="955.28" width="3.2" height="3.2" fill="none" stroke="#e58b7c" stroke-width="0.7"/>
<rect x="526.09" y="944.75" width="3.2" height="3.2" fill="none" stroke="#e58b7c" stroke-width="0.7"/>
<rect x="526.58" y="951.93" width="3.2" height="3.2" fill="none" stroke="#e58b7c" stroke-width="0.7"/>
<rect x="511.99" y="924.84" width="3.2" height="3.2" fill="none" stroke="#e58b7c" stroke-width="0.7"/>
<rect x="505.04" y="954.3" width="3.2" height="3.2" fill="none" stroke="#e58b7c" stroke-width="0.7"/>
<rect x="523.52" y="947.54" width="3.2" height="3.2" fill="none" stroke="#e58b7c" stroke-width="0.7"/>
<rect x="505.13" y="960.84" width="3.2" height="3.2" fill="none" stroke="#e58b7c" stroke-width="0.7"/>
<rect x="512.78" y="953.91" width="3.2" height="3.2" fill="none" stroke="#e58b7c" stroke-width="0.7"/>
<rect x="532.87" y="954.89" width="3.2" height="3.2" fill="none" stroke="#e58b7c" stroke-width="0.7"/>
<rect x="499.84" y="949.07" width="3.2" height="3.2" fill="none" stroke="#e58b7c" stroke-width="0.7"/>
<rect x="517.33" y="908.65" width="3.2" height="3.2" fill="none" stroke="#e58b7c" stroke-width="0.7"/>
<rect x="531.54" y="954.19" width="3.2" height="3.2" fill="none" stroke="#e58b7c" stroke-width="0.7"/>
<rect x="518.32" y="952.85" width="3.2" height="3.2" fill="none" stroke="#e58b7c" stroke-width="0.7"/>
<rect x="524.74" y="951.81" width="3.2" height="3.2" fill="none" stroke="#e58b7c" stroke-width="0.7"/>
<rect x="515.13" y="952.13" width="3.2" height="3.2" fill="none" stroke="#e58b7c" stroke-width="0.7"/>
<rect x="500.71" y="952.93" width="3.2" height="3.2" fill="none" stroke="#e58b7c" stroke-width="0.7"/>
<rect x="525.89" y="944.84" width="3.2" height="3.2" fill="none" stroke="#e58b7c" stroke-width="0.7"/>
<rect x="525.07" y="950.57" width="3.2" height="3.2" fill="none" stroke="#e58b7c" stroke-width="0.7"/>
<rect x="505.66" y="940.15" width="3.2" height="3.2" fill="none" stroke="#e58b7c" stroke-width="0.7"/>
<rect x="521.07" y="942.6" width="3.2" height="3.2" fill="none" stroke="#e58b7c" stroke-width="0.7"/>
<rect x="505.61" y="960.13" width="3.2" height="3.2" fill="none" stroke="#e58b7c" stroke-width="0.7"/>
<rect x="506.36" y="946.63" width="3.2" height="3.2" fill="none" stroke="#e58b7c" stroke-width="0.7"/>
<rect x="518.08" y="955.04" width="3.2" height="3.2" fill="none" stroke="#e58b7c" stroke-width="0.7"/>
<rect x="510.82" y="951.17" width="3.2" height="3.2" fill="none" stroke="#e58b7c" stroke-width="0.7"/>
<rect x="522.25" y="938.92" width="3.2" height="3.2" fill="none" stroke="#e58b7c" stroke-width="0.7"/>
<rect x="528.47" y="939.21" width="3.2" height="3.2" fill="none" stroke="#e58b7c" stroke-width="0.7"/>
<rect x="514.99" y="937.07" width="3.2" height="3.2" fill="none" stroke="#e58b7c" stroke-width="0.7"/>
<rect x="505.72" y="951.12" width="3.2" height="3.2" fill="none" stroke="#e58b7c" stroke-width="0.7"/>
<rect x="503.12" y="959.6" width="3.2" height="3.2" fill="none" stroke="#e58b7c" stroke-width="0.7"/>
<rect x="515.27" y="904.73" width="3.2" height="3.2" fill="none" stroke="#e58b7c" stroke-width="0.7"/>
<rect x="517.33" y="943.96" width="3.2" height="3.2" fill="none" stroke="#e58b7c" stroke-width="0.7"/>
<rect x="507.3" y="952.96" width="3.2" height="3.2" fill="none" stroke="#e58b7c" stroke-width="0.7"/>
<rect x="505.9" y="954.44" width="3.2" height="3.2" fill="none" stroke="#e58b7c" stroke-width="0.7"/>
<rect x="499.6" y="949.04" width="3.2" height="3.2" fill="none" stroke="#e58b7c" stroke-width="0.7"/>
<rect x="500.88" y="950.86" width="3.2" height="3.2" fill="none" stroke="#e58b7c" stroke-width="0.7"/>
<rect x="520.59" y="950.21" width="3.2" height="3.2" fill="none" stroke="#e58b7c" stroke-width="0.7"/>
<rect x="508.71" y="960.26" width="3.2" height="3.2" fill="none" stroke="#e58b7c" stroke-width="0.7"/>
<rect x="533.92" y="950.86" width="3.2" height="3.2" fill="none" stroke="#e58b7c" stroke-width="0.7"/>
<rect x="521.97" y="908.09" width="3.2" height="3.2" fill="none" stroke="#e58b7c" stroke-width="0.7"/>
<rect x="522.41" y="907.27" width="3.2" height="3.2" fill="none" stroke="#e58b7c" stroke-width="0.7"/>
<rect x="507.7" y="956.97" width="3.2" height="3.2" fill="none" stroke="#e58b7c" stroke-width="0.7"/>
<rect x="513.13" y="943.74" width="3.2" height="3.2" fill="none" stroke="#e58b7c" stroke-width="0.7"/>
<rect x="513.31" y="928.28" width="3.2" height="3.2" fill="none" stroke="#e58b7c" stroke-width="0.7"/>
<rect x="520.78" y="955.15" width="3.2" height="3.2" fill="none" stroke="#e58b7c" stroke-width="0.7"/>
<rect x="509.27" y="944.22" width="3.2" height="3.2" fill="none" stroke="#e58b7c" stroke-width="0.7"/>
<rect x="504.94" y="956.88" width="3.2" height="3.2" fill="none" stroke="#e58b7c" stroke-width="0.7"/>
<rect x="524.42" y="958.61" width="3.2" height="3.2" fill="none" stroke="#e58b7c" stroke-width="0.7"/>
<rect x="519.81" y="947.04" width="3.2" height="3.2" fill="none" stroke="#e58b7c" stroke-width="0.7"/>
<rect x="520.64" y="955.33" width="3.2" height="3.2" fill="none" stroke="#e58b7c" stroke-width="0.7"/>
<rect x="522.41" y="940.08" width="3.2" height="3.2" fill="none" stroke="#e58b7c" stroke-width="0.7"/>
<rect x="510.87" y="954.13" width="3.2" height="3.2" fill="none" stroke="#e58b7c" stroke-width="0.7"/>
<rect x="515.74" y="954" width="3.2" height="3.2" fill="none" stroke="#e58b7c" stroke-width="0.7"/>
<rect x="520.8" y="930.83" width="3.2" height="3.2" fill="none" stroke="#e58b7c" stroke-width="0.7"/>
<rect x="524.61" y="959.74" width="3.2" height="3.2" fill="none" stroke="#e58b7c" stroke-width="0.7"/>
<rect x="501.37" y="954.24" width="3.2" height="3.2" fill="none" stroke="#e58b7c" stroke-width="0.7"/>
<rect x="500.31" y="949.33" width="3.2" height="3.2" fill="none" stroke="#e58b7c" stroke-width="0.7"/>
<rect x="502.26" y="958.93" width="3.2" height="3.2" fill="none" stroke="#e58b7c" stroke-width="0.7"/>
<rect x="518.59" y="903.86" width="3.2" height="3.2" fill="none" stroke="#e58b7c" stroke-width="0.7"/>
<rect x="517.02" y="949.74" width="3.2" height="3.2" fill="none" stroke="#e58b7c" stroke-width="0.7"/>
<rect x="511.72" y="952.25" width="3.2" height="3.2" fill="none" stroke="#e58b7c" stroke-width="0.7"/>
<rect x="512.66" y="956.94" width="3.2" height="3.2" fill="none" stroke="#e58b7c" stroke-width="0.7"/>
<rect x="530.06" y="953.24" width="3.2" height="3.2" fill="none" stroke="#e58b7c" stroke-width="0.7"/>
<rect x="521.22" y="948.24" width="3.2" height="3.2" fill="none" stroke="#e58b7c" stroke-width="0.7"/>
<rect x="529.97" y="954.93" width="3.2" height="3.2" fill="none" stroke="#e58b7c" stroke-width="0.7"/>
<rect x="522.91" y="939.85" width="3.2" height="3.2" fill="none" stroke="#e58b7c" stroke-width="0.7"/>
<rect x="515.05" y="959.18" width="3.2" height="3.2" fill="none" stroke="#e58b7c" stroke-width="0.7"/>
<rect x="512.75" y="946.16" width="3.2" height="3.2" fill="none" stroke="#e58b7c" stroke-width="0.7"/>
<rect x="519.22" y="945.08" width="3.2" height="3.2" fill="none" stroke="#e58b7c" stroke-width="0.7"/>
<rect x="499.74" y="949.23" width="3.2" height="3.2" fill="none" stroke="#e58b7c" stroke-width="0.7"/>
<rect x="522.89" y="951.13" width="3.2" height="3.2" fill="none" stroke="#e58b7c" stroke-width="0.7"/>
<rect x="506.39" y="959.29" width="3.2" height="3.2" fill="none" stroke="#e58b7c" stroke-width="0.7"/>
<rect x="506.6" y="949.56" width="3.2" height="3.2" fill="none" stroke="#e58b7c" stroke-width="0.7"/>
<rect x="514.03" y="952.31" width="3.2" height="3.2" fill="none" stroke="#e58b7c" stroke-width="0.7"/>
<rect x="522.03" y="903.68" width="3.2" height="3.2" fill="none" stroke="#e58b7c" stroke-width="0.7"/>
<rect x="506.26" y="943.69" width="3.2" height="3.2" fill="none" stroke="#e58b7c" stroke-width="0.7"/>
<rect x="516.36" y="928.3" width="3.2" height="3.2" fill="none" stroke="#e58b7c" stroke-width="0.7"/>
<rect x="518.14" y="939.32" width="3.2" height="3.2" fill="none" stroke="#e58b7c" stroke-width="0.7"/>
<rect x="511.82" y="905.28" width="3.2" height="3.2" fill="none" stroke="#e58b7c" stroke-width="0.7"/>
<rect x="526.43" y="949.74" width="3.2" height="3.2" fill="none" stroke="#e58b7c" stroke-width="0.7"/>
<rect x="517.17" y="935.01" width="3.2" height="3.2" fill="none" stroke="#e58b7c" stroke-width="0.7"/>
<rect x="518.84" y="923.13" width="3.2" height="3.2" fill="none" stroke="#e58b7c" stroke-width="0.7"/>
<rect x="511.48" y="935.37" width="3.2" height="3.2" fill="none" stroke="#e58b7c" stroke-width="0.7"/>
<rect x="513.2" y="921.54" width="3.2" height="3.2" fill="none" stroke="#e58b7c" stroke-width="0.7"/>
<rect x="512.36" y="932.12" width="3.2" height="3.2" fill="none" stroke="#e58b7c" stroke-width="0.7"/>
<rect x="513.41" y="960.54" width="3.2" height="3.2" fill="none" stroke="#e58b7c" stroke-width="0.7"/>
<rect x="527.95" y="944.09" width="3.2" height="3.2" fill="none" stroke="#e58b7c" stroke-width="0.7"/>
<rect x="503.98" y="958.81" width="3.2" height="3.2" fill="none" stroke="#e58b7c" stroke-width="0.7"/>
<rect x="520.81" y="946.46" width="3.2" height="3.2" fill="none" stroke="#e58b7c" stroke-width="0.7"/>
<rect x="529.22" y="953.64" width="3.2" height="3.2" fill="none" stroke="#e58b7c" stroke-width="0.7"/>
<rect x="512.63" y="907.17" width="3.2" height="3.2" fill="none" stroke="#e58b7c" stroke-width="0.7"/>
<rect x="513.09" y="948.83" width="3.2" height="3.2" fill="none" stroke="#e58b7c" stroke-width="0.7"/>
<rect x="505.31" y="954.89" width="3.2" height="3.2" fill="none" stroke="#e58b7c" stroke-width="0.7"/>
<rect x="511.93" y="919.36" width="3.2" height="3.2" fill="none" stroke="#e58b7c" stroke-width="0.7"/>
<rect x="513.84" y="923.87" width="3.2" height="3.2" fill="none" stroke="#e58b7c" stroke-width="0.7"/>
<rect x="513.12" y="939.46" width="3.2" height="3.2" fill="none" stroke="#e58b7c" stroke-width="0.7"/>
<rect x="500.91" y="958.49" width="3.2" height="3.2" fill="none" stroke="#e58b7c" stroke-width="0.7"/>
<rect x="529.46" y="957.05" width="3.2" height="3.2" fill="none" stroke="#e58b7c" stroke-width="0.7"/>
<rect x="515.53" y="960.81" width="3.2" height="3.2" fill="none" stroke="#e58b7c" stroke-width="0.7"/>
<rect x="506.92" y="957.07" width="3.2" height="3.2" fill="none" stroke="#e58b7c" stroke-width="0.7"/>
<rect x="532.5" y="952.94" width="3.2" height="3.2" fill="none" stroke="#e58b7c" stroke-width="0.7"/>
<rect x="510.43" y="952.91" width="3.2" height="3.2" fill="none" stroke="#e58b7c" stroke-width="0.7"/>
<rect x="511.15" y="922.63" width="3.2" height="3.2" fill="none" stroke="#e58b7c" stroke-width="0.7"/>
<line x1="456.5" y1="866.4" x2="456.5" y2="921.5" stroke="#3f42a8" stroke-width="1.5"/>
<line x1="456.5" y1="956.2" x2="456.5" y2="962.6" stroke="#3f42a8" stroke-width="1.5"/>
<line x1="446" y1="866.4" x2="467" y2="866.4" stroke="#3f42a8" stroke-width="1.5"/>
<line x1="446" y1="962.6" x2="467" y2="962.6" stroke="#3f42a8" stroke-width="1.5"/>
<rect x="436.5" y="921.5" width="40" height="34.7" fill="none" stroke="#3f42a8" stroke-width="1.5"/>
<line x1="436.5" y1="946.4" x2="476.5" y2="946.4" stroke="#3f42a8" stroke-width="1.5"/>
<line x1="451.7" y1="934.5" x2="459.7" y2="934.5" stroke="#3f42a8" stroke-width="2"/>
<line x1="455.7" y1="930.5" x2="455.7" y2="938.5" stroke="#3f42a8" stroke-width="2"/>
<line x1="518.4" y1="905.4" x2="518.4" y2="942.1" stroke="#d0402c" stroke-width="1.5"/>
<line x1="518.4" y1="958.1" x2="518.4" y2="962.6" stroke="#d0402c" stroke-width="1.5"/>
<line x1="508.9" y1="905.4" x2="527.9" y2="905.4" stroke="#d0402c" stroke-width="1.5"/>
<line x1="508.9" y1="962.6" x2="527.9" y2="962.6" stroke="#d0402c" stroke-width="1.5"/>
<rect x="498.4" y="942.1" width="40" height="16" fill="none" stroke="#d0402c" stroke-width="1.5"/>
<line x1="498.4" y1="953.8" x2="538.4" y2="953.8" stroke="#d0402c" stroke-width="1.5"/>
<line x1="513.6" y1="948.3" x2="521.6" y2="948.3" stroke="#d0402c" stroke-width="2"/>
<line x1="517.6" y1="944.3" x2="517.6" y2="952.3" stroke="#d0402c" stroke-width="2"/>
<line x1="415.8" y1="842.5" x2="415.8" y2="962.6" stroke="#333" stroke-width="1.1"/>
<line x1="412.8" y1="962.6" x2="415.8" y2="962.6" stroke="#333" stroke-width="1.1"/>
<text x="411" y="967" font-size="11" font-weight="bold" stroke="#111" stroke-width="0.3" text-anchor="end" fill="#111">0</text>
<line x1="412.8" y1="949.26" x2="415.8" y2="949.26" stroke="#333" stroke-width="1.1"/>
<text x="411" y="953.66" font-size="11" font-weight="bold" stroke="#111" stroke-width="0.3" text-anchor="end" fill="#111">2</text>
<line x1="412.8" y1="935.92" x2="415.8" y2="935.92" stroke="#333" stroke-width="1.1"/>
<text x="411" y="940.32" font-size="11" font-weight="bold" stroke="#111" stroke-width="0.3" text-anchor="end" fill="#111">4</text>
<line x1="412.8" y1="922.58" x2="415.8" y2="922.58" stroke="#333" stroke-width="1.1"/>
<text x="411" y="926.98" font-size="11" font-weight="bold" stroke="#111" stroke-width="0.3" text-anchor="end" fill="#111">6</text>
<line x1="412.8" y1="909.24" x2="415.8" y2="909.24" stroke="#333" stroke-width="1.1"/>
<text x="411" y="913.64" font-size="11" font-weight="bold" stroke="#111" stroke-width="0.3" text-anchor="end" fill="#111">8</text>
<line x1="412.8" y1="895.9" x2="415.8" y2="895.9" stroke="#333" stroke-width="1.1"/>
<text x="411" y="900.3" font-size="11" font-weight="bold" stroke="#111" stroke-width="0.3" text-anchor="end" fill="#111">10</text>
<line x1="412.8" y1="882.56" x2="415.8" y2="882.56" stroke="#333" stroke-width="1.1"/>
<text x="411" y="886.96" font-size="11" font-weight="bold" stroke="#111" stroke-width="0.3" text-anchor="end" fill="#111">12</text>
<line x1="412.8" y1="869.22" x2="415.8" y2="869.22" stroke="#333" stroke-width="1.1"/>
<text x="411" y="873.62" font-size="11" font-weight="bold" stroke="#111" stroke-width="0.3" text-anchor="end" fill="#111">14</text>
<line x1="412.8" y1="855.88" x2="415.8" y2="855.88" stroke="#333" stroke-width="1.1"/>
<text x="411" y="860.28" font-size="11" font-weight="bold" stroke="#111" stroke-width="0.3" text-anchor="end" fill="#111">16</text>
<line x1="412.8" y1="842.54" x2="415.8" y2="842.54" stroke="#333" stroke-width="1.1"/>
<text x="411" y="846.94" font-size="11" font-weight="bold" stroke="#111" stroke-width="0.3" text-anchor="end" fill="#111">18</text>
<line x1="415.8" y1="962.6" x2="550" y2="962.6" stroke="#555" stroke-width="1.2"/>
<line x1="456.5" y1="859.8" x2="516.5" y2="859.8" stroke="#888" stroke-width="1.4"/>
<text x="483.3" y="854.6" font-size="9.6" text-anchor="middle" fill="#111" stroke="#111" stroke-width="0.2"><tspan font-style="italic">p</tspan>=0.003</text>
<text x="461" y="976.5" font-size="13" font-weight="bold" stroke="#111" stroke-width="0.3" text-anchor="end" fill="#111" transform="rotate(-45 461 976.5)">Yes</text>
<text x="523" y="977.5" font-size="13" font-weight="bold" stroke="#111" stroke-width="0.3" text-anchor="end" fill="#111" transform="rotate(-45 523 977.5)">No</text>
</svg></body></html>
